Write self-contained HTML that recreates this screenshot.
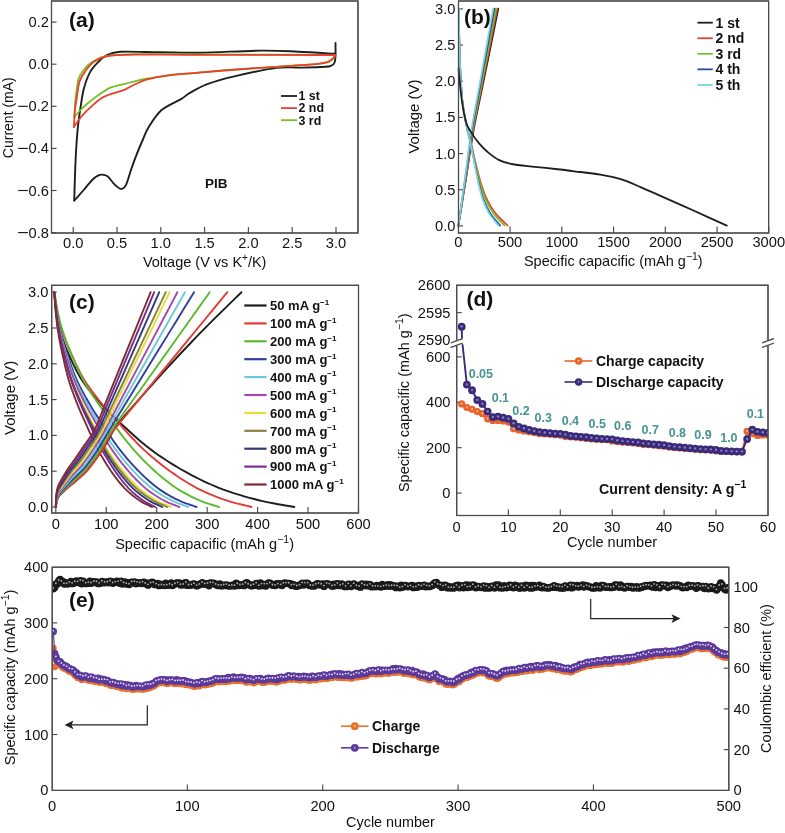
<!DOCTYPE html>
<html><head><meta charset="utf-8"><style>
html,body{margin:0;padding:0;background:#fff;width:785px;height:833px;overflow:hidden}
svg{display:block;will-change:transform;font-family:"Liberation Sans", sans-serif}
</style></head><body>
<svg width="785" height="833" viewBox="0 0 785 833">
<rect width="785" height="833" fill="#fff"/>
<rect x="51.5" y="1" width="306.5" height="232" fill="none" stroke="#4a4a4a" stroke-width="1.15"/>
<line x1="73.2" y1="233" x2="73.2" y2="227" stroke="#4a4a4a" stroke-width="1.15"/>
<text x="73.2" y="247.5" font-size="14.7" text-anchor="middle" font-weight="normal" fill="#111" >0.0</text>
<line x1="117" y1="233" x2="117" y2="227" stroke="#4a4a4a" stroke-width="1.15"/>
<text x="117" y="247.5" font-size="14.7" text-anchor="middle" font-weight="normal" fill="#111" >0.5</text>
<line x1="160.8" y1="233" x2="160.8" y2="227" stroke="#4a4a4a" stroke-width="1.15"/>
<text x="160.8" y="247.5" font-size="14.7" text-anchor="middle" font-weight="normal" fill="#111" >1.0</text>
<line x1="204.6" y1="233" x2="204.6" y2="227" stroke="#4a4a4a" stroke-width="1.15"/>
<text x="204.6" y="247.5" font-size="14.7" text-anchor="middle" font-weight="normal" fill="#111" >1.5</text>
<line x1="248.4" y1="233" x2="248.4" y2="227" stroke="#4a4a4a" stroke-width="1.15"/>
<text x="248.4" y="247.5" font-size="14.7" text-anchor="middle" font-weight="normal" fill="#111" >2.0</text>
<line x1="292.2" y1="233" x2="292.2" y2="227" stroke="#4a4a4a" stroke-width="1.15"/>
<text x="292.2" y="247.5" font-size="14.7" text-anchor="middle" font-weight="normal" fill="#111" >2.5</text>
<line x1="336" y1="233" x2="336" y2="227" stroke="#4a4a4a" stroke-width="1.15"/>
<text x="336" y="247.5" font-size="14.7" text-anchor="middle" font-weight="normal" fill="#111" >3.0</text>
<line x1="51.5" y1="22.1" x2="56.5" y2="22.1" stroke="#4a4a4a" stroke-width="1.15"/>
<text x="49" y="27.1" font-size="14.7" text-anchor="end" font-weight="normal" fill="#111" >0.2</text>
<line x1="51.5" y1="64.2" x2="56.5" y2="64.2" stroke="#4a4a4a" stroke-width="1.15"/>
<text x="49" y="69.2" font-size="14.7" text-anchor="end" font-weight="normal" fill="#111" >0.0</text>
<line x1="51.5" y1="106.3" x2="56.5" y2="106.3" stroke="#4a4a4a" stroke-width="1.15"/>
<text x="49" y="111.3" font-size="14.7" text-anchor="end" font-weight="normal" fill="#111" >0.2</text>
<line x1="18.2" y1="106.3" x2="27.9" y2="106.3" stroke="#1a1a1a" stroke-width="1.15"/>
<line x1="51.5" y1="148.4" x2="56.5" y2="148.4" stroke="#4a4a4a" stroke-width="1.15"/>
<text x="49" y="153.4" font-size="14.7" text-anchor="end" font-weight="normal" fill="#111" >0.4</text>
<line x1="18.2" y1="148.4" x2="27.9" y2="148.4" stroke="#1a1a1a" stroke-width="1.15"/>
<line x1="51.5" y1="190.5" x2="56.5" y2="190.5" stroke="#4a4a4a" stroke-width="1.15"/>
<text x="49" y="195.5" font-size="14.7" text-anchor="end" font-weight="normal" fill="#111" >0.6</text>
<line x1="18.2" y1="190.5" x2="27.9" y2="190.5" stroke="#1a1a1a" stroke-width="1.15"/>
<line x1="51.5" y1="232.6" x2="56.5" y2="232.6" stroke="#4a4a4a" stroke-width="1.15"/>
<text x="49" y="237.6" font-size="14.7" text-anchor="end" font-weight="normal" fill="#111" >0.8</text>
<line x1="18.2" y1="232.6" x2="27.9" y2="232.6" stroke="#1a1a1a" stroke-width="1.15"/>
<text x="204.7" y="266.5" font-size="14.5" text-anchor="middle" font-weight="normal" fill="#111" >Voltage (V vs K<tspan font-size="10" dy="-5.5">+</tspan><tspan dy="5.5">/K)</tspan></text>
<text x="0" y="0" font-size="14" text-anchor="middle" font-weight="normal" fill="#111" transform="translate(12.5,117.7) rotate(-90)">Current (mA)</text>
<text x="69" y="26.7" font-size="21" text-anchor="start" font-weight="bold" fill="#111" >(a)</text>
<text x="205" y="188.3" font-size="13.5" text-anchor="start" font-weight="bold" fill="#111" >PIB</text>
<line x1="281" y1="96" x2="297" y2="96" stroke="#1e1e1e" stroke-width="1.8"/>
<text x="298.5" y="100.3" font-size="12.4" text-anchor="start" font-weight="bold" fill="#111" >1 st</text>
<line x1="281" y1="108.1" x2="297" y2="108.1" stroke="#e8412c" stroke-width="1.8"/>
<text x="298.5" y="112.4" font-size="12.4" text-anchor="start" font-weight="bold" fill="#111" >2 nd</text>
<line x1="281" y1="120.2" x2="297" y2="120.2" stroke="#76c021" stroke-width="1.8"/>
<text x="298.5" y="124.5" font-size="12.4" text-anchor="start" font-weight="bold" fill="#111" >3 rd</text>
<path d="M335.5 43C335.5 45.17 335.65 52.75 335.5 56C335.35 59.25 335.27 60.92 334.6 62.5C333.93 64.08 333.1 64.78 331.5 65.5C329.9 66.22 330.25 66.45 325 66.8C319.75 67.15 308.07 67.42 300 67.6C291.93 67.78 287.72 66.4 276.6 67.9C265.48 69.4 244.85 73.9 233.3 76.6C221.75 79.3 214.52 81.4 207.3 84.1C200.08 86.8 194.38 90.3 190 92.8C185.62 95.3 185.73 96.23 181 99.1C176.27 101.97 167 105.32 161.6 110C156.2 114.68 151.75 122.2 148.6 127.2C145.45 132.2 144.75 135.32 142.7 140C140.65 144.68 138.22 150.42 136.3 155.3C134.38 160.18 132.9 164.42 131.2 169.3C129.5 174.18 127.8 181.32 126.1 184.6C124.4 187.88 122.9 189 121 189C119.1 189 116.82 186.62 114.7 184.6C112.58 182.58 109.92 178.48 108.3 176.9C106.68 175.32 106.07 175.48 105 175.1C103.93 174.72 103.07 174.52 101.9 174.6C100.73 174.68 99.32 174.98 98 175.6C96.68 176.22 95.5 176.97 94 178.3C92.5 179.63 90.65 181.73 89 183.6C87.35 185.47 85.77 187.55 84.1 189.5C82.43 191.45 80.65 193.47 79 195.3C77.35 197.13 75 199.63 74.2 200.5" fill="none" stroke="#1e1e1e" stroke-width="1.9" stroke-linejoin="round" stroke-linecap="round" />
<path d="M74.2 200.5C74.43 193.75 75.03 171.75 75.6 160C76.17 148.25 76.78 138.72 77.6 130C78.42 121.28 79.45 114.62 80.5 107.7C81.55 100.78 82.3 94.43 83.9 88.5C85.5 82.57 87.62 76.6 90.1 72.1C92.58 67.6 96.07 64.3 98.8 61.5C101.53 58.7 102.88 56.92 106.5 55.3C110.12 53.68 111.58 52.3 120.5 51.8C129.42 51.3 146.75 52.15 160 52.3C173.25 52.45 183.08 52.98 200 52.7C216.92 52.42 245.12 50.77 261.5 50.6C277.88 50.43 286.03 51.17 298.3 51.7C310.57 52.23 328.97 53.45 335.1 53.8" fill="none" stroke="#1e1e1e" stroke-width="1.9" stroke-linejoin="round" stroke-linecap="round" />
<path d="M335.5 55C334.72 55.97 333.38 59.37 330.8 60.8C328.22 62.23 329.03 62.6 320 63.6C310.97 64.6 291.6 65.73 276.6 66.8C261.6 67.87 244.43 68.92 230 70C215.57 71.08 200.33 72.37 190 73.3C179.67 74.23 175.27 74.72 168 75.6C160.73 76.48 152.73 77.45 146.4 78.6C140.07 79.75 135.4 81.18 130 82.5C124.6 83.82 117.67 85.43 114 86.5C110.33 87.57 110.87 87.28 108 88.9C105.13 90.52 100.27 93.72 96.8 96.2C93.33 98.68 90 101.42 87.2 103.8C84.4 106.18 82.15 108.25 80 110.5C77.85 112.75 75.25 116.17 74.3 117.3" fill="none" stroke="#76c021" stroke-width="1.8" stroke-linejoin="round" stroke-linecap="round" />
<path d="M74.3 117.3C74.43 114.92 74.78 107 75.1 103C75.42 99 75.62 97.33 76.2 93.3C76.78 89.27 77.4 82.65 78.6 78.8C79.8 74.95 81.17 73 83.4 70.2C85.63 67.4 88.15 64.37 92 62C95.85 59.63 99.23 57.3 106.5 56C113.77 54.7 120.02 54.47 135.6 54.2C151.18 53.93 166.75 54.3 200 54.4C233.25 54.5 312.58 54.73 335.1 54.8" fill="none" stroke="#76c021" stroke-width="1.8" stroke-linejoin="round" stroke-linecap="round" />
<path d="M335.5 54.9C334.72 55.8 333.38 58.85 330.8 60.3C328.22 61.75 329.03 62.52 320 63.6C310.97 64.68 291.6 65.73 276.6 66.8C261.6 67.87 244.43 68.92 230 70C215.57 71.08 200.33 72.4 190 73.3C179.67 74.2 175.27 74.33 168 75.4C160.73 76.47 152.52 77.9 146.4 79.7C140.28 81.5 134.9 84.55 131.3 86.2C127.7 87.85 128.68 88.1 124.8 89.6C120.92 91.1 111.85 93.78 108 95.2C104.15 96.62 104.37 96.33 101.7 98.1C99.03 99.87 95.22 102.92 92 105.8C88.78 108.68 85.43 111.88 82.4 115.4C79.37 118.92 75.23 124.98 73.8 126.9" fill="none" stroke="#e8412c" stroke-width="1.8" stroke-linejoin="round" stroke-linecap="round" />
<path d="M73.8 126.9C74 124.08 74.52 114.8 75 110C75.48 105.2 75.95 102.82 76.7 98.1C77.45 93.38 78.07 86.18 79.5 81.7C80.93 77.22 83.05 74.4 85.3 71.2C87.55 68 89.47 64.99 93 62.5C96.53 60.01 99.4 57.57 106.5 56.25C113.6 54.93 120.02 54.83 135.6 54.6C151.18 54.38 166.75 54.83 200 54.9C233.25 54.97 312.58 54.98 335.1 55" fill="none" stroke="#e8412c" stroke-width="1.8" stroke-linejoin="round" stroke-linecap="round" />
<rect x="458.5" y="1" width="310.1" height="232" fill="none" stroke="#4a4a4a" stroke-width="1.15"/>
<text x="458.3" y="246.8" font-size="14.7" text-anchor="middle" font-weight="normal" fill="#111" >0</text>
<line x1="510.05" y1="233" x2="510.05" y2="226.5" stroke="#4a4a4a" stroke-width="1.15"/>
<text x="510.05" y="246.8" font-size="14.7" text-anchor="middle" font-weight="normal" fill="#111" >500</text>
<line x1="561.8" y1="233" x2="561.8" y2="226.5" stroke="#4a4a4a" stroke-width="1.15"/>
<text x="561.8" y="246.8" font-size="14.7" text-anchor="middle" font-weight="normal" fill="#111" >1000</text>
<line x1="613.55" y1="233" x2="613.55" y2="226.5" stroke="#4a4a4a" stroke-width="1.15"/>
<text x="613.55" y="246.8" font-size="14.7" text-anchor="middle" font-weight="normal" fill="#111" >1500</text>
<line x1="665.3" y1="233" x2="665.3" y2="226.5" stroke="#4a4a4a" stroke-width="1.15"/>
<text x="665.3" y="246.8" font-size="14.7" text-anchor="middle" font-weight="normal" fill="#111" >2000</text>
<line x1="717.05" y1="233" x2="717.05" y2="226.5" stroke="#4a4a4a" stroke-width="1.15"/>
<text x="717.05" y="246.8" font-size="14.7" text-anchor="middle" font-weight="normal" fill="#111" >2500</text>
<line x1="768.8" y1="233" x2="768.8" y2="226.5" stroke="#4a4a4a" stroke-width="1.15"/>
<text x="768.8" y="246.8" font-size="14.7" text-anchor="middle" font-weight="normal" fill="#111" >3000</text>
<line x1="458.5" y1="225.9" x2="463" y2="225.9" stroke="#4a4a4a" stroke-width="1.15"/>
<text x="455.5" y="230.9" font-size="14.7" text-anchor="end" font-weight="normal" fill="#111" >0.0</text>
<line x1="458.5" y1="189.74" x2="463" y2="189.74" stroke="#4a4a4a" stroke-width="1.15"/>
<text x="455.5" y="194.74" font-size="14.7" text-anchor="end" font-weight="normal" fill="#111" >0.5</text>
<line x1="458.5" y1="153.57" x2="463" y2="153.57" stroke="#4a4a4a" stroke-width="1.15"/>
<text x="455.5" y="158.57" font-size="14.7" text-anchor="end" font-weight="normal" fill="#111" >1.0</text>
<line x1="458.5" y1="117.41" x2="463" y2="117.41" stroke="#4a4a4a" stroke-width="1.15"/>
<text x="455.5" y="122.41" font-size="14.7" text-anchor="end" font-weight="normal" fill="#111" >1.5</text>
<line x1="458.5" y1="81.24" x2="463" y2="81.24" stroke="#4a4a4a" stroke-width="1.15"/>
<text x="455.5" y="86.24" font-size="14.7" text-anchor="end" font-weight="normal" fill="#111" >2.0</text>
<line x1="458.5" y1="45.08" x2="463" y2="45.08" stroke="#4a4a4a" stroke-width="1.15"/>
<text x="455.5" y="50.08" font-size="14.7" text-anchor="end" font-weight="normal" fill="#111" >2.5</text>
<line x1="458.5" y1="8.91" x2="463" y2="8.91" stroke="#4a4a4a" stroke-width="1.15"/>
<text x="455.5" y="13.91" font-size="14.7" text-anchor="end" font-weight="normal" fill="#111" >3.0</text>
<text x="613.3" y="266.2" font-size="14.5" text-anchor="middle" font-weight="normal" fill="#111" >Specific capacific (mAh g<tspan font-size="10.5" dy="-6">−1</tspan><tspan dy="6">)</tspan></text>
<text x="0" y="0" font-size="15" text-anchor="middle" font-weight="normal" fill="#111" transform="translate(418.8,116.5) rotate(-90)">Voltage (V)</text>
<text x="464" y="24.3" font-size="21" text-anchor="start" font-weight="bold" fill="#111" >(b)</text>
<line x1="697.4" y1="22.7" x2="712.8" y2="22.7" stroke="#1e1e1e" stroke-width="1.8"/>
<text x="715.5" y="27.7" font-size="14" text-anchor="start" font-weight="bold" fill="#111" >1 st</text>
<line x1="697.4" y1="38.25" x2="712.8" y2="38.25" stroke="#e8412c" stroke-width="1.8"/>
<text x="715.5" y="43.25" font-size="14" text-anchor="start" font-weight="bold" fill="#111" >2 nd</text>
<line x1="697.4" y1="53.8" x2="712.8" y2="53.8" stroke="#76c021" stroke-width="1.8"/>
<text x="715.5" y="58.8" font-size="14" text-anchor="start" font-weight="bold" fill="#111" >3 rd</text>
<line x1="697.4" y1="69.35" x2="712.8" y2="69.35" stroke="#2a4aa8" stroke-width="1.8"/>
<text x="715.5" y="74.35" font-size="14" text-anchor="start" font-weight="bold" fill="#111" >4 th</text>
<line x1="697.4" y1="84.9" x2="712.8" y2="84.9" stroke="#7fd3e0" stroke-width="1.8"/>
<text x="715.5" y="89.9" font-size="14" text-anchor="start" font-weight="bold" fill="#111" >5 th</text>
<path d="M458.4 225.9C459.69 217.92 463.58 193.98 466.13 178C468.67 162.02 470.87 145.5 473.65 130C476.43 114.5 479.76 100 482.81 85C485.86 70 489.39 52.73 491.97 40C494.55 27.27 497.25 13.83 498.31 8.6" fill="none" stroke="#1e1e1e" stroke-width="1.7" stroke-linejoin="round" stroke-linecap="round" />
<path d="M458.4 225.9C459.65 217.92 463.42 193.98 465.88 178C468.34 162.02 470.47 145.5 473.17 130C475.87 114.5 479.12 100 482.1 85C485.07 70 488.51 52.73 491.03 40C493.54 27.27 496.18 13.83 497.21 8.6" fill="none" stroke="#e8412c" stroke-width="1.7" stroke-linejoin="round" stroke-linecap="round" />
<path d="M458.4 225.9C459.6 217.92 463.25 193.98 465.62 178C467.99 162.02 470.02 145.5 472.64 130C475.25 114.5 478.42 100 481.32 85C484.21 70 487.55 52.73 490 40C492.45 27.27 495 13.83 496 8.6" fill="none" stroke="#76c021" stroke-width="1.7" stroke-linejoin="round" stroke-linecap="round" />
<path d="M458.4 225.9C459.55 217.92 463.02 193.98 465.29 178C467.55 162.02 469.46 145.5 471.97 130C474.48 114.5 477.55 100 480.34 85C483.13 70 486.35 52.73 488.71 40C491.07 27.27 493.54 13.83 494.5 8.6" fill="none" stroke="#2a4aa8" stroke-width="1.7" stroke-linejoin="round" stroke-linecap="round" />
<path d="M458.4 225.9C459.5 217.92 462.83 193.98 465 178C467.17 162.02 468.98 145.5 471.4 130C473.82 114.5 476.8 100 479.5 85C482.2 70 485.32 52.73 487.6 40C489.88 27.27 492.27 13.83 493.2 8.6" fill="none" stroke="#7fd3e0" stroke-width="1.7" stroke-linejoin="round" stroke-linecap="round" />
<path d="M458.9 8.9C458.97 14.08 459.07 29.82 459.3 40C459.53 50.18 459.8 60 460.3 70C460.8 80 461.27 90.83 462.3 100C463.33 109.17 465.02 117.72 466.5 125C467.98 132.28 469.62 137.07 471.2 143.7C472.78 150.33 474.25 157.78 476 164.8C477.75 171.82 479.8 179.87 481.7 185.8C483.6 191.73 485.1 195.8 487.4 200.4C489.7 205 492.13 209.22 495.5 213.4C498.87 217.58 505.58 223.48 507.6 225.5" fill="none" stroke="#e8412c" stroke-width="1.7" stroke-linejoin="round" stroke-linecap="round" />
<path d="M458.9 8.9C458.97 14.08 459.07 29.82 459.3 40C459.53 50.18 459.8 60 460.3 70C460.8 80 461.26 90.83 462.28 100C463.31 109.17 464.97 117.72 466.43 125C467.89 132.28 469.5 137.07 471.03 143.7C472.55 150.33 473.95 157.78 475.58 164.8C477.21 171.82 479.08 179.87 480.81 185.8C482.54 191.73 483.87 195.8 485.97 200.4C488.06 205 490.27 209.22 493.38 213.4C496.48 217.58 502.73 223.48 504.6 225.5" fill="none" stroke="#76c021" stroke-width="1.7" stroke-linejoin="round" stroke-linecap="round" />
<path d="M458.9 8.9C458.97 14.08 459.07 29.82 459.3 40C459.53 50.18 459.8 60 460.3 70C460.79 80 461.25 90.83 462.26 100C463.26 109.17 464.91 117.72 466.32 125C467.74 132.28 469.33 137.07 470.77 143.7C472.21 150.33 473.52 157.78 474.97 164.8C476.43 171.82 478.02 179.87 479.5 185.8C480.99 191.73 482.07 195.8 483.87 200.4C485.66 205 487.54 209.22 490.26 213.4C492.98 217.58 498.54 223.48 500.2 225.5" fill="none" stroke="#2a4aa8" stroke-width="1.7" stroke-linejoin="round" stroke-linecap="round" />
<path d="M458.9 8.9C458.97 14.08 459.07 29.82 459.3 40C459.53 50.18 459.8 60 460.3 70C460.79 80 461.25 90.83 462.25 100C463.25 109.17 464.88 117.72 466.28 125C467.68 132.28 469.26 137.07 470.67 143.7C472.07 150.33 473.34 157.78 474.72 164.8C476.1 171.82 477.59 179.87 478.97 185.8C480.35 191.73 481.34 195.8 483.01 200.4C484.68 205 486.42 209.22 488.98 213.4C491.55 217.58 496.83 223.48 498.4 225.5" fill="none" stroke="#7fd3e0" stroke-width="1.7" stroke-linejoin="round" stroke-linecap="round" />
<path d="M458.6 68.7C459.08 73.58 460.27 89.12 461.5 98C462.73 106.88 464.38 116.27 466 122C467.62 127.73 468.98 128.78 471.2 132.4C473.42 136.02 476.6 140.47 479.3 143.7C482 146.93 484.17 149.1 487.4 151.8C490.63 154.5 494.65 157.87 498.7 159.9C502.75 161.93 505.65 162.85 511.7 164C517.75 165.15 526.95 165.88 535 166.8C543.05 167.72 552.5 168.63 560 169.5C567.5 170.37 573.27 171.15 580 172C586.73 172.85 593.6 173.42 600.4 174.6C607.2 175.78 614.02 176.98 620.8 179.1C627.58 181.22 634.32 184.42 641.1 187.3C647.88 190.18 652.68 192.48 661.5 196.4C670.32 200.32 683.12 205.93 694 210.8C704.88 215.67 721.33 223.13 726.8 225.6" fill="none" stroke="#1e1e1e" stroke-width="1.8" stroke-linejoin="round" stroke-linecap="round" />
<rect x="51.7" y="285.3" width="306.8" height="227.7" fill="none" stroke="#4a4a4a" stroke-width="1.15"/>
<line x1="55.8" y1="513" x2="55.8" y2="507" stroke="#4a4a4a" stroke-width="1.15"/>
<text x="55.8" y="528.8" font-size="14.7" text-anchor="middle" font-weight="normal" fill="#111" >0</text>
<line x1="106.25" y1="513" x2="106.25" y2="507" stroke="#4a4a4a" stroke-width="1.15"/>
<text x="106.25" y="528.8" font-size="14.7" text-anchor="middle" font-weight="normal" fill="#111" >100</text>
<line x1="156.7" y1="513" x2="156.7" y2="507" stroke="#4a4a4a" stroke-width="1.15"/>
<text x="156.7" y="528.8" font-size="14.7" text-anchor="middle" font-weight="normal" fill="#111" >200</text>
<line x1="207.15" y1="513" x2="207.15" y2="507" stroke="#4a4a4a" stroke-width="1.15"/>
<text x="207.15" y="528.8" font-size="14.7" text-anchor="middle" font-weight="normal" fill="#111" >300</text>
<line x1="257.6" y1="513" x2="257.6" y2="507" stroke="#4a4a4a" stroke-width="1.15"/>
<text x="257.6" y="528.8" font-size="14.7" text-anchor="middle" font-weight="normal" fill="#111" >400</text>
<line x1="308.05" y1="513" x2="308.05" y2="507" stroke="#4a4a4a" stroke-width="1.15"/>
<text x="308.05" y="528.8" font-size="14.7" text-anchor="middle" font-weight="normal" fill="#111" >500</text>
<line x1="358.5" y1="513" x2="358.5" y2="507" stroke="#4a4a4a" stroke-width="1.15"/>
<text x="358.5" y="528.8" font-size="14.7" text-anchor="middle" font-weight="normal" fill="#111" >600</text>
<line x1="51.7" y1="507" x2="56.7" y2="507" stroke="#4a4a4a" stroke-width="1.15"/>
<text x="48.5" y="512" font-size="14.7" text-anchor="end" font-weight="normal" fill="#111" >0.0</text>
<line x1="51.7" y1="471.2" x2="56.7" y2="471.2" stroke="#4a4a4a" stroke-width="1.15"/>
<text x="48.5" y="476.2" font-size="14.7" text-anchor="end" font-weight="normal" fill="#111" >0.5</text>
<line x1="51.7" y1="435.4" x2="56.7" y2="435.4" stroke="#4a4a4a" stroke-width="1.15"/>
<text x="48.5" y="440.4" font-size="14.7" text-anchor="end" font-weight="normal" fill="#111" >1.0</text>
<line x1="51.7" y1="399.6" x2="56.7" y2="399.6" stroke="#4a4a4a" stroke-width="1.15"/>
<text x="48.5" y="404.6" font-size="14.7" text-anchor="end" font-weight="normal" fill="#111" >1.5</text>
<line x1="51.7" y1="363.8" x2="56.7" y2="363.8" stroke="#4a4a4a" stroke-width="1.15"/>
<text x="48.5" y="368.8" font-size="14.7" text-anchor="end" font-weight="normal" fill="#111" >2.0</text>
<line x1="51.7" y1="328" x2="56.7" y2="328" stroke="#4a4a4a" stroke-width="1.15"/>
<text x="48.5" y="333" font-size="14.7" text-anchor="end" font-weight="normal" fill="#111" >2.5</text>
<line x1="51.7" y1="292.2" x2="56.7" y2="292.2" stroke="#4a4a4a" stroke-width="1.15"/>
<text x="48.5" y="297.2" font-size="14.7" text-anchor="end" font-weight="normal" fill="#111" >3.0</text>
<text x="204.6" y="549" font-size="14.5" text-anchor="middle" font-weight="normal" fill="#111" >Specific capacific (mAh g<tspan font-size="10.5" dy="-6">−1</tspan><tspan dy="6">)</tspan></text>
<text x="0" y="0" font-size="15" text-anchor="middle" font-weight="normal" fill="#111" transform="translate(14.6,397.9) rotate(-90)">Voltage (V)</text>
<text x="69" y="308.9" font-size="21" text-anchor="start" font-weight="bold" fill="#111" >(c)</text>
<line x1="244.3" y1="305.5" x2="266.6" y2="305.5" stroke="#1e1e1e" stroke-width="2.2"/>
<text x="270" y="310.3" font-size="13" text-anchor="start" font-weight="bold" fill="#111" >50 mA g<tspan font-size="8" dy="-5.5">−1</tspan></text>
<line x1="244.3" y1="323.4" x2="266.6" y2="323.4" stroke="#e23b35" stroke-width="2.2"/>
<text x="270" y="328.2" font-size="13" text-anchor="start" font-weight="bold" fill="#111" >100 mA g<tspan font-size="8" dy="-5.5">−1</tspan></text>
<line x1="244.3" y1="341.3" x2="266.6" y2="341.3" stroke="#5cb82e" stroke-width="2.2"/>
<text x="270" y="346.1" font-size="13" text-anchor="start" font-weight="bold" fill="#111" >200 mA g<tspan font-size="8" dy="-5.5">−1</tspan></text>
<line x1="244.3" y1="359.2" x2="266.6" y2="359.2" stroke="#2f3f9c" stroke-width="2.2"/>
<text x="270" y="364" font-size="13" text-anchor="start" font-weight="bold" fill="#111" >300 mA g<tspan font-size="8" dy="-5.5">−1</tspan></text>
<line x1="244.3" y1="377.1" x2="266.6" y2="377.1" stroke="#6ccad8" stroke-width="2.2"/>
<text x="270" y="381.9" font-size="13" text-anchor="start" font-weight="bold" fill="#111" >400 mA g<tspan font-size="8" dy="-5.5">−1</tspan></text>
<line x1="244.3" y1="395" x2="266.6" y2="395" stroke="#a54aad" stroke-width="2.2"/>
<text x="270" y="399.8" font-size="13" text-anchor="start" font-weight="bold" fill="#111" >500 mA g<tspan font-size="8" dy="-5.5">−1</tspan></text>
<line x1="244.3" y1="412.9" x2="266.6" y2="412.9" stroke="#e8dc3a" stroke-width="2.2"/>
<text x="270" y="417.7" font-size="13" text-anchor="start" font-weight="bold" fill="#111" >600 mA g<tspan font-size="8" dy="-5.5">−1</tspan></text>
<line x1="244.3" y1="430.8" x2="266.6" y2="430.8" stroke="#8a8040" stroke-width="2.2"/>
<text x="270" y="435.6" font-size="13" text-anchor="start" font-weight="bold" fill="#111" >700 mA g<tspan font-size="8" dy="-5.5">−1</tspan></text>
<line x1="244.3" y1="448.7" x2="266.6" y2="448.7" stroke="#343a78" stroke-width="2.2"/>
<text x="270" y="453.5" font-size="13" text-anchor="start" font-weight="bold" fill="#111" >800 mA g<tspan font-size="8" dy="-5.5">−1</tspan></text>
<line x1="244.3" y1="466.6" x2="266.6" y2="466.6" stroke="#7a2a90" stroke-width="2.2"/>
<text x="270" y="471.4" font-size="13" text-anchor="start" font-weight="bold" fill="#111" >900 mA g<tspan font-size="8" dy="-5.5">−1</tspan></text>
<line x1="244.3" y1="484.5" x2="266.6" y2="484.5" stroke="#7a2e32" stroke-width="2.2"/>
<text x="270" y="489.3" font-size="13" text-anchor="start" font-weight="bold" fill="#111" >1000 mA g<tspan font-size="8" dy="-5.5">−1</tspan></text>
<path d="M294.28 507L292.88 506.75L290.27 506.29L286.83 505.69L282.72 504.99L278.1 504.19L273.19 503.3L268.26 502.34L263.52 501.31L258.82 500.21L254.14 499.04L249.52 497.82L244.95 496.54L240.42 495.21L235.9 493.82L231.44 492.38L227.06 490.9L222.82 489.37L218.74 487.79L214.81 486.16L210.93 484.5L207.1 482.79L203.33 481.04L199.62 479.25L195.97 477.42L192.36 475.55L188.8 473.65L185.28 471.7L181.78 469.73L178.3 467.71L174.86 465.66L171.45 463.58L168.08 461.46L164.76 459.31L161.48 457.12L158.25 454.91L155.08 452.66L151.96 450.38L148.89 448.07L145.9 445.73L142.98 443.36L140.12 440.95L137.31 438.52L134.54 436.06L131.8 433.57L129.06 431.06L126.32 428.51L123.55 425.94L120.75 423.34L117.91 420.71L115.06 418.05L112.22 415.37L109.41 412.66L106.65 409.93L103.98 407.17L101.42 404.38L98.91 401.57L96.42 398.74L93.96 395.87L91.54 392.99L89.18 390.08L86.89 387.14L84.71 384.18L82.64 381.2L80.71 378.19L78.91 375.16L77.22 372.11L75.62 369.03L74.09 365.93L72.61 362.81L71.17 359.66L69.74 356.49L68.32 353.3L66.93 350.09L65.58 346.85L64.31 343.6L63.13 340.32L62.05 337.02L61.01 333.69L60.02 330.35L59.11 326.99L58.3 323.6L57.62 320.19L57.03 316.77L56.49 313.32L56.01 309.85L55.57 306.36L55.19 302.85L54.87 299.32L54.59 295.77L54.29 292.2" fill="none" stroke="#1e1e1e" stroke-width="1.9" stroke-linejoin="round" stroke-linecap="round" />
<path d="M251.55 507L250.55 506.75L248.68 506.29L246.21 505.69L243.26 504.99L239.94 504.19L236.39 503.3L232.81 502.34L229.38 501.31L225.95 500.21L222.53 499.04L219.14 497.82L215.78 496.54L212.44 495.21L209.1 493.82L205.78 492.38L202.53 490.9L199.35 489.37L196.3 487.79L193.34 486.16L190.41 484.5L187.52 482.79L184.66 481.04L181.83 479.25L179.04 477.42L176.27 475.55L173.53 473.65L170.81 471.7L168.1 469.73L165.4 467.71L162.71 465.66L160.04 463.58L157.39 461.46L154.77 459.31L152.17 457.12L149.6 454.91L147.06 452.66L144.56 450.38L142.1 448.07L139.68 445.73L137.3 443.36L134.97 440.95L132.67 438.52L130.39 436.06L128.12 433.57L125.85 431.06L123.57 428.51L121.25 425.94L118.88 423.34L116.48 420.71L114.05 418.05L111.61 415.37L109.18 412.66L106.79 409.93L104.45 407.17L102.2 404.38L99.98 401.57L97.75 398.74L95.53 395.87L93.33 392.99L91.17 390.08L89.07 387.14L87.03 384.18L85.09 381.2L83.26 378.19L81.53 375.16L79.9 372.11L78.34 369.03L76.83 365.93L75.36 362.81L73.91 359.66L72.46 356.49L71 353.3L69.54 350.09L68.12 346.85L66.76 343.6L65.47 340.32L64.27 337.02L63.1 333.69L61.96 330.35L60.89 326.99L59.91 323.6L59.08 320.19L58.33 316.77L57.63 313.32L56.98 309.85L56.38 306.36L55.83 302.85L55.34 299.32L54.88 295.77L54.29 292.2" fill="none" stroke="#e23b35" stroke-width="1.9" stroke-linejoin="round" stroke-linecap="round" />
<path d="M219.01 507L218.23 506.75L216.79 506.29L214.89 505.69L212.6 504.99L210.02 504.19L207.27 503.3L204.49 502.34L201.81 501.31L199.14 500.21L196.47 499.04L193.82 497.82L191.19 496.54L188.57 495.21L185.95 493.82L183.34 492.38L180.77 490.9L178.26 489.37L175.85 487.79L173.51 486.16L171.18 484.5L168.88 482.79L166.61 481.04L164.35 479.25L162.12 477.42L159.91 475.55L157.72 473.65L155.53 471.7L153.35 469.73L151.17 467.71L149 465.66L146.85 463.58L144.7 461.46L142.57 459.31L140.46 457.12L138.37 454.91L136.3 452.66L134.25 450.38L132.23 448.07L130.24 445.73L128.29 443.36L126.36 440.95L124.46 438.52L122.57 436.06L120.69 433.57L118.8 431.06L116.89 428.51L114.95 425.94L112.97 423.34L110.95 420.71L108.89 418.05L106.83 415.37L104.77 412.66L102.73 409.93L100.74 407.17L98.8 404.38L96.89 401.57L94.97 398.74L93.04 395.87L91.13 392.99L89.24 390.08L87.39 387.14L85.6 384.18L83.87 381.2L82.24 378.19L80.71 375.16L79.24 372.11L77.82 369.03L76.46 365.93L75.12 362.81L73.79 359.66L72.45 356.49L71.1 353.3L69.74 350.09L68.41 346.85L67.11 343.6L65.88 340.32L64.73 337.02L63.59 333.69L62.47 330.35L61.41 326.99L60.43 323.6L59.58 320.19L58.81 316.77L58.08 313.32L57.4 309.85L56.75 306.36L56.14 302.85L55.59 299.32L55.05 295.77L54.29 292.2" fill="none" stroke="#5cb82e" stroke-width="1.9" stroke-linejoin="round" stroke-linecap="round" />
<path d="M196.56 507L195.85 506.75L194.53 506.29L192.78 505.69L190.69 504.99L188.34 504.19L185.82 503.3L183.29 502.34L180.85 501.31L178.42 500.21L176 499.04L173.59 497.82L171.21 496.54L168.83 495.21L166.46 493.82L164.1 492.38L161.79 490.9L159.53 489.37L157.36 487.79L155.25 486.16L153.16 484.5L151.1 482.79L149.06 481.04L147.05 479.25L145.05 477.42L143.08 475.55L141.12 473.65L139.18 471.7L137.24 469.73L135.31 467.71L133.38 465.66L131.47 463.58L129.58 461.46L127.7 459.31L125.84 457.12L123.99 454.91L122.17 452.66L120.38 450.38L118.61 448.07L116.87 445.73L115.16 443.36L113.48 440.95L111.83 438.52L110.19 436.06L108.55 433.57L106.91 431.06L105.26 428.51L103.59 425.94L101.88 423.34L100.14 420.71L98.38 418.05L96.62 415.37L94.86 412.66L93.13 409.93L91.43 407.17L89.79 404.38L88.18 401.57L86.55 398.74L84.94 395.87L83.34 392.99L81.76 390.08L80.22 387.14L78.73 384.18L77.3 381.2L75.96 378.19L74.7 375.16L73.5 372.11L72.34 369.03L71.23 365.93L70.15 362.81L69.08 359.66L68 356.49L66.92 353.3L65.84 350.09L64.79 346.85L63.77 343.6L62.81 340.32L61.91 337.02L61.03 333.69L60.18 330.35L59.37 326.99L58.63 323.6L58 320.19L57.43 316.77L56.89 313.32L56.4 309.85L55.93 306.36L55.51 302.85L55.12 299.32L54.76 295.77L54.29 292.2" fill="none" stroke="#2f3f9c" stroke-width="1.9" stroke-linejoin="round" stroke-linecap="round" />
<path d="M188.38 507L187.71 506.75L186.46 506.29L184.8 505.69L182.82 504.99L180.59 504.19L178.2 503.3L175.8 502.34L173.49 501.31L171.19 500.21L168.89 499.04L166.61 497.82L164.35 496.54L162.1 495.21L159.85 493.82L157.62 492.38L155.43 490.9L153.29 489.37L151.23 487.79L149.24 486.16L147.26 484.5L145.31 482.79L143.38 481.04L141.47 479.25L139.59 477.42L137.72 475.55L135.87 473.65L134.03 471.7L132.2 469.73L130.37 467.71L128.56 465.66L126.75 463.58L124.96 461.46L123.18 459.31L121.43 457.12L119.69 454.91L117.97 452.66L116.27 450.38L114.6 448.07L112.96 445.73L111.35 443.36L109.77 440.95L108.21 438.52L106.66 436.06L105.12 433.57L103.57 431.06L102.02 428.51L100.44 425.94L98.83 423.34L97.19 420.71L95.54 418.05L93.88 415.37L92.22 412.66L90.59 409.93L88.99 407.17L87.45 404.38L85.93 401.57L84.41 398.74L82.89 395.87L81.39 392.99L79.91 390.08L78.46 387.14L77.06 384.18L75.73 381.2L74.47 378.19L73.28 375.16L72.16 372.11L71.08 369.03L70.04 365.93L69.03 362.81L68.02 359.66L67.02 356.49L66.01 353.3L65 350.09L64.02 346.85L63.07 343.6L62.17 340.32L61.34 337.02L60.52 333.69L59.72 330.35L58.97 326.99L58.29 323.6L57.7 320.19L57.17 316.77L56.68 313.32L56.22 309.85L55.8 306.36L55.4 302.85L55.05 299.32L54.72 295.77L54.29 292.2" fill="none" stroke="#6ccad8" stroke-width="1.9" stroke-linejoin="round" stroke-linecap="round" />
<path d="M179.4 507L178.78 506.75L177.62 506.29L176.09 505.69L174.25 504.99L172.18 504.19L169.97 503.3L167.74 502.34L165.59 501.31L163.46 500.21L161.32 499.04L159.21 497.82L157.11 496.54L155.02 495.21L152.94 493.82L150.86 492.38L148.83 490.9L146.84 489.37L144.93 487.79L143.08 486.16L141.24 484.5L139.43 482.79L137.63 481.04L135.86 479.25L134.11 477.42L132.37 475.55L130.65 473.65L128.94 471.7L127.24 469.73L125.54 467.71L123.85 465.66L122.17 463.58L120.5 461.46L118.85 459.31L117.21 457.12L115.59 454.91L113.99 452.66L112.41 450.38L110.85 448.07L109.32 445.73L107.82 443.36L106.35 440.95L104.89 438.52L103.45 436.06L102.01 433.57L100.57 431.06L99.12 428.51L97.65 425.94L96.14 423.34L94.61 420.71L93.07 418.05L91.52 415.37L89.97 412.66L88.44 409.93L86.95 407.17L85.51 404.38L84.09 401.57L82.66 398.74L81.24 395.87L79.83 392.99L78.45 390.08L77.09 387.14L75.78 384.18L74.53 381.2L73.35 378.19L72.24 375.16L71.18 372.11L70.17 369.03L69.19 365.93L68.24 362.81L67.29 359.66L66.35 356.49L65.4 353.3L64.45 350.09L63.52 346.85L62.62 343.6L61.78 340.32L60.99 337.02L60.22 333.69L59.47 330.35L58.76 326.99L58.11 323.6L57.55 320.19L57.05 316.77L56.58 313.32L56.14 309.85L55.74 306.36L55.36 302.85L55.02 299.32L54.71 295.77L54.29 292.2" fill="none" stroke="#a54aad" stroke-width="1.9" stroke-linejoin="round" stroke-linecap="round" />
<path d="M171.18 507L170.59 506.75L169.48 506.29L168.02 505.69L166.27 504.99L164.3 504.19L162.2 503.3L160.08 502.34L158.04 501.31L156.01 500.21L153.99 499.04L151.98 497.82L149.98 496.54L148 495.21L146.03 493.82L144.06 492.38L142.13 490.9L140.25 489.37L138.44 487.79L136.69 486.16L134.95 484.5L133.24 482.79L131.54 481.04L129.87 479.25L128.21 477.42L126.57 475.55L124.95 473.65L123.34 471.7L121.73 469.73L120.13 467.71L118.54 465.66L116.95 463.58L115.38 461.46L113.83 459.31L112.29 457.12L110.77 454.91L109.27 452.66L107.78 450.38L106.32 448.07L104.89 445.73L103.48 443.36L102.1 440.95L100.74 438.52L99.39 436.06L98.04 433.57L96.7 431.06L95.34 428.51L93.97 425.94L92.57 423.34L91.14 420.71L89.7 418.05L88.26 415.37L86.82 412.66L85.4 409.93L84.02 407.17L82.68 404.38L81.36 401.57L80.04 398.74L78.73 395.87L77.43 392.99L76.15 390.08L74.9 387.14L73.69 384.18L72.54 381.2L71.45 378.19L70.43 375.16L69.46 372.11L68.54 369.03L67.64 365.93L66.77 362.81L65.91 359.66L65.05 356.49L64.19 353.3L63.33 350.09L62.49 346.85L61.68 343.6L60.91 340.32L60.2 337.02L59.51 333.69L58.83 330.35L58.2 326.99L57.62 323.6L57.13 320.19L56.68 316.77L56.27 313.32L55.88 309.85L55.53 306.36L55.2 302.85L54.91 299.32L54.64 295.77L54.29 292.2" fill="none" stroke="#e8dc3a" stroke-width="1.9" stroke-linejoin="round" stroke-linecap="round" />
<path d="M167.29 507L166.72 506.75L165.66 506.29L164.25 505.69L162.56 504.99L160.66 504.19L158.64 503.3L156.6 502.34L154.63 501.31L152.67 500.21L150.72 499.04L148.78 497.82L146.86 496.54L144.95 495.21L143.05 493.82L141.15 492.38L139.29 490.9L137.48 489.37L135.73 487.79L134.04 486.16L132.36 484.5L130.71 482.79L129.07 481.04L127.46 479.25L125.86 477.42L124.28 475.55L122.71 473.65L121.15 471.7L119.6 469.73L118.06 467.71L116.52 465.66L114.99 463.58L113.48 461.46L111.97 459.31L110.49 457.12L109.02 454.91L107.57 452.66L106.13 450.38L104.72 448.07L103.34 445.73L101.98 443.36L100.64 440.95L99.33 438.52L98.02 436.06L96.72 433.57L95.42 431.06L94.11 428.51L92.78 425.94L91.43 423.34L90.05 420.71L88.65 418.05L87.26 415.37L85.87 412.66L84.49 409.93L83.15 407.17L81.86 404.38L80.59 401.57L79.31 398.74L78.03 395.87L76.77 392.99L75.53 390.08L74.32 387.14L73.15 384.18L72.04 381.2L70.98 378.19L70 375.16L69.06 372.11L68.16 369.03L67.29 365.93L66.45 362.81L65.61 359.66L64.78 356.49L63.94 353.3L63.1 350.09L62.28 346.85L61.49 343.6L60.75 340.32L60.06 337.02L59.39 333.69L58.73 330.35L58.11 326.99L57.55 323.6L57.06 320.19L56.63 316.77L56.23 313.32L55.85 309.85L55.5 306.36L55.18 302.85L54.9 299.32L54.63 295.77L54.29 292.2" fill="none" stroke="#8a8040" stroke-width="1.9" stroke-linejoin="round" stroke-linecap="round" />
<path d="M162.25 507L161.71 506.75L160.71 506.29L159.38 505.69L157.79 504.99L155.99 504.19L154.08 503.3L152.15 502.34L150.3 501.31L148.45 500.21L146.6 499.04L144.77 497.82L142.96 496.54L141.15 495.21L139.35 493.82L137.55 492.38L135.79 490.9L134.07 489.37L132.42 487.79L130.82 486.16L129.23 484.5L127.66 482.79L126.11 481.04L124.58 479.25L123.07 477.42L121.57 475.55L120.08 473.65L118.6 471.7L117.13 469.73L115.66 467.71L114.2 465.66L112.75 463.58L111.3 461.46L109.88 459.31L108.46 457.12L107.06 454.91L105.68 452.66L104.32 450.38L102.97 448.07L101.65 445.73L100.36 443.36L99.08 440.95L97.82 438.52L96.58 436.06L95.34 433.57L94.1 431.06L92.84 428.51L91.57 425.94L90.28 423.34L88.96 420.71L87.62 418.05L86.29 415.37L84.95 412.66L83.64 409.93L82.35 407.17L81.11 404.38L79.88 401.57L78.66 398.74L77.43 395.87L76.22 392.99L75.02 390.08L73.86 387.14L72.73 384.18L71.65 381.2L70.63 378.19L69.68 375.16L68.77 372.11L67.9 369.03L67.06 365.93L66.24 362.81L65.43 359.66L64.62 356.49L63.8 353.3L62.99 350.09L62.19 346.85L61.42 343.6L60.69 340.32L60.02 337.02L59.35 333.69L58.71 330.35L58.1 326.99L57.55 323.6L57.07 320.19L56.64 316.77L56.24 313.32L55.87 309.85L55.52 306.36L55.2 302.85L54.91 299.32L54.64 295.77L54.29 292.2" fill="none" stroke="#343a78" stroke-width="1.9" stroke-linejoin="round" stroke-linecap="round" />
<path d="M155.19 507L154.7 506.75L153.8 506.29L152.6 505.69L151.16 504.99L149.54 504.19L147.81 503.3L146.07 502.34L144.39 501.31L142.71 500.21L141.04 499.04L139.38 497.82L137.73 496.54L136.09 495.21L134.45 493.82L132.82 492.38L131.22 490.9L129.65 489.37L128.15 487.79L126.68 486.16L125.24 484.5L123.8 482.79L122.38 481.04L120.98 479.25L119.59 477.42L118.22 475.55L116.86 473.65L115.5 471.7L114.15 469.73L112.8 467.71L111.45 465.66L110.11 463.58L108.79 461.46L107.47 459.31L106.16 457.12L104.87 454.91L103.59 452.66L102.33 450.38L101.08 448.07L99.86 445.73L98.65 443.36L97.47 440.95L96.3 438.52L95.14 436.06L93.98 433.57L92.82 431.06L91.65 428.51L90.46 425.94L89.25 423.34L88.01 420.71L86.76 418.05L85.5 415.37L84.25 412.66L83 409.93L81.79 407.17L80.61 404.38L79.45 401.57L78.29 398.74L77.12 395.87L75.97 392.99L74.83 390.08L73.71 387.14L72.63 384.18L71.59 381.2L70.62 378.19L69.69 375.16L68.81 372.11L67.97 369.03L67.16 365.93L66.36 362.81L65.57 359.66L64.77 356.49L63.97 353.3L63.17 350.09L62.38 346.85L61.62 343.6L60.9 340.32L60.23 337.02L59.56 333.69L58.91 330.35L58.3 326.99L57.73 323.6L57.24 320.19L56.8 316.77L56.39 313.32L56 309.85L55.64 306.36L55.29 302.85L54.99 299.32L54.69 295.77L54.29 292.2" fill="none" stroke="#7a2a90" stroke-width="1.9" stroke-linejoin="round" stroke-linecap="round" />
<path d="M151.91 507L151.4 506.75L150.47 506.29L149.23 505.69L147.74 504.99L146.07 504.19L144.29 503.3L142.49 502.34L140.77 501.31L139.05 500.21L137.33 499.04L135.63 497.82L133.95 496.54L132.27 495.21L130.6 493.82L128.94 492.38L127.31 490.9L125.72 489.37L124.2 487.79L122.72 486.16L121.25 484.5L119.8 482.79L118.38 481.04L116.96 479.25L115.57 477.42L114.19 475.55L112.82 473.65L111.47 471.7L110.11 469.73L108.77 467.71L107.43 465.66L106.1 463.58L104.78 461.46L103.48 459.31L102.18 457.12L100.91 454.91L99.65 452.66L98.4 450.38L97.18 448.07L95.98 445.73L94.8 443.36L93.65 440.95L92.51 438.52L91.38 436.06L90.25 433.57L89.13 431.06L88 428.51L86.85 425.94L85.69 423.34L84.5 420.71L83.3 418.05L82.1 415.37L80.9 412.66L79.72 409.93L78.57 407.17L77.46 404.38L76.37 401.57L75.28 398.74L74.19 395.87L73.11 392.99L72.06 390.08L71.02 387.14L70.03 384.18L69.08 381.2L68.19 378.19L67.35 375.16L66.55 372.11L65.79 369.03L65.06 365.93L64.35 362.81L63.64 359.66L62.94 356.49L62.23 353.3L61.53 350.09L60.85 346.85L60.19 343.6L59.57 340.32L59 337.02L58.43 333.69L57.89 330.35L57.38 326.99L56.92 323.6L56.52 320.19L56.16 316.77L55.84 313.32L55.53 309.85L55.25 306.36L54.99 302.85L54.76 299.32L54.55 295.77L54.29 292.2" fill="none" stroke="#7a2e32" stroke-width="1.9" stroke-linejoin="round" stroke-linecap="round" />
<path d="M55.8 507C55.97 506.05 56.3 503.06 56.81 501.27C57.31 499.48 57.79 497.81 58.83 496.26C59.86 494.71 61.42 493.52 63.01 491.96C64.61 490.41 66.48 488.62 68.41 486.95C70.35 485.28 71.43 484.8 74.62 481.94C77.8 479.08 82.68 475.5 87.53 469.77C92.38 464.04 98.67 455.21 103.73 447.57C108.78 439.93 111.38 432.62 117.85 423.94C124.33 415.26 134.33 404.84 142.57 395.49C150.81 386.14 159.05 376.84 167.29 367.84C175.53 358.84 183.77 350.06 192.01 341.49C200.26 332.93 208.5 324.66 216.74 316.44C224.98 308.23 237.34 296.24 241.46 292.2" fill="none" stroke="#1e1e1e" stroke-width="1.9" stroke-linejoin="round" stroke-linecap="round" />
<path d="M55.8 507C55.97 506.05 56.3 503.06 56.81 501.27C57.31 499.48 57.79 497.81 58.83 496.26C59.86 494.71 61.42 493.52 63.01 491.96C64.61 490.41 66.48 488.62 68.41 486.95C70.35 485.28 71.43 484.74 74.62 481.94C77.8 479.14 82.98 475.38 87.53 470.13C92.08 464.88 97.83 456.7 101.91 450.44C105.99 444.17 106.48 440.2 112 432.54C117.53 424.87 127.38 413.82 135.07 404.47C142.76 395.11 150.44 385.76 158.13 376.4C165.82 367.05 173.51 357.69 181.2 348.33C188.89 338.98 196.58 329.62 204.26 320.27C211.95 310.91 223.49 296.88 227.33 292.2" fill="none" stroke="#e23b35" stroke-width="1.9" stroke-linejoin="round" stroke-linecap="round" />
<path d="M55.8 507C55.95 505.99 56.26 502.84 56.72 500.95C57.19 499.07 57.65 497.31 58.6 495.7C59.56 494.1 60.98 492.88 62.47 491.33C63.95 489.78 65.58 488.22 67.5 486.4C69.42 484.57 70.85 483.29 73.97 480.35C77.1 477.41 81.94 473.79 86.25 468.73C90.56 463.68 95.86 456.12 99.83 450.04C103.8 443.95 105.05 439.86 110.08 432.22C115.11 424.58 123.36 413.55 130 404.21C136.64 394.88 143.28 385.55 149.92 376.21C156.56 366.88 163.2 357.54 169.83 348.21C176.47 338.87 183.11 329.54 189.75 320.2C196.39 310.87 206.35 296.87 209.67 292.2" fill="none" stroke="#5cb82e" stroke-width="1.9" stroke-linejoin="round" stroke-linecap="round" />
<path d="M55.8 507C55.94 505.94 56.21 502.61 56.64 500.64C57.07 498.66 57.5 496.8 58.38 495.15C59.26 493.49 60.55 492.24 61.92 490.69C63.28 489.14 64.68 487.83 66.59 485.84C68.49 483.85 70.27 481.84 73.33 478.76C76.39 475.68 80.9 472.19 84.97 467.34C89.04 462.49 93.89 455.55 97.75 449.64C101.62 443.73 103.56 439.51 108.16 431.9C112.75 424.29 119.61 413.27 125.33 403.96C131.06 394.65 136.78 385.33 142.51 376.02C148.23 366.71 153.96 357.39 159.68 348.08C165.41 338.77 171.13 329.45 176.86 320.14C182.58 310.83 191.17 296.86 194.03 292.2" fill="none" stroke="#2f3f9c" stroke-width="1.9" stroke-linejoin="round" stroke-linecap="round" />
<path d="M55.8 507C55.93 505.89 56.16 502.39 56.56 500.32C56.95 498.25 57.35 496.3 58.15 494.59C58.96 492.88 60.11 491.61 61.37 490.05C62.62 488.5 63.79 487.43 65.67 485.28C67.56 483.13 69.68 480.39 72.68 477.17C75.69 473.94 79.85 470.6 83.68 465.95C87.51 461.3 91.91 454.97 95.67 449.24C99.43 443.51 101.85 439.17 106.23 431.58C110.62 423.99 116.73 413 121.98 403.71C127.22 394.41 132.47 385.12 137.72 375.83C142.97 366.54 148.22 357.24 153.46 347.95C158.71 338.66 163.96 329.37 169.21 320.08C174.46 310.78 182.33 296.85 184.95 292.2" fill="none" stroke="#6ccad8" stroke-width="1.9" stroke-linejoin="round" stroke-linecap="round" />
<path d="M55.8 507C55.91 505.83 56.12 502.16 56.47 500C56.83 497.84 57.21 495.8 57.93 494.03C58.65 492.27 59.68 490.97 60.82 489.42C61.95 487.87 62.89 487.03 64.76 484.72C66.63 482.42 69.1 478.94 72.04 475.58C74.98 472.21 78.81 469.01 82.4 464.56C85.99 460.1 89.94 454.39 93.59 448.84C97.24 443.3 100.09 438.83 104.31 431.26C108.53 423.7 114.05 412.72 118.93 403.45C123.8 394.18 128.67 384.91 133.54 375.64C138.41 366.37 143.28 357.1 148.15 347.83C153.03 338.55 157.9 329.28 162.77 320.01C167.64 310.74 174.95 296.84 177.38 292.2" fill="none" stroke="#a54aad" stroke-width="1.9" stroke-linejoin="round" stroke-linecap="round" />
<path d="M55.8 507C55.9 505.78 56.07 501.93 56.39 499.68C56.71 497.43 57.06 495.29 57.71 493.48C58.35 491.66 59.24 490.33 60.27 488.78C61.29 487.23 61.99 486.63 63.84 484.17C65.7 481.7 68.52 477.48 71.39 473.98C74.27 470.48 77.76 467.42 81.11 463.16C84.47 458.91 87.97 453.82 91.51 448.45C95.06 443.08 98.33 438.49 102.39 430.94C106.44 423.4 111.35 412.45 115.83 403.2C120.32 393.95 124.8 384.7 129.28 375.45C133.76 366.2 138.24 356.95 142.72 347.7C147.21 338.45 151.69 329.2 156.17 319.95C160.65 310.7 167.37 296.82 169.62 292.2" fill="none" stroke="#e8dc3a" stroke-width="1.9" stroke-linejoin="round" stroke-linecap="round" />
<path d="M55.8 507C55.88 505.73 56.02 501.71 56.3 499.36C56.58 497.02 56.91 494.79 57.48 492.92C58.05 491.05 58.81 489.7 59.72 488.15C60.63 486.59 61.09 486.24 62.93 483.61C64.77 480.99 67.93 476.03 70.75 472.39C73.57 468.75 76.72 465.83 79.83 461.77C82.94 457.72 85.99 453.24 89.43 448.05C92.87 442.86 96.45 438.14 100.47 430.63C104.48 423.11 109.17 412.17 113.53 402.94C117.88 393.71 122.24 384.48 126.59 375.26C130.95 366.03 135.3 356.8 139.65 347.57C144.01 338.34 148.36 329.11 152.72 319.89C157.07 310.66 163.6 296.81 165.78 292.2" fill="none" stroke="#8a8040" stroke-width="1.9" stroke-linejoin="round" stroke-linecap="round" />
<path d="M55.8 507C55.87 505.67 55.98 501.48 56.22 499.04C56.46 496.6 56.77 494.28 57.26 492.36C57.75 490.44 58.38 489.06 59.17 487.51C59.96 485.96 60.19 485.84 62.02 483.05C63.84 480.27 67.35 474.58 70.11 470.8C72.86 467.02 75.67 464.24 78.55 460.38C81.42 456.52 84.02 452.66 87.35 447.65C90.69 442.64 94.65 437.8 98.54 430.31C102.43 422.81 106.63 411.89 110.68 402.69C114.72 393.48 118.77 384.27 122.81 375.07C126.86 365.86 130.91 356.65 134.95 347.44C139 338.24 143.04 329.03 147.09 319.82C151.13 310.61 157.2 296.8 159.22 292.2" fill="none" stroke="#343a78" stroke-width="1.9" stroke-linejoin="round" stroke-linecap="round" />
<path d="M55.8 507C55.86 505.62 55.93 501.26 56.14 498.73C56.34 496.19 56.62 493.78 57.03 491.8C57.45 489.83 57.94 488.42 58.62 486.87C59.3 485.32 59.3 485.44 61.1 482.5C62.91 479.55 66.77 473.13 69.46 469.21C72.15 465.29 74.63 462.65 77.26 458.99C79.9 455.33 82.05 452.09 85.27 447.25C88.5 442.42 92.81 437.46 96.62 429.99C100.43 422.52 104.29 411.62 108.13 402.43C111.97 393.25 115.81 384.06 119.64 374.87C123.48 365.69 127.32 356.5 131.15 347.32C134.99 338.13 138.83 328.94 142.67 319.76C146.5 310.57 152.26 296.79 154.18 292.2" fill="none" stroke="#7a2a90" stroke-width="1.9" stroke-linejoin="round" stroke-linecap="round" />
<path d="M55.8 507C55.84 505.57 55.88 501.03 56.05 498.41C56.22 495.78 56.47 493.28 56.81 491.25C57.15 489.22 57.51 487.79 58.07 486.24C58.63 484.68 58.4 485.04 60.19 481.94C61.98 478.84 66.18 471.68 68.82 467.62C71.45 463.56 73.58 461.06 75.98 457.6C78.38 454.14 80.07 451.51 83.19 446.86C86.31 442.2 90.91 437.12 94.7 429.67C98.48 422.23 102.16 411.34 105.89 402.18C109.62 393.01 113.35 383.85 117.08 374.68C120.81 365.52 124.54 356.35 128.27 347.19C132 338.02 135.73 328.86 139.46 319.69C143.19 310.53 148.78 296.78 150.65 292.2" fill="none" stroke="#7a2e32" stroke-width="1.9" stroke-linejoin="round" stroke-linecap="round" />
<rect x="456.7" y="285.2" width="311.3" height="230.3" fill="none" stroke="#4a4a4a" stroke-width="1.15"/>
<text x="456.5" y="531.5" font-size="14.7" text-anchor="middle" font-weight="normal" fill="#111" >0</text>
<line x1="508.4" y1="515.5" x2="508.4" y2="509.5" stroke="#4a4a4a" stroke-width="1.15"/>
<text x="508.4" y="531.5" font-size="14.7" text-anchor="middle" font-weight="normal" fill="#111" >10</text>
<line x1="560.3" y1="515.5" x2="560.3" y2="509.5" stroke="#4a4a4a" stroke-width="1.15"/>
<text x="560.3" y="531.5" font-size="14.7" text-anchor="middle" font-weight="normal" fill="#111" >20</text>
<line x1="612.2" y1="515.5" x2="612.2" y2="509.5" stroke="#4a4a4a" stroke-width="1.15"/>
<text x="612.2" y="531.5" font-size="14.7" text-anchor="middle" font-weight="normal" fill="#111" >30</text>
<line x1="664.1" y1="515.5" x2="664.1" y2="509.5" stroke="#4a4a4a" stroke-width="1.15"/>
<text x="664.1" y="531.5" font-size="14.7" text-anchor="middle" font-weight="normal" fill="#111" >40</text>
<line x1="716" y1="515.5" x2="716" y2="509.5" stroke="#4a4a4a" stroke-width="1.15"/>
<text x="716" y="531.5" font-size="14.7" text-anchor="middle" font-weight="normal" fill="#111" >50</text>
<text x="767.9" y="531.5" font-size="14.7" text-anchor="middle" font-weight="normal" fill="#111" >60</text>
<line x1="456.7" y1="493.1" x2="461.7" y2="493.1" stroke="#4a4a4a" stroke-width="1.15"/>
<text x="450.5" y="498.1" font-size="14.7" text-anchor="end" font-weight="normal" fill="#111" >0</text>
<line x1="456.7" y1="447.7" x2="461.7" y2="447.7" stroke="#4a4a4a" stroke-width="1.15"/>
<text x="450.5" y="452.7" font-size="14.7" text-anchor="end" font-weight="normal" fill="#111" >200</text>
<line x1="456.7" y1="402.3" x2="461.7" y2="402.3" stroke="#4a4a4a" stroke-width="1.15"/>
<text x="450.5" y="407.3" font-size="14.7" text-anchor="end" font-weight="normal" fill="#111" >400</text>
<line x1="456.7" y1="356.9" x2="461.7" y2="356.9" stroke="#4a4a4a" stroke-width="1.15"/>
<text x="450.5" y="361.9" font-size="14.7" text-anchor="end" font-weight="normal" fill="#111" >600</text>
<line x1="456.7" y1="312.65" x2="461.7" y2="312.65" stroke="#4a4a4a" stroke-width="1.15"/>
<text x="450.5" y="345.1" font-size="14.7" text-anchor="end" font-weight="normal" fill="#111" >2590</text>
<text x="450.5" y="317.65" font-size="14.7" text-anchor="end" font-weight="normal" fill="#111" >2595</text>
<text x="450.5" y="290.2" font-size="14.7" text-anchor="end" font-weight="normal" fill="#111" >2600</text>
<text x="612.1" y="546.7" font-size="14.6" text-anchor="middle" font-weight="normal" fill="#111" >Cycle number</text>
<text x="0" y="0" font-size="14.5" text-anchor="middle" font-weight="normal" fill="#111" transform="translate(408.5,402.7) rotate(-90)">Specific capacific (mAh g<tspan font-size="10.5" dy="-6">−1</tspan><tspan dy="6">)</tspan></text>
<text x="466.5" y="306.4" font-size="21" text-anchor="start" font-weight="bold" fill="#111" >(d)</text>
<clipPath id="cd"><rect x="456.7" y="285.2" width="311.3" height="230.3"/></clipPath><g clip-path="url(#cd)">
<path d="M461.69 403.89L466.88 407.52L472.07 409.34L477.26 411.61L482.45 413.65L487.64 418.87L492.83 420.46L498.02 420.46L503.21 420.91L508.4 422.05L513.59 428.86L518.78 429.99L523.97 430.9L529.16 431.81L534.35 432.72L539.54 433.63L544.73 433.85L549.92 434.31L555.11 434.53L560.3 435.22L565.49 436.58L570.68 436.8L575.87 437.26L581.06 437.71L586.25 438.39L591.44 438.85L596.63 439.3L601.82 439.53L607.01 439.75L612.2 440.89L617.39 441.57L622.58 442.03L627.77 442.48L632.96 442.93L638.15 443.61L643.34 444.3L648.53 444.75L653.72 445.2L658.91 445.66L664.1 446.34L669.29 447.25L674.48 447.7L679.67 447.93L684.86 448.38L690.05 448.84L695.24 449.52L700.43 449.74L705.62 449.97L710.81 450.2L716 451.11L721.19 451.33L726.38 451.56L731.57 451.79L736.76 451.79L741.95 452.01L747.14 431.36L752.33 433.63L757.52 435.44L762.71 434.99L767.9 434.99" fill="none" stroke="#e8622a" stroke-width="1.8" stroke-linejoin="round" stroke-linecap="round" />
<circle cx="461.69" cy="403.89" r="3.6" fill="#e8622a"/><circle cx="461.69" cy="403.69" r="1.08" fill="#f4b890"/>
<circle cx="466.88" cy="407.52" r="3.6" fill="#e8622a"/><circle cx="466.88" cy="407.32" r="1.08" fill="#f4b890"/>
<circle cx="472.07" cy="409.34" r="3.6" fill="#e8622a"/><circle cx="472.07" cy="409.14" r="1.08" fill="#f4b890"/>
<circle cx="477.26" cy="411.61" r="3.6" fill="#e8622a"/><circle cx="477.26" cy="411.41" r="1.08" fill="#f4b890"/>
<circle cx="482.45" cy="413.65" r="3.6" fill="#e8622a"/><circle cx="482.45" cy="413.45" r="1.08" fill="#f4b890"/>
<circle cx="487.64" cy="418.87" r="3.6" fill="#e8622a"/><circle cx="487.64" cy="418.67" r="1.08" fill="#f4b890"/>
<circle cx="492.83" cy="420.46" r="3.6" fill="#e8622a"/><circle cx="492.83" cy="420.26" r="1.08" fill="#f4b890"/>
<circle cx="498.02" cy="420.46" r="3.6" fill="#e8622a"/><circle cx="498.02" cy="420.26" r="1.08" fill="#f4b890"/>
<circle cx="503.21" cy="420.91" r="3.6" fill="#e8622a"/><circle cx="503.21" cy="420.71" r="1.08" fill="#f4b890"/>
<circle cx="508.4" cy="422.05" r="3.6" fill="#e8622a"/><circle cx="508.4" cy="421.85" r="1.08" fill="#f4b890"/>
<circle cx="513.59" cy="428.86" r="3.6" fill="#e8622a"/><circle cx="513.59" cy="428.66" r="1.08" fill="#f4b890"/>
<circle cx="518.78" cy="429.99" r="3.6" fill="#e8622a"/><circle cx="518.78" cy="429.79" r="1.08" fill="#f4b890"/>
<circle cx="523.97" cy="430.9" r="3.6" fill="#e8622a"/><circle cx="523.97" cy="430.7" r="1.08" fill="#f4b890"/>
<circle cx="529.16" cy="431.81" r="3.6" fill="#e8622a"/><circle cx="529.16" cy="431.61" r="1.08" fill="#f4b890"/>
<circle cx="534.35" cy="432.72" r="3.6" fill="#e8622a"/><circle cx="534.35" cy="432.52" r="1.08" fill="#f4b890"/>
<circle cx="539.54" cy="433.63" r="3.6" fill="#e8622a"/><circle cx="539.54" cy="433.43" r="1.08" fill="#f4b890"/>
<circle cx="544.73" cy="433.85" r="3.6" fill="#e8622a"/><circle cx="544.73" cy="433.65" r="1.08" fill="#f4b890"/>
<circle cx="549.92" cy="434.31" r="3.6" fill="#e8622a"/><circle cx="549.92" cy="434.11" r="1.08" fill="#f4b890"/>
<circle cx="555.11" cy="434.53" r="3.6" fill="#e8622a"/><circle cx="555.11" cy="434.33" r="1.08" fill="#f4b890"/>
<circle cx="560.3" cy="435.22" r="3.6" fill="#e8622a"/><circle cx="560.3" cy="435.02" r="1.08" fill="#f4b890"/>
<circle cx="565.49" cy="436.58" r="3.6" fill="#e8622a"/><circle cx="565.49" cy="436.38" r="1.08" fill="#f4b890"/>
<circle cx="570.68" cy="436.8" r="3.6" fill="#e8622a"/><circle cx="570.68" cy="436.6" r="1.08" fill="#f4b890"/>
<circle cx="575.87" cy="437.26" r="3.6" fill="#e8622a"/><circle cx="575.87" cy="437.06" r="1.08" fill="#f4b890"/>
<circle cx="581.06" cy="437.71" r="3.6" fill="#e8622a"/><circle cx="581.06" cy="437.51" r="1.08" fill="#f4b890"/>
<circle cx="586.25" cy="438.39" r="3.6" fill="#e8622a"/><circle cx="586.25" cy="438.19" r="1.08" fill="#f4b890"/>
<circle cx="591.44" cy="438.85" r="3.6" fill="#e8622a"/><circle cx="591.44" cy="438.65" r="1.08" fill="#f4b890"/>
<circle cx="596.63" cy="439.3" r="3.6" fill="#e8622a"/><circle cx="596.63" cy="439.1" r="1.08" fill="#f4b890"/>
<circle cx="601.82" cy="439.53" r="3.6" fill="#e8622a"/><circle cx="601.82" cy="439.33" r="1.08" fill="#f4b890"/>
<circle cx="607.01" cy="439.75" r="3.6" fill="#e8622a"/><circle cx="607.01" cy="439.56" r="1.08" fill="#f4b890"/>
<circle cx="612.2" cy="440.89" r="3.6" fill="#e8622a"/><circle cx="612.2" cy="440.69" r="1.08" fill="#f4b890"/>
<circle cx="617.39" cy="441.57" r="3.6" fill="#e8622a"/><circle cx="617.39" cy="441.37" r="1.08" fill="#f4b890"/>
<circle cx="622.58" cy="442.03" r="3.6" fill="#e8622a"/><circle cx="622.58" cy="441.83" r="1.08" fill="#f4b890"/>
<circle cx="627.77" cy="442.48" r="3.6" fill="#e8622a"/><circle cx="627.77" cy="442.28" r="1.08" fill="#f4b890"/>
<circle cx="632.96" cy="442.93" r="3.6" fill="#e8622a"/><circle cx="632.96" cy="442.73" r="1.08" fill="#f4b890"/>
<circle cx="638.15" cy="443.61" r="3.6" fill="#e8622a"/><circle cx="638.15" cy="443.41" r="1.08" fill="#f4b890"/>
<circle cx="643.34" cy="444.3" r="3.6" fill="#e8622a"/><circle cx="643.34" cy="444.1" r="1.08" fill="#f4b890"/>
<circle cx="648.53" cy="444.75" r="3.6" fill="#e8622a"/><circle cx="648.53" cy="444.55" r="1.08" fill="#f4b890"/>
<circle cx="653.72" cy="445.2" r="3.6" fill="#e8622a"/><circle cx="653.72" cy="445" r="1.08" fill="#f4b890"/>
<circle cx="658.91" cy="445.66" r="3.6" fill="#e8622a"/><circle cx="658.91" cy="445.46" r="1.08" fill="#f4b890"/>
<circle cx="664.1" cy="446.34" r="3.6" fill="#e8622a"/><circle cx="664.1" cy="446.14" r="1.08" fill="#f4b890"/>
<circle cx="669.29" cy="447.25" r="3.6" fill="#e8622a"/><circle cx="669.29" cy="447.05" r="1.08" fill="#f4b890"/>
<circle cx="674.48" cy="447.7" r="3.6" fill="#e8622a"/><circle cx="674.48" cy="447.5" r="1.08" fill="#f4b890"/>
<circle cx="679.67" cy="447.93" r="3.6" fill="#e8622a"/><circle cx="679.67" cy="447.73" r="1.08" fill="#f4b890"/>
<circle cx="684.86" cy="448.38" r="3.6" fill="#e8622a"/><circle cx="684.86" cy="448.18" r="1.08" fill="#f4b890"/>
<circle cx="690.05" cy="448.84" r="3.6" fill="#e8622a"/><circle cx="690.05" cy="448.64" r="1.08" fill="#f4b890"/>
<circle cx="695.24" cy="449.52" r="3.6" fill="#e8622a"/><circle cx="695.24" cy="449.32" r="1.08" fill="#f4b890"/>
<circle cx="700.43" cy="449.74" r="3.6" fill="#e8622a"/><circle cx="700.43" cy="449.54" r="1.08" fill="#f4b890"/>
<circle cx="705.62" cy="449.97" r="3.6" fill="#e8622a"/><circle cx="705.62" cy="449.77" r="1.08" fill="#f4b890"/>
<circle cx="710.81" cy="450.2" r="3.6" fill="#e8622a"/><circle cx="710.81" cy="450" r="1.08" fill="#f4b890"/>
<circle cx="716" cy="451.11" r="3.6" fill="#e8622a"/><circle cx="716" cy="450.91" r="1.08" fill="#f4b890"/>
<circle cx="721.19" cy="451.33" r="3.6" fill="#e8622a"/><circle cx="721.19" cy="451.13" r="1.08" fill="#f4b890"/>
<circle cx="726.38" cy="451.56" r="3.6" fill="#e8622a"/><circle cx="726.38" cy="451.36" r="1.08" fill="#f4b890"/>
<circle cx="731.57" cy="451.79" r="3.6" fill="#e8622a"/><circle cx="731.57" cy="451.59" r="1.08" fill="#f4b890"/>
<circle cx="736.76" cy="451.79" r="3.6" fill="#e8622a"/><circle cx="736.76" cy="451.59" r="1.08" fill="#f4b890"/>
<circle cx="741.95" cy="452.01" r="3.6" fill="#e8622a"/><circle cx="741.95" cy="451.81" r="1.08" fill="#f4b890"/>
<circle cx="747.14" cy="431.36" r="3.6" fill="#e8622a"/><circle cx="747.14" cy="431.16" r="1.08" fill="#f4b890"/>
<circle cx="752.33" cy="433.63" r="3.6" fill="#e8622a"/><circle cx="752.33" cy="433.43" r="1.08" fill="#f4b890"/>
<circle cx="757.52" cy="435.44" r="3.6" fill="#e8622a"/><circle cx="757.52" cy="435.24" r="1.08" fill="#f4b890"/>
<circle cx="762.71" cy="434.99" r="3.6" fill="#e8622a"/><circle cx="762.71" cy="434.79" r="1.08" fill="#f4b890"/>
<circle cx="767.9" cy="434.99" r="3.6" fill="#e8622a"/><circle cx="767.9" cy="434.79" r="1.08" fill="#f4b890"/>
<path d="M461.69 326.65L462.09 342" fill="none" stroke="#3a2a7a" stroke-width="1.9" stroke-linejoin="round" stroke-linecap="round" />
<path d="M462.59 345L466.88 384.59L472.07 390.27L477.26 400.03L482.45 403.89L487.64 411.61L492.83 417.06L498.02 416.6L503.21 417.74L508.4 418.87L513.59 423.41L518.78 426.82L523.97 428.41L529.16 429.99L534.35 431.13L539.54 432.04L544.73 432.72L549.92 433.17L555.11 433.63L560.3 433.85L565.49 434.76L570.68 435.9L575.87 436.35L581.06 436.8L586.25 437.26L591.44 437.94L596.63 438.39L601.82 438.85L607.01 439.07L612.2 439.3L617.39 440.44L622.58 441.12L627.77 441.57L632.96 442.03L638.15 442.48L643.34 443.39L648.53 443.84L653.72 444.3L658.91 444.75L664.1 445.2L669.29 446.11L674.48 446.79L679.67 447.25L684.86 447.7L690.05 448.15L695.24 448.61L700.43 449.06L705.62 449.29L710.81 449.52L716 449.97L721.19 450.88L726.38 451.11L731.57 451.33L736.76 451.56L741.95 451.56L747.14 439.07L752.33 429.77L757.52 431.81L762.71 432.49L767.9 432.95" fill="none" stroke="#3a2a7a" stroke-width="1.9" stroke-linejoin="round" stroke-linecap="round" />
<circle cx="461.69" cy="326.65" r="3.9" fill="#3a2a7a"/><circle cx="461.69" cy="326.45" r="1.17" fill="#8f80c0"/>
<circle cx="466.88" cy="384.59" r="3.9" fill="#3a2a7a"/><circle cx="466.88" cy="384.39" r="1.17" fill="#8f80c0"/>
<circle cx="472.07" cy="390.27" r="3.9" fill="#3a2a7a"/><circle cx="472.07" cy="390.07" r="1.17" fill="#8f80c0"/>
<circle cx="477.26" cy="400.03" r="3.9" fill="#3a2a7a"/><circle cx="477.26" cy="399.83" r="1.17" fill="#8f80c0"/>
<circle cx="482.45" cy="403.89" r="3.9" fill="#3a2a7a"/><circle cx="482.45" cy="403.69" r="1.17" fill="#8f80c0"/>
<circle cx="487.64" cy="411.61" r="3.9" fill="#3a2a7a"/><circle cx="487.64" cy="411.41" r="1.17" fill="#8f80c0"/>
<circle cx="492.83" cy="417.06" r="3.9" fill="#3a2a7a"/><circle cx="492.83" cy="416.86" r="1.17" fill="#8f80c0"/>
<circle cx="498.02" cy="416.6" r="3.9" fill="#3a2a7a"/><circle cx="498.02" cy="416.4" r="1.17" fill="#8f80c0"/>
<circle cx="503.21" cy="417.74" r="3.9" fill="#3a2a7a"/><circle cx="503.21" cy="417.54" r="1.17" fill="#8f80c0"/>
<circle cx="508.4" cy="418.87" r="3.9" fill="#3a2a7a"/><circle cx="508.4" cy="418.67" r="1.17" fill="#8f80c0"/>
<circle cx="513.59" cy="423.41" r="3.9" fill="#3a2a7a"/><circle cx="513.59" cy="423.21" r="1.17" fill="#8f80c0"/>
<circle cx="518.78" cy="426.82" r="3.9" fill="#3a2a7a"/><circle cx="518.78" cy="426.62" r="1.17" fill="#8f80c0"/>
<circle cx="523.97" cy="428.41" r="3.9" fill="#3a2a7a"/><circle cx="523.97" cy="428.21" r="1.17" fill="#8f80c0"/>
<circle cx="529.16" cy="429.99" r="3.9" fill="#3a2a7a"/><circle cx="529.16" cy="429.79" r="1.17" fill="#8f80c0"/>
<circle cx="534.35" cy="431.13" r="3.9" fill="#3a2a7a"/><circle cx="534.35" cy="430.93" r="1.17" fill="#8f80c0"/>
<circle cx="539.54" cy="432.04" r="3.9" fill="#3a2a7a"/><circle cx="539.54" cy="431.84" r="1.17" fill="#8f80c0"/>
<circle cx="544.73" cy="432.72" r="3.9" fill="#3a2a7a"/><circle cx="544.73" cy="432.52" r="1.17" fill="#8f80c0"/>
<circle cx="549.92" cy="433.17" r="3.9" fill="#3a2a7a"/><circle cx="549.92" cy="432.97" r="1.17" fill="#8f80c0"/>
<circle cx="555.11" cy="433.63" r="3.9" fill="#3a2a7a"/><circle cx="555.11" cy="433.43" r="1.17" fill="#8f80c0"/>
<circle cx="560.3" cy="433.85" r="3.9" fill="#3a2a7a"/><circle cx="560.3" cy="433.65" r="1.17" fill="#8f80c0"/>
<circle cx="565.49" cy="434.76" r="3.9" fill="#3a2a7a"/><circle cx="565.49" cy="434.56" r="1.17" fill="#8f80c0"/>
<circle cx="570.68" cy="435.9" r="3.9" fill="#3a2a7a"/><circle cx="570.68" cy="435.7" r="1.17" fill="#8f80c0"/>
<circle cx="575.87" cy="436.35" r="3.9" fill="#3a2a7a"/><circle cx="575.87" cy="436.15" r="1.17" fill="#8f80c0"/>
<circle cx="581.06" cy="436.8" r="3.9" fill="#3a2a7a"/><circle cx="581.06" cy="436.6" r="1.17" fill="#8f80c0"/>
<circle cx="586.25" cy="437.26" r="3.9" fill="#3a2a7a"/><circle cx="586.25" cy="437.06" r="1.17" fill="#8f80c0"/>
<circle cx="591.44" cy="437.94" r="3.9" fill="#3a2a7a"/><circle cx="591.44" cy="437.74" r="1.17" fill="#8f80c0"/>
<circle cx="596.63" cy="438.39" r="3.9" fill="#3a2a7a"/><circle cx="596.63" cy="438.19" r="1.17" fill="#8f80c0"/>
<circle cx="601.82" cy="438.85" r="3.9" fill="#3a2a7a"/><circle cx="601.82" cy="438.65" r="1.17" fill="#8f80c0"/>
<circle cx="607.01" cy="439.07" r="3.9" fill="#3a2a7a"/><circle cx="607.01" cy="438.87" r="1.17" fill="#8f80c0"/>
<circle cx="612.2" cy="439.3" r="3.9" fill="#3a2a7a"/><circle cx="612.2" cy="439.1" r="1.17" fill="#8f80c0"/>
<circle cx="617.39" cy="440.44" r="3.9" fill="#3a2a7a"/><circle cx="617.39" cy="440.24" r="1.17" fill="#8f80c0"/>
<circle cx="622.58" cy="441.12" r="3.9" fill="#3a2a7a"/><circle cx="622.58" cy="440.92" r="1.17" fill="#8f80c0"/>
<circle cx="627.77" cy="441.57" r="3.9" fill="#3a2a7a"/><circle cx="627.77" cy="441.37" r="1.17" fill="#8f80c0"/>
<circle cx="632.96" cy="442.03" r="3.9" fill="#3a2a7a"/><circle cx="632.96" cy="441.83" r="1.17" fill="#8f80c0"/>
<circle cx="638.15" cy="442.48" r="3.9" fill="#3a2a7a"/><circle cx="638.15" cy="442.28" r="1.17" fill="#8f80c0"/>
<circle cx="643.34" cy="443.39" r="3.9" fill="#3a2a7a"/><circle cx="643.34" cy="443.19" r="1.17" fill="#8f80c0"/>
<circle cx="648.53" cy="443.84" r="3.9" fill="#3a2a7a"/><circle cx="648.53" cy="443.64" r="1.17" fill="#8f80c0"/>
<circle cx="653.72" cy="444.3" r="3.9" fill="#3a2a7a"/><circle cx="653.72" cy="444.1" r="1.17" fill="#8f80c0"/>
<circle cx="658.91" cy="444.75" r="3.9" fill="#3a2a7a"/><circle cx="658.91" cy="444.55" r="1.17" fill="#8f80c0"/>
<circle cx="664.1" cy="445.2" r="3.9" fill="#3a2a7a"/><circle cx="664.1" cy="445" r="1.17" fill="#8f80c0"/>
<circle cx="669.29" cy="446.11" r="3.9" fill="#3a2a7a"/><circle cx="669.29" cy="445.91" r="1.17" fill="#8f80c0"/>
<circle cx="674.48" cy="446.79" r="3.9" fill="#3a2a7a"/><circle cx="674.48" cy="446.59" r="1.17" fill="#8f80c0"/>
<circle cx="679.67" cy="447.25" r="3.9" fill="#3a2a7a"/><circle cx="679.67" cy="447.05" r="1.17" fill="#8f80c0"/>
<circle cx="684.86" cy="447.7" r="3.9" fill="#3a2a7a"/><circle cx="684.86" cy="447.5" r="1.17" fill="#8f80c0"/>
<circle cx="690.05" cy="448.15" r="3.9" fill="#3a2a7a"/><circle cx="690.05" cy="447.95" r="1.17" fill="#8f80c0"/>
<circle cx="695.24" cy="448.61" r="3.9" fill="#3a2a7a"/><circle cx="695.24" cy="448.41" r="1.17" fill="#8f80c0"/>
<circle cx="700.43" cy="449.06" r="3.9" fill="#3a2a7a"/><circle cx="700.43" cy="448.86" r="1.17" fill="#8f80c0"/>
<circle cx="705.62" cy="449.29" r="3.9" fill="#3a2a7a"/><circle cx="705.62" cy="449.09" r="1.17" fill="#8f80c0"/>
<circle cx="710.81" cy="449.52" r="3.9" fill="#3a2a7a"/><circle cx="710.81" cy="449.32" r="1.17" fill="#8f80c0"/>
<circle cx="716" cy="449.97" r="3.9" fill="#3a2a7a"/><circle cx="716" cy="449.77" r="1.17" fill="#8f80c0"/>
<circle cx="721.19" cy="450.88" r="3.9" fill="#3a2a7a"/><circle cx="721.19" cy="450.68" r="1.17" fill="#8f80c0"/>
<circle cx="726.38" cy="451.11" r="3.9" fill="#3a2a7a"/><circle cx="726.38" cy="450.91" r="1.17" fill="#8f80c0"/>
<circle cx="731.57" cy="451.33" r="3.9" fill="#3a2a7a"/><circle cx="731.57" cy="451.13" r="1.17" fill="#8f80c0"/>
<circle cx="736.76" cy="451.56" r="3.9" fill="#3a2a7a"/><circle cx="736.76" cy="451.36" r="1.17" fill="#8f80c0"/>
<circle cx="741.95" cy="451.56" r="3.9" fill="#3a2a7a"/><circle cx="741.95" cy="451.36" r="1.17" fill="#8f80c0"/>
<circle cx="747.14" cy="439.07" r="3.9" fill="#3a2a7a"/><circle cx="747.14" cy="438.87" r="1.17" fill="#8f80c0"/>
<circle cx="752.33" cy="429.77" r="3.9" fill="#3a2a7a"/><circle cx="752.33" cy="429.57" r="1.17" fill="#8f80c0"/>
<circle cx="757.52" cy="431.81" r="3.9" fill="#3a2a7a"/><circle cx="757.52" cy="431.61" r="1.17" fill="#8f80c0"/>
<circle cx="762.71" cy="432.49" r="3.9" fill="#3a2a7a"/><circle cx="762.71" cy="432.29" r="1.17" fill="#8f80c0"/>
<circle cx="767.9" cy="432.95" r="3.9" fill="#3a2a7a"/><circle cx="767.9" cy="432.75" r="1.17" fill="#8f80c0"/>
</g>
<rect x="449.7" y="340.5" width="14" height="5" fill="#fff" transform="rotate(-20 456.7 343)"/>
<line x1="450.7" y1="343" x2="462.7" y2="338.6" stroke="#4a4a4a" stroke-width="1.2"/>
<line x1="450.7" y1="347.4" x2="462.7" y2="343" stroke="#4a4a4a" stroke-width="1.2"/>
<rect x="761" y="340.5" width="14" height="5" fill="#fff" transform="rotate(-20 768 343)"/>
<line x1="762" y1="343" x2="774" y2="338.6" stroke="#4a4a4a" stroke-width="1.2"/>
<line x1="762" y1="347.4" x2="774" y2="343" stroke="#4a4a4a" stroke-width="1.2"/>
<line x1="564.5" y1="361" x2="592.4" y2="361" stroke="#e8622a" stroke-width="1.6"/>
<circle cx="578.6" cy="361" r="3.7" fill="#e8622a"/><circle cx="578.6" cy="360.8" r="0.93" fill="#f6c6a0"/>
<text x="596" y="366.2" font-size="14" text-anchor="start" font-weight="bold" fill="#111" >Charge capacity</text>
<line x1="564.5" y1="382" x2="592.4" y2="382" stroke="#3a2a7a" stroke-width="1.6"/>
<circle cx="578.6" cy="382" r="3.7" fill="#3a2a7a"/><circle cx="578.6" cy="381.8" r="0.93" fill="#9b8cc8"/>
<text x="596" y="387.2" font-size="14" text-anchor="start" font-weight="bold" fill="#111" >DIscharge capacity</text>
<text x="468.7" y="378.4" font-size="12.5" text-anchor="start" font-weight="bold" fill="#46948f" >0.05</text>
<text x="491.7" y="402.4" font-size="12.5" text-anchor="start" font-weight="bold" fill="#46948f" >0.1</text>
<text x="512.3" y="414.6" font-size="12.5" text-anchor="start" font-weight="bold" fill="#46948f" >0.2</text>
<text x="534.5" y="422" font-size="12.5" text-anchor="start" font-weight="bold" fill="#46948f" >0.3</text>
<text x="561.7" y="425" font-size="12.5" text-anchor="start" font-weight="bold" fill="#46948f" >0.4</text>
<text x="588.5" y="427.5" font-size="12.5" text-anchor="start" font-weight="bold" fill="#46948f" >0.5</text>
<text x="614.1" y="430.3" font-size="12.5" text-anchor="start" font-weight="bold" fill="#46948f" >0.6</text>
<text x="641.6" y="434.3" font-size="12.5" text-anchor="start" font-weight="bold" fill="#46948f" >0.7</text>
<text x="668.7" y="436.8" font-size="12.5" text-anchor="start" font-weight="bold" fill="#46948f" >0.8</text>
<text x="694.3" y="439" font-size="12.5" text-anchor="start" font-weight="bold" fill="#46948f" >0.9</text>
<text x="720.2" y="441.5" font-size="12.5" text-anchor="start" font-weight="bold" fill="#46948f" >1.0</text>
<text x="746.7" y="418.1" font-size="12.5" text-anchor="start" font-weight="bold" fill="#46948f" >0.1</text>
<text x="599" y="494.3" font-size="14.2" text-anchor="start" font-weight="bold" fill="#111" >Current density: A g<tspan font-size="10.5" dy="-6">−1</tspan></text>
<rect x="52.2" y="567.2" width="676.6" height="223.2" fill="none" stroke="#4a4a4a" stroke-width="1.15"/>
<text x="52" y="810.8" font-size="14.7" text-anchor="middle" font-weight="normal" fill="#111" >0</text>
<line x1="187.36" y1="790.4" x2="187.36" y2="784.4" stroke="#4a4a4a" stroke-width="1.15"/>
<text x="187.36" y="810.8" font-size="14.7" text-anchor="middle" font-weight="normal" fill="#111" >100</text>
<line x1="322.72" y1="790.4" x2="322.72" y2="784.4" stroke="#4a4a4a" stroke-width="1.15"/>
<text x="322.72" y="810.8" font-size="14.7" text-anchor="middle" font-weight="normal" fill="#111" >200</text>
<line x1="458.08" y1="790.4" x2="458.08" y2="784.4" stroke="#4a4a4a" stroke-width="1.15"/>
<text x="458.08" y="810.8" font-size="14.7" text-anchor="middle" font-weight="normal" fill="#111" >300</text>
<line x1="593.44" y1="790.4" x2="593.44" y2="784.4" stroke="#4a4a4a" stroke-width="1.15"/>
<text x="593.44" y="810.8" font-size="14.7" text-anchor="middle" font-weight="normal" fill="#111" >400</text>
<text x="728.8" y="810.8" font-size="14.7" text-anchor="middle" font-weight="normal" fill="#111" >500</text>
<text x="48.5" y="795.3" font-size="14.7" text-anchor="end" font-weight="normal" fill="#111" >0</text>
<line x1="52.2" y1="734.5" x2="57.2" y2="734.5" stroke="#4a4a4a" stroke-width="1.15"/>
<text x="48.5" y="739.5" font-size="14.7" text-anchor="end" font-weight="normal" fill="#111" >100</text>
<line x1="52.2" y1="678.7" x2="57.2" y2="678.7" stroke="#4a4a4a" stroke-width="1.15"/>
<text x="48.5" y="683.7" font-size="14.7" text-anchor="end" font-weight="normal" fill="#111" >200</text>
<line x1="52.2" y1="622.9" x2="57.2" y2="622.9" stroke="#4a4a4a" stroke-width="1.15"/>
<text x="48.5" y="627.9" font-size="14.7" text-anchor="end" font-weight="normal" fill="#111" >300</text>
<text x="48.5" y="572.1" font-size="14.7" text-anchor="end" font-weight="normal" fill="#111" >400</text>
<text x="733.5" y="795.3" font-size="14.7" text-anchor="start" font-weight="normal" fill="#111" >0</text>
<line x1="728.8" y1="749.6" x2="723.8" y2="749.6" stroke="#4a4a4a" stroke-width="1.15"/>
<text x="733.5" y="754.6" font-size="14.7" text-anchor="start" font-weight="normal" fill="#111" >20</text>
<line x1="728.8" y1="708.9" x2="723.8" y2="708.9" stroke="#4a4a4a" stroke-width="1.15"/>
<text x="733.5" y="713.9" font-size="14.7" text-anchor="start" font-weight="normal" fill="#111" >40</text>
<line x1="728.8" y1="668.2" x2="723.8" y2="668.2" stroke="#4a4a4a" stroke-width="1.15"/>
<text x="733.5" y="673.2" font-size="14.7" text-anchor="start" font-weight="normal" fill="#111" >60</text>
<line x1="728.8" y1="627.5" x2="723.8" y2="627.5" stroke="#4a4a4a" stroke-width="1.15"/>
<text x="733.5" y="632.5" font-size="14.7" text-anchor="start" font-weight="normal" fill="#111" >80</text>
<line x1="728.8" y1="586.8" x2="723.8" y2="586.8" stroke="#4a4a4a" stroke-width="1.15"/>
<text x="733.5" y="591.8" font-size="14.7" text-anchor="start" font-weight="normal" fill="#111" >100</text>
<text x="390.5" y="827.3" font-size="14.4" text-anchor="middle" font-weight="normal" fill="#111" >Cycle number</text>
<text x="0" y="0" font-size="14.5" text-anchor="middle" font-weight="normal" fill="#111" transform="translate(14.5,677.4) rotate(-90)">Specific capacity (mAh g<tspan font-size="10.5" dy="-6">−1</tspan><tspan dy="6">)</tspan></text>
<text x="0" y="0" font-size="14.5" text-anchor="middle" font-weight="normal" fill="#111" transform="translate(770.8,678.5) rotate(-90)">Coulombic efficient (%)</text>
<text x="69" y="606.9" font-size="21" text-anchor="start" font-weight="bold" fill="#111" >(e)</text>
<clipPath id="ce"><rect x="52.2" y="567.2" width="676.6" height="223.2"/></clipPath><g clip-path="url(#ce)">
<path d="M53.35 588.8L54.71 587.53L56.06 584.07L57.41 584.12L58.77 580.78L60.12 579.5L61.48 581.66L62.83 581.35L64.18 584.03L65.54 582.73L66.89 583.9L68.24 583.82L69.6 582.72L70.95 581.4L72.3 583.67L73.66 583.34L75.01 582.01L76.36 580.95L77.72 582.14L79.07 582.72L80.43 580.82L81.78 583.83L83.13 581.18L84.49 583.01L85.84 583.47L87.19 583.55L88.55 582.91L89.9 581.25L91.25 583.3L92.61 581.99L93.96 581.79L95.32 582.64L96.67 582.06L98.02 583.62L99.38 583.62L100.73 583.13L102.08 581.57L103.44 582.38L104.79 582.74L106.14 581.84L107.5 582.32L108.85 582.87L110.2 581.31L111.56 581.68L112.91 583.21L114.27 582.18L115.62 582.39L116.97 581.31L118.33 581.83L119.68 583.32L121.03 581.12L122.39 583.97L123.74 583.05L125.09 581.99L126.45 584.02L127.8 582.97L129.16 584.48L130.51 582.49L131.86 582.22L133.22 582.9L134.57 581.97L135.92 583.85L137.28 582.65L138.63 583.03L139.98 583.13L141.34 583.58L142.69 582.39L144.04 582.1L145.4 583.68L146.75 583.11L148.11 585.13L149.46 583.09L150.81 583.32L152.17 582.24L153.52 582.85L154.87 584.65L156.23 584.37L157.58 583.5L158.93 585.66L160.29 584.28L161.64 585.24L163 585.41L164.35 585.6L165.7 583.3L167.06 585.38L168.41 585L169.76 584.54L171.12 582.98L172.47 585.56L173.82 584.36L175.18 584.04L176.53 582.96L177.88 583.17L179.24 583.03L180.59 584.94L181.95 584.5L183.3 584.69L184.65 582.98L186.01 582.75L187.36 585.38L188.71 585.3L190.07 585.12L191.42 585.12L192.77 584.31L194.13 583.97L195.48 585.04L196.84 585.88L198.19 584.54L199.54 584.7L200.9 584.07L202.25 582.81L203.6 583.67L204.96 584.25L206.31 583.92L207.66 583.73L209.02 585.76L210.37 583.01L211.72 583.41L213.08 583.1L214.43 583.36L215.79 584.68L217.14 584.66L218.49 585.63L219.85 583.91L221.2 585.77L222.55 585.76L223.91 585.3L225.26 585.46L226.61 584.89L227.97 585.83L229.32 586L230.68 585.51L232.03 585.68L233.38 584.83L234.74 585.94L236.09 583.18L237.44 584.03L238.8 585.55L240.15 585.21L241.5 584.91L242.86 584.86L244.21 585.65L245.56 583.29L246.92 582.82L248.27 584.54L249.63 584.49L250.98 585.79L252.33 585.74L253.69 584.96L255.04 585.22L256.39 583.39L257.75 585.57L259.1 586.02L260.45 583L261.81 584.38L263.16 585.63L264.52 584.34L265.87 586.03L267.22 584.4L268.58 582.94L269.93 583.32L271.28 583.87L272.64 585.29L273.99 584.95L275.34 585.6L276.7 583.64L278.05 584.42L279.4 583.62L280.76 585.09L282.11 585.44L283.47 583.53L284.82 582.97L286.17 583.4L287.53 583.56L288.88 583.53L290.23 583.8L291.59 585.49L292.94 584.56L294.29 585.11L295.65 586.19L297 586.21L298.36 585.42L299.71 585.5L301.06 584.11L302.42 583.27L303.77 584.95L305.12 583.37L306.48 583.22L307.83 583.35L309.18 585.29L310.54 585.78L311.89 585.78L313.24 585.9L314.6 585.89L315.95 584.55L317.31 583.67L318.66 583.88L320.01 585.07L321.37 584.53L322.72 584.07L324.07 586.42L325.43 584.56L326.78 583.77L328.13 584.2L329.49 584.33L330.84 585.23L332.2 586.23L333.55 584.26L334.9 585.77L336.26 584.26L337.61 583.72L338.96 585.62L340.32 585.62L341.67 583.86L343.02 584.6L344.38 586.43L345.73 586.59L347.08 586.53L348.44 584.1L349.79 584.44L351.15 586.61L352.5 584.41L353.85 583.93L355.21 585L356.56 586.02L357.91 585.39L359.27 586.77L360.62 587.17L361.97 584.07L363.33 585.14L364.68 585.56L366.04 584.25L367.39 585.9L368.74 584.49L370.1 584.66L371.45 586.68L372.8 586.57L374.16 586.46L375.51 586.65L376.86 585.54L378.22 586.62L379.57 586.12L380.92 587.08L382.28 584.56L383.63 586.39L384.99 586.07L386.34 585.69L387.69 584.66L389.05 586.25L390.4 584.65L391.75 586.03L393.11 585.95L394.46 586L395.81 587.66L397.17 586.31L398.52 587.16L399.88 587.77L401.23 585.2L402.58 587.26L403.94 586.3L405.29 585.5L406.64 586.06L408 586.83L409.35 586.23L410.7 586.13L412.06 585.4L413.41 587.63L414.76 586.17L416.12 587.2L417.47 587.13L418.83 585.54L420.18 586.42L421.53 586.26L422.89 585.63L424.24 585.16L425.59 586.7L426.95 586.17L428.3 586.54L429.65 586.54L431.01 585.97L432.36 585.39L433.72 583.77L435.07 582.6L436.42 582.45L437.78 584.59L439.13 585.37L440.48 585.16L441.84 587.38L443.19 586.4L444.54 585.15L445.9 585.49L447.25 587.78L448.6 587.83L449.96 586.78L451.31 587.99L452.67 587.44L454.02 587.99L455.37 586.04L456.73 585.67L458.08 585.3L459.43 587.72L460.79 585.89L462.14 586.07L463.49 587.76L464.85 585.35L466.2 585.07L467.56 587.51L468.91 585.12L470.26 586.93L471.62 586.64L472.97 585L474.32 585.51L475.68 587.7L477.03 586.82L478.38 586.55L479.74 587.12L481.09 587.59L482.44 587.19L483.8 585.87L485.15 588.16L486.51 586.42L487.86 586.79L489.21 588.17L490.57 587.15L491.92 586.19L493.27 586.56L494.63 588.02L495.98 585.02L497.33 585.66L498.69 585.06L500.04 587.88L501.4 587.36L502.75 588.1L504.1 585.69L505.46 587.34L506.81 587.8L508.16 586.85L509.52 585.26L510.87 585.56L512.22 587.38L513.58 587.74L514.93 585.23L516.28 586.37L517.64 585.94L518.99 587.93L520.35 588.04L521.7 585.98L523.05 586.84L524.41 587.99L525.76 585.17L527.11 586.16L528.47 585.61L529.82 587.95L531.17 585.44L532.53 588.01L533.88 585.42L535.24 586.75L536.59 587.12L537.94 586.42L539.3 585.21L540.65 587.35L542 587.8L543.36 586.51L544.71 587.45L546.06 587.87L547.42 587.7L548.77 588.06L550.12 587.57L551.48 587.21L552.83 587.23L554.19 585.75L555.54 587.28L556.89 586.6L558.25 587.65L559.6 587.09L560.95 588.17L562.31 587.41L563.66 588.17L565.01 585.84L566.37 586.43L567.72 587.61L569.08 586.68L570.43 585.18L571.78 587.88L573.14 585.56L574.49 586.82L575.84 586.61L577.2 585.51L578.55 586.94L579.9 586.57L581.26 585.99L582.61 585.03L583.96 587.11L585.32 585.51L586.67 585.92L588.03 586.15L589.38 586.91L590.73 587.09L592.09 588.05L593.44 587.8L594.79 587.99L596.15 585.8L597.5 587.37L598.85 587.67L600.21 587.92L601.56 585.45L602.92 585.35L604.27 585.99L605.62 587.25L606.98 587.38L608.33 587.21L609.68 586.66L611.04 587.64L612.39 586.69L613.74 587.28L615.1 585L616.45 584.96L617.8 586.34L619.16 587.32L620.51 584.96L621.87 587.09L623.22 586.94L624.57 588.09L625.93 586.84L627.28 586.53L628.63 586.44L629.99 587.41L631.34 586.42L632.69 588.04L634.05 587.19L635.4 587.75L636.76 586.74L638.11 587.9L639.46 587.95L640.82 587.03L642.17 587.26L643.52 586.1L644.88 586.28L646.23 585.55L647.58 585.85L648.94 585.65L650.29 585.12L651.64 586.71L653 586.91L654.35 584.76L655.71 587.47L657.06 585.59L658.41 585.85L659.77 587.8L661.12 585.21L662.47 585.02L663.83 585.88L665.18 585.53L666.53 585.27L667.89 587.45L669.24 586.19L670.6 586.25L671.95 585.17L673.3 585.26L674.66 585.18L676.01 585.97L677.36 584.96L678.72 585.63L680.07 585.59L681.42 587.1L682.78 587.74L684.13 587.4L685.48 586.65L686.84 587.48L688.19 585.1L689.55 586.08L690.9 585.93L692.25 586.02L693.61 585.92L694.96 586.62L696.31 588.28L697.67 585.77L699.02 586.01L700.37 586.89L701.73 586.87L703.08 586.54L704.44 588.55L705.79 586.45L707.14 588.1L708.5 588.76L709.85 588.22L711.2 586.79L712.56 588.57L713.91 587.65L715.26 587.69L716.62 590.08L717.97 588.27L719.32 585.78L720.68 582.95L722.03 584.71L723.39 587.23L724.74 589.18L726.09 590.01L727.45 588.76L728.8 587.4" fill="none" stroke="#1a1a1a" stroke-width="1.2" stroke-linejoin="round" stroke-linecap="round" />
<circle cx="53.35" cy="588.8" r="3.7" fill="#1a1a1a"/>
<circle cx="54.71" cy="587.53" r="3.7" fill="#1a1a1a"/>
<circle cx="56.06" cy="584.07" r="3.7" fill="#1a1a1a"/>
<circle cx="57.41" cy="584.12" r="3.7" fill="#1a1a1a"/>
<circle cx="58.77" cy="580.78" r="3.7" fill="#1a1a1a"/>
<circle cx="60.12" cy="579.5" r="3.7" fill="#1a1a1a"/>
<circle cx="61.48" cy="581.66" r="3.7" fill="#1a1a1a"/>
<circle cx="62.83" cy="581.35" r="3.7" fill="#1a1a1a"/>
<circle cx="64.18" cy="584.03" r="3.7" fill="#1a1a1a"/>
<circle cx="65.54" cy="582.73" r="3.7" fill="#1a1a1a"/>
<circle cx="66.89" cy="583.9" r="3.7" fill="#1a1a1a"/>
<circle cx="68.24" cy="583.82" r="3.7" fill="#1a1a1a"/>
<circle cx="69.6" cy="582.72" r="3.7" fill="#1a1a1a"/>
<circle cx="70.95" cy="581.4" r="3.7" fill="#1a1a1a"/>
<circle cx="72.3" cy="583.67" r="3.7" fill="#1a1a1a"/>
<circle cx="73.66" cy="583.34" r="3.7" fill="#1a1a1a"/>
<circle cx="75.01" cy="582.01" r="3.7" fill="#1a1a1a"/>
<circle cx="76.36" cy="580.95" r="3.7" fill="#1a1a1a"/>
<circle cx="77.72" cy="582.14" r="3.7" fill="#1a1a1a"/>
<circle cx="79.07" cy="582.72" r="3.7" fill="#1a1a1a"/>
<circle cx="80.43" cy="580.82" r="3.7" fill="#1a1a1a"/>
<circle cx="81.78" cy="583.83" r="3.7" fill="#1a1a1a"/>
<circle cx="83.13" cy="581.18" r="3.7" fill="#1a1a1a"/>
<circle cx="84.49" cy="583.01" r="3.7" fill="#1a1a1a"/>
<circle cx="85.84" cy="583.47" r="3.7" fill="#1a1a1a"/>
<circle cx="87.19" cy="583.55" r="3.7" fill="#1a1a1a"/>
<circle cx="88.55" cy="582.91" r="3.7" fill="#1a1a1a"/>
<circle cx="89.9" cy="581.25" r="3.7" fill="#1a1a1a"/>
<circle cx="91.25" cy="583.3" r="3.7" fill="#1a1a1a"/>
<circle cx="92.61" cy="581.99" r="3.7" fill="#1a1a1a"/>
<circle cx="93.96" cy="581.79" r="3.7" fill="#1a1a1a"/>
<circle cx="95.32" cy="582.64" r="3.7" fill="#1a1a1a"/>
<circle cx="96.67" cy="582.06" r="3.7" fill="#1a1a1a"/>
<circle cx="98.02" cy="583.62" r="3.7" fill="#1a1a1a"/>
<circle cx="99.38" cy="583.62" r="3.7" fill="#1a1a1a"/>
<circle cx="100.73" cy="583.13" r="3.7" fill="#1a1a1a"/>
<circle cx="102.08" cy="581.57" r="3.7" fill="#1a1a1a"/>
<circle cx="103.44" cy="582.38" r="3.7" fill="#1a1a1a"/>
<circle cx="104.79" cy="582.74" r="3.7" fill="#1a1a1a"/>
<circle cx="106.14" cy="581.84" r="3.7" fill="#1a1a1a"/>
<circle cx="107.5" cy="582.32" r="3.7" fill="#1a1a1a"/>
<circle cx="108.85" cy="582.87" r="3.7" fill="#1a1a1a"/>
<circle cx="110.2" cy="581.31" r="3.7" fill="#1a1a1a"/>
<circle cx="111.56" cy="581.68" r="3.7" fill="#1a1a1a"/>
<circle cx="112.91" cy="583.21" r="3.7" fill="#1a1a1a"/>
<circle cx="114.27" cy="582.18" r="3.7" fill="#1a1a1a"/>
<circle cx="115.62" cy="582.39" r="3.7" fill="#1a1a1a"/>
<circle cx="116.97" cy="581.31" r="3.7" fill="#1a1a1a"/>
<circle cx="118.33" cy="581.83" r="3.7" fill="#1a1a1a"/>
<circle cx="119.68" cy="583.32" r="3.7" fill="#1a1a1a"/>
<circle cx="121.03" cy="581.12" r="3.7" fill="#1a1a1a"/>
<circle cx="122.39" cy="583.97" r="3.7" fill="#1a1a1a"/>
<circle cx="123.74" cy="583.05" r="3.7" fill="#1a1a1a"/>
<circle cx="125.09" cy="581.99" r="3.7" fill="#1a1a1a"/>
<circle cx="126.45" cy="584.02" r="3.7" fill="#1a1a1a"/>
<circle cx="127.8" cy="582.97" r="3.7" fill="#1a1a1a"/>
<circle cx="129.16" cy="584.48" r="3.7" fill="#1a1a1a"/>
<circle cx="130.51" cy="582.49" r="3.7" fill="#1a1a1a"/>
<circle cx="131.86" cy="582.22" r="3.7" fill="#1a1a1a"/>
<circle cx="133.22" cy="582.9" r="3.7" fill="#1a1a1a"/>
<circle cx="134.57" cy="581.97" r="3.7" fill="#1a1a1a"/>
<circle cx="135.92" cy="583.85" r="3.7" fill="#1a1a1a"/>
<circle cx="137.28" cy="582.65" r="3.7" fill="#1a1a1a"/>
<circle cx="138.63" cy="583.03" r="3.7" fill="#1a1a1a"/>
<circle cx="139.98" cy="583.13" r="3.7" fill="#1a1a1a"/>
<circle cx="141.34" cy="583.58" r="3.7" fill="#1a1a1a"/>
<circle cx="142.69" cy="582.39" r="3.7" fill="#1a1a1a"/>
<circle cx="144.04" cy="582.1" r="3.7" fill="#1a1a1a"/>
<circle cx="145.4" cy="583.68" r="3.7" fill="#1a1a1a"/>
<circle cx="146.75" cy="583.11" r="3.7" fill="#1a1a1a"/>
<circle cx="148.11" cy="585.13" r="3.7" fill="#1a1a1a"/>
<circle cx="149.46" cy="583.09" r="3.7" fill="#1a1a1a"/>
<circle cx="150.81" cy="583.32" r="3.7" fill="#1a1a1a"/>
<circle cx="152.17" cy="582.24" r="3.7" fill="#1a1a1a"/>
<circle cx="153.52" cy="582.85" r="3.7" fill="#1a1a1a"/>
<circle cx="154.87" cy="584.65" r="3.7" fill="#1a1a1a"/>
<circle cx="156.23" cy="584.37" r="3.7" fill="#1a1a1a"/>
<circle cx="157.58" cy="583.5" r="3.7" fill="#1a1a1a"/>
<circle cx="158.93" cy="585.66" r="3.7" fill="#1a1a1a"/>
<circle cx="160.29" cy="584.28" r="3.7" fill="#1a1a1a"/>
<circle cx="161.64" cy="585.24" r="3.7" fill="#1a1a1a"/>
<circle cx="163" cy="585.41" r="3.7" fill="#1a1a1a"/>
<circle cx="164.35" cy="585.6" r="3.7" fill="#1a1a1a"/>
<circle cx="165.7" cy="583.3" r="3.7" fill="#1a1a1a"/>
<circle cx="167.06" cy="585.38" r="3.7" fill="#1a1a1a"/>
<circle cx="168.41" cy="585" r="3.7" fill="#1a1a1a"/>
<circle cx="169.76" cy="584.54" r="3.7" fill="#1a1a1a"/>
<circle cx="171.12" cy="582.98" r="3.7" fill="#1a1a1a"/>
<circle cx="172.47" cy="585.56" r="3.7" fill="#1a1a1a"/>
<circle cx="173.82" cy="584.36" r="3.7" fill="#1a1a1a"/>
<circle cx="175.18" cy="584.04" r="3.7" fill="#1a1a1a"/>
<circle cx="176.53" cy="582.96" r="3.7" fill="#1a1a1a"/>
<circle cx="177.88" cy="583.17" r="3.7" fill="#1a1a1a"/>
<circle cx="179.24" cy="583.03" r="3.7" fill="#1a1a1a"/>
<circle cx="180.59" cy="584.94" r="3.7" fill="#1a1a1a"/>
<circle cx="181.95" cy="584.5" r="3.7" fill="#1a1a1a"/>
<circle cx="183.3" cy="584.69" r="3.7" fill="#1a1a1a"/>
<circle cx="184.65" cy="582.98" r="3.7" fill="#1a1a1a"/>
<circle cx="186.01" cy="582.75" r="3.7" fill="#1a1a1a"/>
<circle cx="187.36" cy="585.38" r="3.7" fill="#1a1a1a"/>
<circle cx="188.71" cy="585.3" r="3.7" fill="#1a1a1a"/>
<circle cx="190.07" cy="585.12" r="3.7" fill="#1a1a1a"/>
<circle cx="191.42" cy="585.12" r="3.7" fill="#1a1a1a"/>
<circle cx="192.77" cy="584.31" r="3.7" fill="#1a1a1a"/>
<circle cx="194.13" cy="583.97" r="3.7" fill="#1a1a1a"/>
<circle cx="195.48" cy="585.04" r="3.7" fill="#1a1a1a"/>
<circle cx="196.84" cy="585.88" r="3.7" fill="#1a1a1a"/>
<circle cx="198.19" cy="584.54" r="3.7" fill="#1a1a1a"/>
<circle cx="199.54" cy="584.7" r="3.7" fill="#1a1a1a"/>
<circle cx="200.9" cy="584.07" r="3.7" fill="#1a1a1a"/>
<circle cx="202.25" cy="582.81" r="3.7" fill="#1a1a1a"/>
<circle cx="203.6" cy="583.67" r="3.7" fill="#1a1a1a"/>
<circle cx="204.96" cy="584.25" r="3.7" fill="#1a1a1a"/>
<circle cx="206.31" cy="583.92" r="3.7" fill="#1a1a1a"/>
<circle cx="207.66" cy="583.73" r="3.7" fill="#1a1a1a"/>
<circle cx="209.02" cy="585.76" r="3.7" fill="#1a1a1a"/>
<circle cx="210.37" cy="583.01" r="3.7" fill="#1a1a1a"/>
<circle cx="211.72" cy="583.41" r="3.7" fill="#1a1a1a"/>
<circle cx="213.08" cy="583.1" r="3.7" fill="#1a1a1a"/>
<circle cx="214.43" cy="583.36" r="3.7" fill="#1a1a1a"/>
<circle cx="215.79" cy="584.68" r="3.7" fill="#1a1a1a"/>
<circle cx="217.14" cy="584.66" r="3.7" fill="#1a1a1a"/>
<circle cx="218.49" cy="585.63" r="3.7" fill="#1a1a1a"/>
<circle cx="219.85" cy="583.91" r="3.7" fill="#1a1a1a"/>
<circle cx="221.2" cy="585.77" r="3.7" fill="#1a1a1a"/>
<circle cx="222.55" cy="585.76" r="3.7" fill="#1a1a1a"/>
<circle cx="223.91" cy="585.3" r="3.7" fill="#1a1a1a"/>
<circle cx="225.26" cy="585.46" r="3.7" fill="#1a1a1a"/>
<circle cx="226.61" cy="584.89" r="3.7" fill="#1a1a1a"/>
<circle cx="227.97" cy="585.83" r="3.7" fill="#1a1a1a"/>
<circle cx="229.32" cy="586" r="3.7" fill="#1a1a1a"/>
<circle cx="230.68" cy="585.51" r="3.7" fill="#1a1a1a"/>
<circle cx="232.03" cy="585.68" r="3.7" fill="#1a1a1a"/>
<circle cx="233.38" cy="584.83" r="3.7" fill="#1a1a1a"/>
<circle cx="234.74" cy="585.94" r="3.7" fill="#1a1a1a"/>
<circle cx="236.09" cy="583.18" r="3.7" fill="#1a1a1a"/>
<circle cx="237.44" cy="584.03" r="3.7" fill="#1a1a1a"/>
<circle cx="238.8" cy="585.55" r="3.7" fill="#1a1a1a"/>
<circle cx="240.15" cy="585.21" r="3.7" fill="#1a1a1a"/>
<circle cx="241.5" cy="584.91" r="3.7" fill="#1a1a1a"/>
<circle cx="242.86" cy="584.86" r="3.7" fill="#1a1a1a"/>
<circle cx="244.21" cy="585.65" r="3.7" fill="#1a1a1a"/>
<circle cx="245.56" cy="583.29" r="3.7" fill="#1a1a1a"/>
<circle cx="246.92" cy="582.82" r="3.7" fill="#1a1a1a"/>
<circle cx="248.27" cy="584.54" r="3.7" fill="#1a1a1a"/>
<circle cx="249.63" cy="584.49" r="3.7" fill="#1a1a1a"/>
<circle cx="250.98" cy="585.79" r="3.7" fill="#1a1a1a"/>
<circle cx="252.33" cy="585.74" r="3.7" fill="#1a1a1a"/>
<circle cx="253.69" cy="584.96" r="3.7" fill="#1a1a1a"/>
<circle cx="255.04" cy="585.22" r="3.7" fill="#1a1a1a"/>
<circle cx="256.39" cy="583.39" r="3.7" fill="#1a1a1a"/>
<circle cx="257.75" cy="585.57" r="3.7" fill="#1a1a1a"/>
<circle cx="259.1" cy="586.02" r="3.7" fill="#1a1a1a"/>
<circle cx="260.45" cy="583" r="3.7" fill="#1a1a1a"/>
<circle cx="261.81" cy="584.38" r="3.7" fill="#1a1a1a"/>
<circle cx="263.16" cy="585.63" r="3.7" fill="#1a1a1a"/>
<circle cx="264.52" cy="584.34" r="3.7" fill="#1a1a1a"/>
<circle cx="265.87" cy="586.03" r="3.7" fill="#1a1a1a"/>
<circle cx="267.22" cy="584.4" r="3.7" fill="#1a1a1a"/>
<circle cx="268.58" cy="582.94" r="3.7" fill="#1a1a1a"/>
<circle cx="269.93" cy="583.32" r="3.7" fill="#1a1a1a"/>
<circle cx="271.28" cy="583.87" r="3.7" fill="#1a1a1a"/>
<circle cx="272.64" cy="585.29" r="3.7" fill="#1a1a1a"/>
<circle cx="273.99" cy="584.95" r="3.7" fill="#1a1a1a"/>
<circle cx="275.34" cy="585.6" r="3.7" fill="#1a1a1a"/>
<circle cx="276.7" cy="583.64" r="3.7" fill="#1a1a1a"/>
<circle cx="278.05" cy="584.42" r="3.7" fill="#1a1a1a"/>
<circle cx="279.4" cy="583.62" r="3.7" fill="#1a1a1a"/>
<circle cx="280.76" cy="585.09" r="3.7" fill="#1a1a1a"/>
<circle cx="282.11" cy="585.44" r="3.7" fill="#1a1a1a"/>
<circle cx="283.47" cy="583.53" r="3.7" fill="#1a1a1a"/>
<circle cx="284.82" cy="582.97" r="3.7" fill="#1a1a1a"/>
<circle cx="286.17" cy="583.4" r="3.7" fill="#1a1a1a"/>
<circle cx="287.53" cy="583.56" r="3.7" fill="#1a1a1a"/>
<circle cx="288.88" cy="583.53" r="3.7" fill="#1a1a1a"/>
<circle cx="290.23" cy="583.8" r="3.7" fill="#1a1a1a"/>
<circle cx="291.59" cy="585.49" r="3.7" fill="#1a1a1a"/>
<circle cx="292.94" cy="584.56" r="3.7" fill="#1a1a1a"/>
<circle cx="294.29" cy="585.11" r="3.7" fill="#1a1a1a"/>
<circle cx="295.65" cy="586.19" r="3.7" fill="#1a1a1a"/>
<circle cx="297" cy="586.21" r="3.7" fill="#1a1a1a"/>
<circle cx="298.36" cy="585.42" r="3.7" fill="#1a1a1a"/>
<circle cx="299.71" cy="585.5" r="3.7" fill="#1a1a1a"/>
<circle cx="301.06" cy="584.11" r="3.7" fill="#1a1a1a"/>
<circle cx="302.42" cy="583.27" r="3.7" fill="#1a1a1a"/>
<circle cx="303.77" cy="584.95" r="3.7" fill="#1a1a1a"/>
<circle cx="305.12" cy="583.37" r="3.7" fill="#1a1a1a"/>
<circle cx="306.48" cy="583.22" r="3.7" fill="#1a1a1a"/>
<circle cx="307.83" cy="583.35" r="3.7" fill="#1a1a1a"/>
<circle cx="309.18" cy="585.29" r="3.7" fill="#1a1a1a"/>
<circle cx="310.54" cy="585.78" r="3.7" fill="#1a1a1a"/>
<circle cx="311.89" cy="585.78" r="3.7" fill="#1a1a1a"/>
<circle cx="313.24" cy="585.9" r="3.7" fill="#1a1a1a"/>
<circle cx="314.6" cy="585.89" r="3.7" fill="#1a1a1a"/>
<circle cx="315.95" cy="584.55" r="3.7" fill="#1a1a1a"/>
<circle cx="317.31" cy="583.67" r="3.7" fill="#1a1a1a"/>
<circle cx="318.66" cy="583.88" r="3.7" fill="#1a1a1a"/>
<circle cx="320.01" cy="585.07" r="3.7" fill="#1a1a1a"/>
<circle cx="321.37" cy="584.53" r="3.7" fill="#1a1a1a"/>
<circle cx="322.72" cy="584.07" r="3.7" fill="#1a1a1a"/>
<circle cx="324.07" cy="586.42" r="3.7" fill="#1a1a1a"/>
<circle cx="325.43" cy="584.56" r="3.7" fill="#1a1a1a"/>
<circle cx="326.78" cy="583.77" r="3.7" fill="#1a1a1a"/>
<circle cx="328.13" cy="584.2" r="3.7" fill="#1a1a1a"/>
<circle cx="329.49" cy="584.33" r="3.7" fill="#1a1a1a"/>
<circle cx="330.84" cy="585.23" r="3.7" fill="#1a1a1a"/>
<circle cx="332.2" cy="586.23" r="3.7" fill="#1a1a1a"/>
<circle cx="333.55" cy="584.26" r="3.7" fill="#1a1a1a"/>
<circle cx="334.9" cy="585.77" r="3.7" fill="#1a1a1a"/>
<circle cx="336.26" cy="584.26" r="3.7" fill="#1a1a1a"/>
<circle cx="337.61" cy="583.72" r="3.7" fill="#1a1a1a"/>
<circle cx="338.96" cy="585.62" r="3.7" fill="#1a1a1a"/>
<circle cx="340.32" cy="585.62" r="3.7" fill="#1a1a1a"/>
<circle cx="341.67" cy="583.86" r="3.7" fill="#1a1a1a"/>
<circle cx="343.02" cy="584.6" r="3.7" fill="#1a1a1a"/>
<circle cx="344.38" cy="586.43" r="3.7" fill="#1a1a1a"/>
<circle cx="345.73" cy="586.59" r="3.7" fill="#1a1a1a"/>
<circle cx="347.08" cy="586.53" r="3.7" fill="#1a1a1a"/>
<circle cx="348.44" cy="584.1" r="3.7" fill="#1a1a1a"/>
<circle cx="349.79" cy="584.44" r="3.7" fill="#1a1a1a"/>
<circle cx="351.15" cy="586.61" r="3.7" fill="#1a1a1a"/>
<circle cx="352.5" cy="584.41" r="3.7" fill="#1a1a1a"/>
<circle cx="353.85" cy="583.93" r="3.7" fill="#1a1a1a"/>
<circle cx="355.21" cy="585" r="3.7" fill="#1a1a1a"/>
<circle cx="356.56" cy="586.02" r="3.7" fill="#1a1a1a"/>
<circle cx="357.91" cy="585.39" r="3.7" fill="#1a1a1a"/>
<circle cx="359.27" cy="586.77" r="3.7" fill="#1a1a1a"/>
<circle cx="360.62" cy="587.17" r="3.7" fill="#1a1a1a"/>
<circle cx="361.97" cy="584.07" r="3.7" fill="#1a1a1a"/>
<circle cx="363.33" cy="585.14" r="3.7" fill="#1a1a1a"/>
<circle cx="364.68" cy="585.56" r="3.7" fill="#1a1a1a"/>
<circle cx="366.04" cy="584.25" r="3.7" fill="#1a1a1a"/>
<circle cx="367.39" cy="585.9" r="3.7" fill="#1a1a1a"/>
<circle cx="368.74" cy="584.49" r="3.7" fill="#1a1a1a"/>
<circle cx="370.1" cy="584.66" r="3.7" fill="#1a1a1a"/>
<circle cx="371.45" cy="586.68" r="3.7" fill="#1a1a1a"/>
<circle cx="372.8" cy="586.57" r="3.7" fill="#1a1a1a"/>
<circle cx="374.16" cy="586.46" r="3.7" fill="#1a1a1a"/>
<circle cx="375.51" cy="586.65" r="3.7" fill="#1a1a1a"/>
<circle cx="376.86" cy="585.54" r="3.7" fill="#1a1a1a"/>
<circle cx="378.22" cy="586.62" r="3.7" fill="#1a1a1a"/>
<circle cx="379.57" cy="586.12" r="3.7" fill="#1a1a1a"/>
<circle cx="380.92" cy="587.08" r="3.7" fill="#1a1a1a"/>
<circle cx="382.28" cy="584.56" r="3.7" fill="#1a1a1a"/>
<circle cx="383.63" cy="586.39" r="3.7" fill="#1a1a1a"/>
<circle cx="384.99" cy="586.07" r="3.7" fill="#1a1a1a"/>
<circle cx="386.34" cy="585.69" r="3.7" fill="#1a1a1a"/>
<circle cx="387.69" cy="584.66" r="3.7" fill="#1a1a1a"/>
<circle cx="389.05" cy="586.25" r="3.7" fill="#1a1a1a"/>
<circle cx="390.4" cy="584.65" r="3.7" fill="#1a1a1a"/>
<circle cx="391.75" cy="586.03" r="3.7" fill="#1a1a1a"/>
<circle cx="393.11" cy="585.95" r="3.7" fill="#1a1a1a"/>
<circle cx="394.46" cy="586" r="3.7" fill="#1a1a1a"/>
<circle cx="395.81" cy="587.66" r="3.7" fill="#1a1a1a"/>
<circle cx="397.17" cy="586.31" r="3.7" fill="#1a1a1a"/>
<circle cx="398.52" cy="587.16" r="3.7" fill="#1a1a1a"/>
<circle cx="399.88" cy="587.77" r="3.7" fill="#1a1a1a"/>
<circle cx="401.23" cy="585.2" r="3.7" fill="#1a1a1a"/>
<circle cx="402.58" cy="587.26" r="3.7" fill="#1a1a1a"/>
<circle cx="403.94" cy="586.3" r="3.7" fill="#1a1a1a"/>
<circle cx="405.29" cy="585.5" r="3.7" fill="#1a1a1a"/>
<circle cx="406.64" cy="586.06" r="3.7" fill="#1a1a1a"/>
<circle cx="408" cy="586.83" r="3.7" fill="#1a1a1a"/>
<circle cx="409.35" cy="586.23" r="3.7" fill="#1a1a1a"/>
<circle cx="410.7" cy="586.13" r="3.7" fill="#1a1a1a"/>
<circle cx="412.06" cy="585.4" r="3.7" fill="#1a1a1a"/>
<circle cx="413.41" cy="587.63" r="3.7" fill="#1a1a1a"/>
<circle cx="414.76" cy="586.17" r="3.7" fill="#1a1a1a"/>
<circle cx="416.12" cy="587.2" r="3.7" fill="#1a1a1a"/>
<circle cx="417.47" cy="587.13" r="3.7" fill="#1a1a1a"/>
<circle cx="418.83" cy="585.54" r="3.7" fill="#1a1a1a"/>
<circle cx="420.18" cy="586.42" r="3.7" fill="#1a1a1a"/>
<circle cx="421.53" cy="586.26" r="3.7" fill="#1a1a1a"/>
<circle cx="422.89" cy="585.63" r="3.7" fill="#1a1a1a"/>
<circle cx="424.24" cy="585.16" r="3.7" fill="#1a1a1a"/>
<circle cx="425.59" cy="586.7" r="3.7" fill="#1a1a1a"/>
<circle cx="426.95" cy="586.17" r="3.7" fill="#1a1a1a"/>
<circle cx="428.3" cy="586.54" r="3.7" fill="#1a1a1a"/>
<circle cx="429.65" cy="586.54" r="3.7" fill="#1a1a1a"/>
<circle cx="431.01" cy="585.97" r="3.7" fill="#1a1a1a"/>
<circle cx="432.36" cy="585.39" r="3.7" fill="#1a1a1a"/>
<circle cx="433.72" cy="583.77" r="3.7" fill="#1a1a1a"/>
<circle cx="435.07" cy="582.6" r="3.7" fill="#1a1a1a"/>
<circle cx="436.42" cy="582.45" r="3.7" fill="#1a1a1a"/>
<circle cx="437.78" cy="584.59" r="3.7" fill="#1a1a1a"/>
<circle cx="439.13" cy="585.37" r="3.7" fill="#1a1a1a"/>
<circle cx="440.48" cy="585.16" r="3.7" fill="#1a1a1a"/>
<circle cx="441.84" cy="587.38" r="3.7" fill="#1a1a1a"/>
<circle cx="443.19" cy="586.4" r="3.7" fill="#1a1a1a"/>
<circle cx="444.54" cy="585.15" r="3.7" fill="#1a1a1a"/>
<circle cx="445.9" cy="585.49" r="3.7" fill="#1a1a1a"/>
<circle cx="447.25" cy="587.78" r="3.7" fill="#1a1a1a"/>
<circle cx="448.6" cy="587.83" r="3.7" fill="#1a1a1a"/>
<circle cx="449.96" cy="586.78" r="3.7" fill="#1a1a1a"/>
<circle cx="451.31" cy="587.99" r="3.7" fill="#1a1a1a"/>
<circle cx="452.67" cy="587.44" r="3.7" fill="#1a1a1a"/>
<circle cx="454.02" cy="587.99" r="3.7" fill="#1a1a1a"/>
<circle cx="455.37" cy="586.04" r="3.7" fill="#1a1a1a"/>
<circle cx="456.73" cy="585.67" r="3.7" fill="#1a1a1a"/>
<circle cx="458.08" cy="585.3" r="3.7" fill="#1a1a1a"/>
<circle cx="459.43" cy="587.72" r="3.7" fill="#1a1a1a"/>
<circle cx="460.79" cy="585.89" r="3.7" fill="#1a1a1a"/>
<circle cx="462.14" cy="586.07" r="3.7" fill="#1a1a1a"/>
<circle cx="463.49" cy="587.76" r="3.7" fill="#1a1a1a"/>
<circle cx="464.85" cy="585.35" r="3.7" fill="#1a1a1a"/>
<circle cx="466.2" cy="585.07" r="3.7" fill="#1a1a1a"/>
<circle cx="467.56" cy="587.51" r="3.7" fill="#1a1a1a"/>
<circle cx="468.91" cy="585.12" r="3.7" fill="#1a1a1a"/>
<circle cx="470.26" cy="586.93" r="3.7" fill="#1a1a1a"/>
<circle cx="471.62" cy="586.64" r="3.7" fill="#1a1a1a"/>
<circle cx="472.97" cy="585" r="3.7" fill="#1a1a1a"/>
<circle cx="474.32" cy="585.51" r="3.7" fill="#1a1a1a"/>
<circle cx="475.68" cy="587.7" r="3.7" fill="#1a1a1a"/>
<circle cx="477.03" cy="586.82" r="3.7" fill="#1a1a1a"/>
<circle cx="478.38" cy="586.55" r="3.7" fill="#1a1a1a"/>
<circle cx="479.74" cy="587.12" r="3.7" fill="#1a1a1a"/>
<circle cx="481.09" cy="587.59" r="3.7" fill="#1a1a1a"/>
<circle cx="482.44" cy="587.19" r="3.7" fill="#1a1a1a"/>
<circle cx="483.8" cy="585.87" r="3.7" fill="#1a1a1a"/>
<circle cx="485.15" cy="588.16" r="3.7" fill="#1a1a1a"/>
<circle cx="486.51" cy="586.42" r="3.7" fill="#1a1a1a"/>
<circle cx="487.86" cy="586.79" r="3.7" fill="#1a1a1a"/>
<circle cx="489.21" cy="588.17" r="3.7" fill="#1a1a1a"/>
<circle cx="490.57" cy="587.15" r="3.7" fill="#1a1a1a"/>
<circle cx="491.92" cy="586.19" r="3.7" fill="#1a1a1a"/>
<circle cx="493.27" cy="586.56" r="3.7" fill="#1a1a1a"/>
<circle cx="494.63" cy="588.02" r="3.7" fill="#1a1a1a"/>
<circle cx="495.98" cy="585.02" r="3.7" fill="#1a1a1a"/>
<circle cx="497.33" cy="585.66" r="3.7" fill="#1a1a1a"/>
<circle cx="498.69" cy="585.06" r="3.7" fill="#1a1a1a"/>
<circle cx="500.04" cy="587.88" r="3.7" fill="#1a1a1a"/>
<circle cx="501.4" cy="587.36" r="3.7" fill="#1a1a1a"/>
<circle cx="502.75" cy="588.1" r="3.7" fill="#1a1a1a"/>
<circle cx="504.1" cy="585.69" r="3.7" fill="#1a1a1a"/>
<circle cx="505.46" cy="587.34" r="3.7" fill="#1a1a1a"/>
<circle cx="506.81" cy="587.8" r="3.7" fill="#1a1a1a"/>
<circle cx="508.16" cy="586.85" r="3.7" fill="#1a1a1a"/>
<circle cx="509.52" cy="585.26" r="3.7" fill="#1a1a1a"/>
<circle cx="510.87" cy="585.56" r="3.7" fill="#1a1a1a"/>
<circle cx="512.22" cy="587.38" r="3.7" fill="#1a1a1a"/>
<circle cx="513.58" cy="587.74" r="3.7" fill="#1a1a1a"/>
<circle cx="514.93" cy="585.23" r="3.7" fill="#1a1a1a"/>
<circle cx="516.28" cy="586.37" r="3.7" fill="#1a1a1a"/>
<circle cx="517.64" cy="585.94" r="3.7" fill="#1a1a1a"/>
<circle cx="518.99" cy="587.93" r="3.7" fill="#1a1a1a"/>
<circle cx="520.35" cy="588.04" r="3.7" fill="#1a1a1a"/>
<circle cx="521.7" cy="585.98" r="3.7" fill="#1a1a1a"/>
<circle cx="523.05" cy="586.84" r="3.7" fill="#1a1a1a"/>
<circle cx="524.41" cy="587.99" r="3.7" fill="#1a1a1a"/>
<circle cx="525.76" cy="585.17" r="3.7" fill="#1a1a1a"/>
<circle cx="527.11" cy="586.16" r="3.7" fill="#1a1a1a"/>
<circle cx="528.47" cy="585.61" r="3.7" fill="#1a1a1a"/>
<circle cx="529.82" cy="587.95" r="3.7" fill="#1a1a1a"/>
<circle cx="531.17" cy="585.44" r="3.7" fill="#1a1a1a"/>
<circle cx="532.53" cy="588.01" r="3.7" fill="#1a1a1a"/>
<circle cx="533.88" cy="585.42" r="3.7" fill="#1a1a1a"/>
<circle cx="535.24" cy="586.75" r="3.7" fill="#1a1a1a"/>
<circle cx="536.59" cy="587.12" r="3.7" fill="#1a1a1a"/>
<circle cx="537.94" cy="586.42" r="3.7" fill="#1a1a1a"/>
<circle cx="539.3" cy="585.21" r="3.7" fill="#1a1a1a"/>
<circle cx="540.65" cy="587.35" r="3.7" fill="#1a1a1a"/>
<circle cx="542" cy="587.8" r="3.7" fill="#1a1a1a"/>
<circle cx="543.36" cy="586.51" r="3.7" fill="#1a1a1a"/>
<circle cx="544.71" cy="587.45" r="3.7" fill="#1a1a1a"/>
<circle cx="546.06" cy="587.87" r="3.7" fill="#1a1a1a"/>
<circle cx="547.42" cy="587.7" r="3.7" fill="#1a1a1a"/>
<circle cx="548.77" cy="588.06" r="3.7" fill="#1a1a1a"/>
<circle cx="550.12" cy="587.57" r="3.7" fill="#1a1a1a"/>
<circle cx="551.48" cy="587.21" r="3.7" fill="#1a1a1a"/>
<circle cx="552.83" cy="587.23" r="3.7" fill="#1a1a1a"/>
<circle cx="554.19" cy="585.75" r="3.7" fill="#1a1a1a"/>
<circle cx="555.54" cy="587.28" r="3.7" fill="#1a1a1a"/>
<circle cx="556.89" cy="586.6" r="3.7" fill="#1a1a1a"/>
<circle cx="558.25" cy="587.65" r="3.7" fill="#1a1a1a"/>
<circle cx="559.6" cy="587.09" r="3.7" fill="#1a1a1a"/>
<circle cx="560.95" cy="588.17" r="3.7" fill="#1a1a1a"/>
<circle cx="562.31" cy="587.41" r="3.7" fill="#1a1a1a"/>
<circle cx="563.66" cy="588.17" r="3.7" fill="#1a1a1a"/>
<circle cx="565.01" cy="585.84" r="3.7" fill="#1a1a1a"/>
<circle cx="566.37" cy="586.43" r="3.7" fill="#1a1a1a"/>
<circle cx="567.72" cy="587.61" r="3.7" fill="#1a1a1a"/>
<circle cx="569.08" cy="586.68" r="3.7" fill="#1a1a1a"/>
<circle cx="570.43" cy="585.18" r="3.7" fill="#1a1a1a"/>
<circle cx="571.78" cy="587.88" r="3.7" fill="#1a1a1a"/>
<circle cx="573.14" cy="585.56" r="3.7" fill="#1a1a1a"/>
<circle cx="574.49" cy="586.82" r="3.7" fill="#1a1a1a"/>
<circle cx="575.84" cy="586.61" r="3.7" fill="#1a1a1a"/>
<circle cx="577.2" cy="585.51" r="3.7" fill="#1a1a1a"/>
<circle cx="578.55" cy="586.94" r="3.7" fill="#1a1a1a"/>
<circle cx="579.9" cy="586.57" r="3.7" fill="#1a1a1a"/>
<circle cx="581.26" cy="585.99" r="3.7" fill="#1a1a1a"/>
<circle cx="582.61" cy="585.03" r="3.7" fill="#1a1a1a"/>
<circle cx="583.96" cy="587.11" r="3.7" fill="#1a1a1a"/>
<circle cx="585.32" cy="585.51" r="3.7" fill="#1a1a1a"/>
<circle cx="586.67" cy="585.92" r="3.7" fill="#1a1a1a"/>
<circle cx="588.03" cy="586.15" r="3.7" fill="#1a1a1a"/>
<circle cx="589.38" cy="586.91" r="3.7" fill="#1a1a1a"/>
<circle cx="590.73" cy="587.09" r="3.7" fill="#1a1a1a"/>
<circle cx="592.09" cy="588.05" r="3.7" fill="#1a1a1a"/>
<circle cx="593.44" cy="587.8" r="3.7" fill="#1a1a1a"/>
<circle cx="594.79" cy="587.99" r="3.7" fill="#1a1a1a"/>
<circle cx="596.15" cy="585.8" r="3.7" fill="#1a1a1a"/>
<circle cx="597.5" cy="587.37" r="3.7" fill="#1a1a1a"/>
<circle cx="598.85" cy="587.67" r="3.7" fill="#1a1a1a"/>
<circle cx="600.21" cy="587.92" r="3.7" fill="#1a1a1a"/>
<circle cx="601.56" cy="585.45" r="3.7" fill="#1a1a1a"/>
<circle cx="602.92" cy="585.35" r="3.7" fill="#1a1a1a"/>
<circle cx="604.27" cy="585.99" r="3.7" fill="#1a1a1a"/>
<circle cx="605.62" cy="587.25" r="3.7" fill="#1a1a1a"/>
<circle cx="606.98" cy="587.38" r="3.7" fill="#1a1a1a"/>
<circle cx="608.33" cy="587.21" r="3.7" fill="#1a1a1a"/>
<circle cx="609.68" cy="586.66" r="3.7" fill="#1a1a1a"/>
<circle cx="611.04" cy="587.64" r="3.7" fill="#1a1a1a"/>
<circle cx="612.39" cy="586.69" r="3.7" fill="#1a1a1a"/>
<circle cx="613.74" cy="587.28" r="3.7" fill="#1a1a1a"/>
<circle cx="615.1" cy="585" r="3.7" fill="#1a1a1a"/>
<circle cx="616.45" cy="584.96" r="3.7" fill="#1a1a1a"/>
<circle cx="617.8" cy="586.34" r="3.7" fill="#1a1a1a"/>
<circle cx="619.16" cy="587.32" r="3.7" fill="#1a1a1a"/>
<circle cx="620.51" cy="584.96" r="3.7" fill="#1a1a1a"/>
<circle cx="621.87" cy="587.09" r="3.7" fill="#1a1a1a"/>
<circle cx="623.22" cy="586.94" r="3.7" fill="#1a1a1a"/>
<circle cx="624.57" cy="588.09" r="3.7" fill="#1a1a1a"/>
<circle cx="625.93" cy="586.84" r="3.7" fill="#1a1a1a"/>
<circle cx="627.28" cy="586.53" r="3.7" fill="#1a1a1a"/>
<circle cx="628.63" cy="586.44" r="3.7" fill="#1a1a1a"/>
<circle cx="629.99" cy="587.41" r="3.7" fill="#1a1a1a"/>
<circle cx="631.34" cy="586.42" r="3.7" fill="#1a1a1a"/>
<circle cx="632.69" cy="588.04" r="3.7" fill="#1a1a1a"/>
<circle cx="634.05" cy="587.19" r="3.7" fill="#1a1a1a"/>
<circle cx="635.4" cy="587.75" r="3.7" fill="#1a1a1a"/>
<circle cx="636.76" cy="586.74" r="3.7" fill="#1a1a1a"/>
<circle cx="638.11" cy="587.9" r="3.7" fill="#1a1a1a"/>
<circle cx="639.46" cy="587.95" r="3.7" fill="#1a1a1a"/>
<circle cx="640.82" cy="587.03" r="3.7" fill="#1a1a1a"/>
<circle cx="642.17" cy="587.26" r="3.7" fill="#1a1a1a"/>
<circle cx="643.52" cy="586.1" r="3.7" fill="#1a1a1a"/>
<circle cx="644.88" cy="586.28" r="3.7" fill="#1a1a1a"/>
<circle cx="646.23" cy="585.55" r="3.7" fill="#1a1a1a"/>
<circle cx="647.58" cy="585.85" r="3.7" fill="#1a1a1a"/>
<circle cx="648.94" cy="585.65" r="3.7" fill="#1a1a1a"/>
<circle cx="650.29" cy="585.12" r="3.7" fill="#1a1a1a"/>
<circle cx="651.64" cy="586.71" r="3.7" fill="#1a1a1a"/>
<circle cx="653" cy="586.91" r="3.7" fill="#1a1a1a"/>
<circle cx="654.35" cy="584.76" r="3.7" fill="#1a1a1a"/>
<circle cx="655.71" cy="587.47" r="3.7" fill="#1a1a1a"/>
<circle cx="657.06" cy="585.59" r="3.7" fill="#1a1a1a"/>
<circle cx="658.41" cy="585.85" r="3.7" fill="#1a1a1a"/>
<circle cx="659.77" cy="587.8" r="3.7" fill="#1a1a1a"/>
<circle cx="661.12" cy="585.21" r="3.7" fill="#1a1a1a"/>
<circle cx="662.47" cy="585.02" r="3.7" fill="#1a1a1a"/>
<circle cx="663.83" cy="585.88" r="3.7" fill="#1a1a1a"/>
<circle cx="665.18" cy="585.53" r="3.7" fill="#1a1a1a"/>
<circle cx="666.53" cy="585.27" r="3.7" fill="#1a1a1a"/>
<circle cx="667.89" cy="587.45" r="3.7" fill="#1a1a1a"/>
<circle cx="669.24" cy="586.19" r="3.7" fill="#1a1a1a"/>
<circle cx="670.6" cy="586.25" r="3.7" fill="#1a1a1a"/>
<circle cx="671.95" cy="585.17" r="3.7" fill="#1a1a1a"/>
<circle cx="673.3" cy="585.26" r="3.7" fill="#1a1a1a"/>
<circle cx="674.66" cy="585.18" r="3.7" fill="#1a1a1a"/>
<circle cx="676.01" cy="585.97" r="3.7" fill="#1a1a1a"/>
<circle cx="677.36" cy="584.96" r="3.7" fill="#1a1a1a"/>
<circle cx="678.72" cy="585.63" r="3.7" fill="#1a1a1a"/>
<circle cx="680.07" cy="585.59" r="3.7" fill="#1a1a1a"/>
<circle cx="681.42" cy="587.1" r="3.7" fill="#1a1a1a"/>
<circle cx="682.78" cy="587.74" r="3.7" fill="#1a1a1a"/>
<circle cx="684.13" cy="587.4" r="3.7" fill="#1a1a1a"/>
<circle cx="685.48" cy="586.65" r="3.7" fill="#1a1a1a"/>
<circle cx="686.84" cy="587.48" r="3.7" fill="#1a1a1a"/>
<circle cx="688.19" cy="585.1" r="3.7" fill="#1a1a1a"/>
<circle cx="689.55" cy="586.08" r="3.7" fill="#1a1a1a"/>
<circle cx="690.9" cy="585.93" r="3.7" fill="#1a1a1a"/>
<circle cx="692.25" cy="586.02" r="3.7" fill="#1a1a1a"/>
<circle cx="693.61" cy="585.92" r="3.7" fill="#1a1a1a"/>
<circle cx="694.96" cy="586.62" r="3.7" fill="#1a1a1a"/>
<circle cx="696.31" cy="588.28" r="3.7" fill="#1a1a1a"/>
<circle cx="697.67" cy="585.77" r="3.7" fill="#1a1a1a"/>
<circle cx="699.02" cy="586.01" r="3.7" fill="#1a1a1a"/>
<circle cx="700.37" cy="586.89" r="3.7" fill="#1a1a1a"/>
<circle cx="701.73" cy="586.87" r="3.7" fill="#1a1a1a"/>
<circle cx="703.08" cy="586.54" r="3.7" fill="#1a1a1a"/>
<circle cx="704.44" cy="588.55" r="3.7" fill="#1a1a1a"/>
<circle cx="705.79" cy="586.45" r="3.7" fill="#1a1a1a"/>
<circle cx="707.14" cy="588.1" r="3.7" fill="#1a1a1a"/>
<circle cx="708.5" cy="588.76" r="3.7" fill="#1a1a1a"/>
<circle cx="709.85" cy="588.22" r="3.7" fill="#1a1a1a"/>
<circle cx="711.2" cy="586.79" r="3.7" fill="#1a1a1a"/>
<circle cx="712.56" cy="588.57" r="3.7" fill="#1a1a1a"/>
<circle cx="713.91" cy="587.65" r="3.7" fill="#1a1a1a"/>
<circle cx="715.26" cy="587.69" r="3.7" fill="#1a1a1a"/>
<circle cx="716.62" cy="590.08" r="3.7" fill="#1a1a1a"/>
<circle cx="717.97" cy="588.27" r="3.7" fill="#1a1a1a"/>
<circle cx="719.32" cy="585.78" r="3.7" fill="#1a1a1a"/>
<circle cx="720.68" cy="582.95" r="3.7" fill="#1a1a1a"/>
<circle cx="722.03" cy="584.71" r="3.7" fill="#1a1a1a"/>
<circle cx="723.39" cy="587.23" r="3.7" fill="#1a1a1a"/>
<circle cx="724.74" cy="589.18" r="3.7" fill="#1a1a1a"/>
<circle cx="726.09" cy="590.01" r="3.7" fill="#1a1a1a"/>
<circle cx="727.45" cy="588.76" r="3.7" fill="#1a1a1a"/>
<circle cx="728.8" cy="587.4" r="3.7" fill="#1a1a1a"/>
<circle cx="53.15" cy="588" r="0.9" fill="#b0b0b0"/>
<circle cx="55.86" cy="583.27" r="0.9" fill="#b0b0b0"/>
<circle cx="58.57" cy="579.98" r="0.9" fill="#b0b0b0"/>
<circle cx="61.28" cy="580.86" r="0.9" fill="#b0b0b0"/>
<circle cx="63.98" cy="583.23" r="0.9" fill="#b0b0b0"/>
<circle cx="66.69" cy="583.1" r="0.9" fill="#b0b0b0"/>
<circle cx="69.4" cy="581.92" r="0.9" fill="#b0b0b0"/>
<circle cx="72.1" cy="582.87" r="0.9" fill="#b0b0b0"/>
<circle cx="74.81" cy="581.21" r="0.9" fill="#b0b0b0"/>
<circle cx="77.52" cy="581.34" r="0.9" fill="#b0b0b0"/>
<circle cx="80.23" cy="580.02" r="0.9" fill="#b0b0b0"/>
<circle cx="82.93" cy="580.38" r="0.9" fill="#b0b0b0"/>
<circle cx="85.64" cy="582.67" r="0.9" fill="#b0b0b0"/>
<circle cx="88.35" cy="582.11" r="0.9" fill="#b0b0b0"/>
<circle cx="91.05" cy="582.5" r="0.9" fill="#b0b0b0"/>
<circle cx="93.76" cy="580.99" r="0.9" fill="#b0b0b0"/>
<circle cx="96.47" cy="581.26" r="0.9" fill="#b0b0b0"/>
<circle cx="99.18" cy="582.82" r="0.9" fill="#b0b0b0"/>
<circle cx="101.88" cy="580.77" r="0.9" fill="#b0b0b0"/>
<circle cx="104.59" cy="581.94" r="0.9" fill="#b0b0b0"/>
<circle cx="107.3" cy="581.52" r="0.9" fill="#b0b0b0"/>
<circle cx="110" cy="580.51" r="0.9" fill="#b0b0b0"/>
<circle cx="112.71" cy="582.41" r="0.9" fill="#b0b0b0"/>
<circle cx="115.42" cy="581.59" r="0.9" fill="#b0b0b0"/>
<circle cx="118.13" cy="581.03" r="0.9" fill="#b0b0b0"/>
<circle cx="120.83" cy="580.32" r="0.9" fill="#b0b0b0"/>
<circle cx="123.54" cy="582.25" r="0.9" fill="#b0b0b0"/>
<circle cx="126.25" cy="583.22" r="0.9" fill="#b0b0b0"/>
<circle cx="128.96" cy="583.68" r="0.9" fill="#b0b0b0"/>
<circle cx="131.66" cy="581.42" r="0.9" fill="#b0b0b0"/>
<circle cx="134.37" cy="581.17" r="0.9" fill="#b0b0b0"/>
<circle cx="137.08" cy="581.85" r="0.9" fill="#b0b0b0"/>
<circle cx="139.78" cy="582.33" r="0.9" fill="#b0b0b0"/>
<circle cx="142.49" cy="581.59" r="0.9" fill="#b0b0b0"/>
<circle cx="145.2" cy="582.88" r="0.9" fill="#b0b0b0"/>
<circle cx="147.91" cy="584.33" r="0.9" fill="#b0b0b0"/>
<circle cx="150.61" cy="582.52" r="0.9" fill="#b0b0b0"/>
<circle cx="153.32" cy="582.05" r="0.9" fill="#b0b0b0"/>
<circle cx="156.03" cy="583.57" r="0.9" fill="#b0b0b0"/>
<circle cx="158.73" cy="584.86" r="0.9" fill="#b0b0b0"/>
<circle cx="161.44" cy="584.44" r="0.9" fill="#b0b0b0"/>
<circle cx="164.15" cy="584.8" r="0.9" fill="#b0b0b0"/>
<circle cx="166.86" cy="584.58" r="0.9" fill="#b0b0b0"/>
<circle cx="169.56" cy="583.74" r="0.9" fill="#b0b0b0"/>
<circle cx="172.27" cy="584.76" r="0.9" fill="#b0b0b0"/>
<circle cx="174.98" cy="583.24" r="0.9" fill="#b0b0b0"/>
<circle cx="177.68" cy="582.37" r="0.9" fill="#b0b0b0"/>
<circle cx="180.39" cy="584.14" r="0.9" fill="#b0b0b0"/>
<circle cx="183.1" cy="583.89" r="0.9" fill="#b0b0b0"/>
<circle cx="185.81" cy="581.95" r="0.9" fill="#b0b0b0"/>
<circle cx="188.51" cy="584.5" r="0.9" fill="#b0b0b0"/>
<circle cx="191.22" cy="584.32" r="0.9" fill="#b0b0b0"/>
<circle cx="193.93" cy="583.17" r="0.9" fill="#b0b0b0"/>
<circle cx="196.64" cy="585.08" r="0.9" fill="#b0b0b0"/>
<circle cx="199.34" cy="583.9" r="0.9" fill="#b0b0b0"/>
<circle cx="202.05" cy="582.01" r="0.9" fill="#b0b0b0"/>
<circle cx="204.76" cy="583.45" r="0.9" fill="#b0b0b0"/>
<circle cx="207.46" cy="582.93" r="0.9" fill="#b0b0b0"/>
<circle cx="210.17" cy="582.21" r="0.9" fill="#b0b0b0"/>
<circle cx="212.88" cy="582.3" r="0.9" fill="#b0b0b0"/>
<circle cx="215.59" cy="583.88" r="0.9" fill="#b0b0b0"/>
<circle cx="218.29" cy="584.83" r="0.9" fill="#b0b0b0"/>
<circle cx="221" cy="584.97" r="0.9" fill="#b0b0b0"/>
<circle cx="223.71" cy="584.5" r="0.9" fill="#b0b0b0"/>
<circle cx="226.41" cy="584.09" r="0.9" fill="#b0b0b0"/>
<circle cx="229.12" cy="585.2" r="0.9" fill="#b0b0b0"/>
<circle cx="231.83" cy="584.88" r="0.9" fill="#b0b0b0"/>
<circle cx="234.54" cy="585.14" r="0.9" fill="#b0b0b0"/>
<circle cx="237.24" cy="583.23" r="0.9" fill="#b0b0b0"/>
<circle cx="239.95" cy="584.41" r="0.9" fill="#b0b0b0"/>
<circle cx="242.66" cy="584.06" r="0.9" fill="#b0b0b0"/>
<circle cx="245.36" cy="582.49" r="0.9" fill="#b0b0b0"/>
<circle cx="248.07" cy="583.74" r="0.9" fill="#b0b0b0"/>
<circle cx="250.78" cy="584.99" r="0.9" fill="#b0b0b0"/>
<circle cx="253.49" cy="584.16" r="0.9" fill="#b0b0b0"/>
<circle cx="256.19" cy="582.59" r="0.9" fill="#b0b0b0"/>
<circle cx="258.9" cy="585.22" r="0.9" fill="#b0b0b0"/>
<circle cx="261.61" cy="583.58" r="0.9" fill="#b0b0b0"/>
<circle cx="264.32" cy="583.54" r="0.9" fill="#b0b0b0"/>
<circle cx="267.02" cy="583.6" r="0.9" fill="#b0b0b0"/>
<circle cx="269.73" cy="582.52" r="0.9" fill="#b0b0b0"/>
<circle cx="272.44" cy="584.49" r="0.9" fill="#b0b0b0"/>
<circle cx="275.14" cy="584.8" r="0.9" fill="#b0b0b0"/>
<circle cx="277.85" cy="583.62" r="0.9" fill="#b0b0b0"/>
<circle cx="280.56" cy="584.29" r="0.9" fill="#b0b0b0"/>
<circle cx="283.27" cy="582.73" r="0.9" fill="#b0b0b0"/>
<circle cx="285.97" cy="582.6" r="0.9" fill="#b0b0b0"/>
<circle cx="288.68" cy="582.73" r="0.9" fill="#b0b0b0"/>
<circle cx="291.39" cy="584.69" r="0.9" fill="#b0b0b0"/>
<circle cx="294.09" cy="584.31" r="0.9" fill="#b0b0b0"/>
<circle cx="296.8" cy="585.41" r="0.9" fill="#b0b0b0"/>
<circle cx="299.51" cy="584.7" r="0.9" fill="#b0b0b0"/>
<circle cx="302.22" cy="582.47" r="0.9" fill="#b0b0b0"/>
<circle cx="304.92" cy="582.57" r="0.9" fill="#b0b0b0"/>
<circle cx="307.63" cy="582.55" r="0.9" fill="#b0b0b0"/>
<circle cx="310.34" cy="584.98" r="0.9" fill="#b0b0b0"/>
<circle cx="313.04" cy="585.1" r="0.9" fill="#b0b0b0"/>
<circle cx="315.75" cy="583.75" r="0.9" fill="#b0b0b0"/>
<circle cx="318.46" cy="583.08" r="0.9" fill="#b0b0b0"/>
<circle cx="321.17" cy="583.73" r="0.9" fill="#b0b0b0"/>
<circle cx="323.87" cy="585.62" r="0.9" fill="#b0b0b0"/>
<circle cx="326.58" cy="582.97" r="0.9" fill="#b0b0b0"/>
<circle cx="329.29" cy="583.53" r="0.9" fill="#b0b0b0"/>
<circle cx="332" cy="585.43" r="0.9" fill="#b0b0b0"/>
<circle cx="334.7" cy="584.97" r="0.9" fill="#b0b0b0"/>
<circle cx="337.41" cy="582.92" r="0.9" fill="#b0b0b0"/>
<circle cx="340.12" cy="584.82" r="0.9" fill="#b0b0b0"/>
<circle cx="342.82" cy="583.8" r="0.9" fill="#b0b0b0"/>
<circle cx="345.53" cy="585.79" r="0.9" fill="#b0b0b0"/>
<circle cx="348.24" cy="583.3" r="0.9" fill="#b0b0b0"/>
<circle cx="350.95" cy="585.81" r="0.9" fill="#b0b0b0"/>
<circle cx="353.65" cy="583.13" r="0.9" fill="#b0b0b0"/>
<circle cx="356.36" cy="585.22" r="0.9" fill="#b0b0b0"/>
<circle cx="359.07" cy="585.97" r="0.9" fill="#b0b0b0"/>
<circle cx="361.77" cy="583.27" r="0.9" fill="#b0b0b0"/>
<circle cx="364.48" cy="584.76" r="0.9" fill="#b0b0b0"/>
<circle cx="367.19" cy="585.1" r="0.9" fill="#b0b0b0"/>
<circle cx="369.9" cy="583.86" r="0.9" fill="#b0b0b0"/>
<circle cx="372.6" cy="585.77" r="0.9" fill="#b0b0b0"/>
<circle cx="375.31" cy="585.85" r="0.9" fill="#b0b0b0"/>
<circle cx="378.02" cy="585.82" r="0.9" fill="#b0b0b0"/>
<circle cx="380.72" cy="586.28" r="0.9" fill="#b0b0b0"/>
<circle cx="383.43" cy="585.59" r="0.9" fill="#b0b0b0"/>
<circle cx="386.14" cy="584.89" r="0.9" fill="#b0b0b0"/>
<circle cx="388.85" cy="585.45" r="0.9" fill="#b0b0b0"/>
<circle cx="391.55" cy="585.23" r="0.9" fill="#b0b0b0"/>
<circle cx="394.26" cy="585.2" r="0.9" fill="#b0b0b0"/>
<circle cx="396.97" cy="585.51" r="0.9" fill="#b0b0b0"/>
<circle cx="399.68" cy="586.97" r="0.9" fill="#b0b0b0"/>
<circle cx="402.38" cy="586.46" r="0.9" fill="#b0b0b0"/>
<circle cx="405.09" cy="584.7" r="0.9" fill="#b0b0b0"/>
<circle cx="407.8" cy="586.03" r="0.9" fill="#b0b0b0"/>
<circle cx="410.5" cy="585.33" r="0.9" fill="#b0b0b0"/>
<circle cx="413.21" cy="586.83" r="0.9" fill="#b0b0b0"/>
<circle cx="415.92" cy="586.4" r="0.9" fill="#b0b0b0"/>
<circle cx="418.63" cy="584.74" r="0.9" fill="#b0b0b0"/>
<circle cx="421.33" cy="585.46" r="0.9" fill="#b0b0b0"/>
<circle cx="424.04" cy="584.36" r="0.9" fill="#b0b0b0"/>
<circle cx="426.75" cy="585.37" r="0.9" fill="#b0b0b0"/>
<circle cx="429.45" cy="585.74" r="0.9" fill="#b0b0b0"/>
<circle cx="432.16" cy="584.59" r="0.9" fill="#b0b0b0"/>
<circle cx="434.87" cy="581.8" r="0.9" fill="#b0b0b0"/>
<circle cx="437.58" cy="583.79" r="0.9" fill="#b0b0b0"/>
<circle cx="440.28" cy="584.36" r="0.9" fill="#b0b0b0"/>
<circle cx="442.99" cy="585.6" r="0.9" fill="#b0b0b0"/>
<circle cx="445.7" cy="584.69" r="0.9" fill="#b0b0b0"/>
<circle cx="448.4" cy="587.03" r="0.9" fill="#b0b0b0"/>
<circle cx="451.11" cy="587.19" r="0.9" fill="#b0b0b0"/>
<circle cx="453.82" cy="587.19" r="0.9" fill="#b0b0b0"/>
<circle cx="456.53" cy="584.87" r="0.9" fill="#b0b0b0"/>
<circle cx="459.23" cy="586.92" r="0.9" fill="#b0b0b0"/>
<circle cx="461.94" cy="585.27" r="0.9" fill="#b0b0b0"/>
<circle cx="464.65" cy="584.55" r="0.9" fill="#b0b0b0"/>
<circle cx="467.36" cy="586.71" r="0.9" fill="#b0b0b0"/>
<circle cx="470.06" cy="586.13" r="0.9" fill="#b0b0b0"/>
<circle cx="472.77" cy="584.2" r="0.9" fill="#b0b0b0"/>
<circle cx="475.48" cy="586.9" r="0.9" fill="#b0b0b0"/>
<circle cx="478.18" cy="585.75" r="0.9" fill="#b0b0b0"/>
<circle cx="480.89" cy="586.79" r="0.9" fill="#b0b0b0"/>
<circle cx="483.6" cy="585.07" r="0.9" fill="#b0b0b0"/>
<circle cx="486.31" cy="585.62" r="0.9" fill="#b0b0b0"/>
<circle cx="489.01" cy="587.37" r="0.9" fill="#b0b0b0"/>
<circle cx="491.72" cy="585.39" r="0.9" fill="#b0b0b0"/>
<circle cx="494.43" cy="587.22" r="0.9" fill="#b0b0b0"/>
<circle cx="497.13" cy="584.86" r="0.9" fill="#b0b0b0"/>
<circle cx="499.84" cy="587.08" r="0.9" fill="#b0b0b0"/>
<circle cx="502.55" cy="587.3" r="0.9" fill="#b0b0b0"/>
<circle cx="505.26" cy="586.54" r="0.9" fill="#b0b0b0"/>
<circle cx="507.96" cy="586.05" r="0.9" fill="#b0b0b0"/>
<circle cx="510.67" cy="584.76" r="0.9" fill="#b0b0b0"/>
<circle cx="513.38" cy="586.94" r="0.9" fill="#b0b0b0"/>
<circle cx="516.08" cy="585.57" r="0.9" fill="#b0b0b0"/>
<circle cx="518.79" cy="587.13" r="0.9" fill="#b0b0b0"/>
<circle cx="521.5" cy="585.18" r="0.9" fill="#b0b0b0"/>
<circle cx="524.21" cy="587.19" r="0.9" fill="#b0b0b0"/>
<circle cx="526.91" cy="585.36" r="0.9" fill="#b0b0b0"/>
<circle cx="529.62" cy="587.15" r="0.9" fill="#b0b0b0"/>
<circle cx="532.33" cy="587.21" r="0.9" fill="#b0b0b0"/>
<circle cx="535.04" cy="585.95" r="0.9" fill="#b0b0b0"/>
<circle cx="537.74" cy="585.62" r="0.9" fill="#b0b0b0"/>
<circle cx="540.45" cy="586.55" r="0.9" fill="#b0b0b0"/>
<circle cx="543.16" cy="585.71" r="0.9" fill="#b0b0b0"/>
<circle cx="545.86" cy="587.07" r="0.9" fill="#b0b0b0"/>
<circle cx="548.57" cy="587.26" r="0.9" fill="#b0b0b0"/>
<circle cx="551.28" cy="586.41" r="0.9" fill="#b0b0b0"/>
<circle cx="553.99" cy="584.95" r="0.9" fill="#b0b0b0"/>
<circle cx="556.69" cy="585.8" r="0.9" fill="#b0b0b0"/>
<circle cx="559.4" cy="586.29" r="0.9" fill="#b0b0b0"/>
<circle cx="562.11" cy="586.61" r="0.9" fill="#b0b0b0"/>
<circle cx="564.81" cy="585.04" r="0.9" fill="#b0b0b0"/>
<circle cx="567.52" cy="586.81" r="0.9" fill="#b0b0b0"/>
<circle cx="570.23" cy="584.38" r="0.9" fill="#b0b0b0"/>
<circle cx="572.94" cy="584.76" r="0.9" fill="#b0b0b0"/>
<circle cx="575.64" cy="585.81" r="0.9" fill="#b0b0b0"/>
<circle cx="578.35" cy="586.14" r="0.9" fill="#b0b0b0"/>
<circle cx="581.06" cy="585.19" r="0.9" fill="#b0b0b0"/>
<circle cx="583.76" cy="586.31" r="0.9" fill="#b0b0b0"/>
<circle cx="586.47" cy="585.12" r="0.9" fill="#b0b0b0"/>
<circle cx="589.18" cy="586.11" r="0.9" fill="#b0b0b0"/>
<circle cx="591.89" cy="587.25" r="0.9" fill="#b0b0b0"/>
<circle cx="594.59" cy="587.19" r="0.9" fill="#b0b0b0"/>
<circle cx="597.3" cy="586.57" r="0.9" fill="#b0b0b0"/>
<circle cx="600.01" cy="587.12" r="0.9" fill="#b0b0b0"/>
<circle cx="602.72" cy="584.55" r="0.9" fill="#b0b0b0"/>
<circle cx="605.42" cy="586.45" r="0.9" fill="#b0b0b0"/>
<circle cx="608.13" cy="586.41" r="0.9" fill="#b0b0b0"/>
<circle cx="610.84" cy="586.84" r="0.9" fill="#b0b0b0"/>
<circle cx="613.54" cy="586.48" r="0.9" fill="#b0b0b0"/>
<circle cx="616.25" cy="584.16" r="0.9" fill="#b0b0b0"/>
<circle cx="618.96" cy="586.52" r="0.9" fill="#b0b0b0"/>
<circle cx="621.67" cy="586.29" r="0.9" fill="#b0b0b0"/>
<circle cx="624.37" cy="587.29" r="0.9" fill="#b0b0b0"/>
<circle cx="627.08" cy="585.73" r="0.9" fill="#b0b0b0"/>
<circle cx="629.79" cy="586.61" r="0.9" fill="#b0b0b0"/>
<circle cx="632.49" cy="587.24" r="0.9" fill="#b0b0b0"/>
<circle cx="635.2" cy="586.95" r="0.9" fill="#b0b0b0"/>
<circle cx="637.91" cy="587.1" r="0.9" fill="#b0b0b0"/>
<circle cx="640.62" cy="586.23" r="0.9" fill="#b0b0b0"/>
<circle cx="643.32" cy="585.3" r="0.9" fill="#b0b0b0"/>
<circle cx="646.03" cy="584.75" r="0.9" fill="#b0b0b0"/>
<circle cx="648.74" cy="584.85" r="0.9" fill="#b0b0b0"/>
<circle cx="651.44" cy="585.91" r="0.9" fill="#b0b0b0"/>
<circle cx="654.15" cy="583.96" r="0.9" fill="#b0b0b0"/>
<circle cx="656.86" cy="584.79" r="0.9" fill="#b0b0b0"/>
<circle cx="659.57" cy="587" r="0.9" fill="#b0b0b0"/>
<circle cx="662.27" cy="584.22" r="0.9" fill="#b0b0b0"/>
<circle cx="664.98" cy="584.73" r="0.9" fill="#b0b0b0"/>
<circle cx="667.69" cy="586.65" r="0.9" fill="#b0b0b0"/>
<circle cx="670.4" cy="585.45" r="0.9" fill="#b0b0b0"/>
<circle cx="673.1" cy="584.46" r="0.9" fill="#b0b0b0"/>
<circle cx="675.81" cy="585.17" r="0.9" fill="#b0b0b0"/>
<circle cx="678.52" cy="584.83" r="0.9" fill="#b0b0b0"/>
<circle cx="681.22" cy="586.3" r="0.9" fill="#b0b0b0"/>
<circle cx="683.93" cy="586.6" r="0.9" fill="#b0b0b0"/>
<circle cx="686.64" cy="586.68" r="0.9" fill="#b0b0b0"/>
<circle cx="689.35" cy="585.28" r="0.9" fill="#b0b0b0"/>
<circle cx="692.05" cy="585.22" r="0.9" fill="#b0b0b0"/>
<circle cx="694.76" cy="585.82" r="0.9" fill="#b0b0b0"/>
<circle cx="697.47" cy="584.97" r="0.9" fill="#b0b0b0"/>
<circle cx="700.17" cy="586.09" r="0.9" fill="#b0b0b0"/>
<circle cx="702.88" cy="585.74" r="0.9" fill="#b0b0b0"/>
<circle cx="705.59" cy="585.65" r="0.9" fill="#b0b0b0"/>
<circle cx="708.3" cy="587.96" r="0.9" fill="#b0b0b0"/>
<circle cx="711" cy="585.99" r="0.9" fill="#b0b0b0"/>
<circle cx="713.71" cy="586.85" r="0.9" fill="#b0b0b0"/>
<circle cx="716.42" cy="589.28" r="0.9" fill="#b0b0b0"/>
<circle cx="719.12" cy="584.98" r="0.9" fill="#b0b0b0"/>
<circle cx="721.83" cy="583.91" r="0.9" fill="#b0b0b0"/>
<circle cx="724.54" cy="588.38" r="0.9" fill="#b0b0b0"/>
<circle cx="727.25" cy="587.96" r="0.9" fill="#b0b0b0"/>
<path d="M53.35 648.01L54.71 666.98L56.06 659.91L57.41 663.2L58.77 664.52L60.12 664.58L61.48 666.52L62.83 667.66L64.18 668.51L65.54 668.76L66.89 669.69L68.24 670.69L69.6 671.83L70.95 671.89L72.3 672.44L73.66 673.44L75.01 675.43L76.36 675.41L77.72 678.01L79.07 677.87L80.43 678.13L81.78 679.96L83.13 679.36L84.49 678.91L85.84 678.84L87.19 679.95L88.55 680.47L89.9 680.78L91.25 679.73L92.61 681.3L93.96 680.91L95.32 681.96L96.67 681.54L98.02 681.04L99.38 682.76L100.73 681.8L102.08 682.62L103.44 682.21L104.79 682.8L106.14 683.99L107.5 683.15L108.85 684.24L110.2 685.41L111.56 685.8L112.91 685.27L114.27 685.7L115.62 686.31L116.97 686.95L118.33 686.94L119.68 687.34L121.03 686.69L122.39 688.43L123.74 687.34L125.09 687.42L126.45 688.95L127.8 687.75L129.16 688.37L130.51 688.28L131.86 689.61L133.22 689.54L134.57 689.42L135.92 688.26L137.28 688.9L138.63 689.23L139.98 689.02L141.34 689.21L142.69 689.53L144.04 689.36L145.4 687.96L146.75 688.86L148.11 687.51L149.46 688.16L150.81 687.55L152.17 686.52L153.52 686.52L154.87 685.6L156.23 683.98L157.58 683.53L158.93 683.07L160.29 682.93L161.64 682.43L163 682.38L164.35 683.08L165.7 682.77L167.06 683.97L168.41 682.75L169.76 683.25L171.12 682.71L172.47 682.91L173.82 683.55L175.18 683.97L176.53 682.4L177.88 683.83L179.24 683.35L180.59 683.81L181.95 684.13L183.3 683.57L184.65 683.38L186.01 684.89L187.36 684.41L188.71 685.28L190.07 685.05L191.42 685.57L192.77 686.21L194.13 686.45L195.48 686.6L196.84 685.53L198.19 685.97L199.54 686.17L200.9 684.65L202.25 684.19L203.6 684.87L204.96 685.13L206.31 684.74L207.66 684.63L209.02 683.88L210.37 684.04L211.72 683.48L213.08 683.15L214.43 682.29L215.79 681.51L217.14 681.63L218.49 682.1L219.85 681.97L221.2 681.64L222.55 681.77L223.91 681.71L225.26 682.07L226.61 681.56L227.97 680.19L229.32 681.57L230.68 680.76L232.03 680.41L233.38 679.86L234.74 680.88L236.09 680.65L237.44 680.78L238.8 680.7L240.15 680.8L241.5 680.07L242.86 680.44L244.21 680.58L245.56 682.28L246.92 682.45L248.27 681.42L249.63 681.27L250.98 682.21L252.33 682.1L253.69 683.12L255.04 682.39L256.39 681.4L257.75 681.55L259.1 681.47L260.45 681.23L261.81 682.49L263.16 682.71L264.52 682.6L265.87 681.91L267.22 681.59L268.58 681.1L269.93 681.46L271.28 681.56L272.64 681.32L273.99 681.84L275.34 681.64L276.7 682.42L278.05 680.8L279.4 681.48L280.76 679.96L282.11 680.15L283.47 680.47L284.82 680.49L286.17 679.97L287.53 678.99L288.88 678.58L290.23 679.41L291.59 679.6L292.94 678.9L294.29 678.91L295.65 679.37L297 679.77L298.36 679.21L299.71 680.37L301.06 679.96L302.42 679.79L303.77 679.01L305.12 679.68L306.48 679.37L307.83 680.21L309.18 680.59L310.54 680.41L311.89 678.98L313.24 679.29L314.6 679.84L315.95 680.2L317.31 679.19L318.66 678.73L320.01 679.03L321.37 679.16L322.72 678.28L324.07 677.66L325.43 678.75L326.78 678.95L328.13 678.25L329.49 677.95L330.84 677.33L332.2 678.04L333.55 676.81L334.9 676.76L336.26 677.1L337.61 677.71L338.96 676.42L340.32 677.68L341.67 676.85L343.02 677.98L344.38 678.08L345.73 677.19L347.08 678.1L348.44 677.01L349.79 677.9L351.15 678.53L352.5 678.22L353.85 677.63L355.21 676.94L356.56 676.18L357.91 677.37L359.27 676.68L360.62 676.76L361.97 675.15L363.33 676.39L364.68 676.3L366.04 676.04L367.39 675.2L368.74 674.05L370.1 673.83L371.45 673.85L372.8 673.16L374.16 673.15L375.51 674.11L376.86 674.25L378.22 672.79L379.57 673L380.92 674.16L382.28 672.91L383.63 673.3L384.99 673.19L386.34 673.14L387.69 673.31L389.05 673.49L390.4 672.87L391.75 672.63L393.11 671.43L394.46 672.79L395.81 671.17L397.17 672.43L398.52 672.36L399.88 671.72L401.23 671.91L402.58 672.8L403.94 673.68L405.29 673.11L406.64 673.49L408 672.7L409.35 674.19L410.7 674.08L412.06 673.32L413.41 675.27L414.76 675.05L416.12 674.78L417.47 675.32L418.83 677.07L420.18 677.54L421.53 677.94L422.89 676.86L424.24 678.5L425.59 678.08L426.95 678.27L428.3 679.72L429.65 680.29L431.01 679.11L432.36 678.8L433.72 678.52L435.07 676.79L436.42 678.64L437.78 680.07L439.13 681.92L440.48 681.46L441.84 681.58L443.19 682.5L444.54 682.35L445.9 684.4L447.25 684.44L448.6 684.42L449.96 683.97L451.31 684.38L452.67 685.23L454.02 684.74L455.37 683.68L456.73 682.83L458.08 681.32L459.43 681.92L460.79 680.07L462.14 679.45L463.49 678.57L464.85 677.97L466.2 677.66L467.56 677.55L468.91 676.96L470.26 676.27L471.62 674.91L472.97 675.56L474.32 674.74L475.68 673.14L477.03 673.44L478.38 673.16L479.74 672.82L481.09 672.4L482.44 673.3L483.8 672.64L485.15 673.31L486.51 673.62L487.86 675.42L489.21 676.24L490.57 676.72L491.92 676.5L493.27 676.62L494.63 677.59L495.98 678.47L497.33 678.65L498.69 677.88L500.04 676.78L501.4 675.64L502.75 674.46L504.1 673.78L505.46 674.55L506.81 673.06L508.16 673.84L509.52 673.15L510.87 673.3L512.22 672.45L513.58 673.21L514.93 672.93L516.28 672.73L517.64 672.69L518.99 671.19L520.35 671.54L521.7 671.79L523.05 671.46L524.41 670.2L525.76 670.87L527.11 671.16L528.47 669.93L529.82 670.01L531.17 669.22L532.53 670.65L533.88 669.82L535.24 669.04L536.59 668.85L537.94 668.55L539.3 669.95L540.65 669.34L542 669.49L543.36 669.2L544.71 667.64L546.06 668.18L547.42 667.4L548.77 668.23L550.12 667.54L551.48 668.52L552.83 669.09L554.19 668.4L555.54 668.33L556.89 670.07L558.25 669.42L559.6 669.61L560.95 670.57L562.31 670.53L563.66 671.17L565.01 671.29L566.37 671.43L567.72 671.05L569.08 671.19L570.43 672.14L571.78 671.95L573.14 670.85L574.49 669.68L575.84 670.02L577.2 669.26L578.55 668.92L579.9 667.32L581.26 667.22L582.61 667.55L583.96 666.94L585.32 665.88L586.67 665.38L588.03 665.08L589.38 665.91L590.73 665.64L592.09 664.54L593.44 664.91L594.79 664.99L596.15 664.8L597.5 663.5L598.85 664.5L600.21 663.9L601.56 664.13L602.92 663.88L604.27 662.94L605.62 662.56L606.98 663.54L608.33 663.7L609.68 662.6L611.04 663.39L612.39 663.6L613.74 661.86L615.1 662.57L616.45 661.71L617.8 662.31L619.16 661.31L620.51 661.92L621.87 662.31L623.22 662.43L624.57 661.32L625.93 661.02L627.28 660.4L628.63 661.69L629.99 660.45L631.34 660.61L632.69 660.09L634.05 660.44L635.4 659.91L636.76 659.2L638.11 658.19L639.46 659.36L640.82 658.39L642.17 657.54L643.52 656.97L644.88 658.05L646.23 657.89L647.58 656.15L648.94 655.8L650.29 656.4L651.64 656.88L653 655.05L654.35 655.89L655.71 654.85L657.06 655.23L658.41 654.75L659.77 655.81L661.12 654.58L662.47 655.46L663.83 655.02L665.18 654.11L666.53 654.02L667.89 655.05L669.24 654.87L670.6 654.42L671.95 654.09L673.3 654.21L674.66 654.56L676.01 654.22L677.36 653.24L678.72 652.81L680.07 654.22L681.42 652.91L682.78 652.08L684.13 652.87L685.48 650.96L686.84 651.75L688.19 650.41L689.55 650.01L690.9 649.38L692.25 649.47L693.61 648.77L694.96 647.99L696.31 648.07L697.67 647.73L699.02 648.19L700.37 648.28L701.73 649.1L703.08 648.12L704.44 648.43L705.79 648.96L707.14 648.09L708.5 648.14L709.85 648.8L711.2 649.47L712.56 650.03L713.91 651.77L715.26 652.82L716.62 653.37L717.97 655.06L719.32 655.21L720.68 655.54L722.03 656.84L723.39 656.24L724.74 657.69L726.09 656.98L727.45 657.36L728.8 658.03" fill="none" stroke="#e8712c" stroke-width="1.2" stroke-linejoin="round" stroke-linecap="round" />
<circle cx="53.35" cy="648.01" r="3.3" fill="#e8712c"/>
<circle cx="54.71" cy="666.98" r="3.3" fill="#e8712c"/>
<circle cx="56.06" cy="659.91" r="3.3" fill="#e8712c"/>
<circle cx="57.41" cy="663.2" r="3.3" fill="#e8712c"/>
<circle cx="58.77" cy="664.52" r="3.3" fill="#e8712c"/>
<circle cx="60.12" cy="664.58" r="3.3" fill="#e8712c"/>
<circle cx="61.48" cy="666.52" r="3.3" fill="#e8712c"/>
<circle cx="62.83" cy="667.66" r="3.3" fill="#e8712c"/>
<circle cx="64.18" cy="668.51" r="3.3" fill="#e8712c"/>
<circle cx="65.54" cy="668.76" r="3.3" fill="#e8712c"/>
<circle cx="66.89" cy="669.69" r="3.3" fill="#e8712c"/>
<circle cx="68.24" cy="670.69" r="3.3" fill="#e8712c"/>
<circle cx="69.6" cy="671.83" r="3.3" fill="#e8712c"/>
<circle cx="70.95" cy="671.89" r="3.3" fill="#e8712c"/>
<circle cx="72.3" cy="672.44" r="3.3" fill="#e8712c"/>
<circle cx="73.66" cy="673.44" r="3.3" fill="#e8712c"/>
<circle cx="75.01" cy="675.43" r="3.3" fill="#e8712c"/>
<circle cx="76.36" cy="675.41" r="3.3" fill="#e8712c"/>
<circle cx="77.72" cy="678.01" r="3.3" fill="#e8712c"/>
<circle cx="79.07" cy="677.87" r="3.3" fill="#e8712c"/>
<circle cx="80.43" cy="678.13" r="3.3" fill="#e8712c"/>
<circle cx="81.78" cy="679.96" r="3.3" fill="#e8712c"/>
<circle cx="83.13" cy="679.36" r="3.3" fill="#e8712c"/>
<circle cx="84.49" cy="678.91" r="3.3" fill="#e8712c"/>
<circle cx="85.84" cy="678.84" r="3.3" fill="#e8712c"/>
<circle cx="87.19" cy="679.95" r="3.3" fill="#e8712c"/>
<circle cx="88.55" cy="680.47" r="3.3" fill="#e8712c"/>
<circle cx="89.9" cy="680.78" r="3.3" fill="#e8712c"/>
<circle cx="91.25" cy="679.73" r="3.3" fill="#e8712c"/>
<circle cx="92.61" cy="681.3" r="3.3" fill="#e8712c"/>
<circle cx="93.96" cy="680.91" r="3.3" fill="#e8712c"/>
<circle cx="95.32" cy="681.96" r="3.3" fill="#e8712c"/>
<circle cx="96.67" cy="681.54" r="3.3" fill="#e8712c"/>
<circle cx="98.02" cy="681.04" r="3.3" fill="#e8712c"/>
<circle cx="99.38" cy="682.76" r="3.3" fill="#e8712c"/>
<circle cx="100.73" cy="681.8" r="3.3" fill="#e8712c"/>
<circle cx="102.08" cy="682.62" r="3.3" fill="#e8712c"/>
<circle cx="103.44" cy="682.21" r="3.3" fill="#e8712c"/>
<circle cx="104.79" cy="682.8" r="3.3" fill="#e8712c"/>
<circle cx="106.14" cy="683.99" r="3.3" fill="#e8712c"/>
<circle cx="107.5" cy="683.15" r="3.3" fill="#e8712c"/>
<circle cx="108.85" cy="684.24" r="3.3" fill="#e8712c"/>
<circle cx="110.2" cy="685.41" r="3.3" fill="#e8712c"/>
<circle cx="111.56" cy="685.8" r="3.3" fill="#e8712c"/>
<circle cx="112.91" cy="685.27" r="3.3" fill="#e8712c"/>
<circle cx="114.27" cy="685.7" r="3.3" fill="#e8712c"/>
<circle cx="115.62" cy="686.31" r="3.3" fill="#e8712c"/>
<circle cx="116.97" cy="686.95" r="3.3" fill="#e8712c"/>
<circle cx="118.33" cy="686.94" r="3.3" fill="#e8712c"/>
<circle cx="119.68" cy="687.34" r="3.3" fill="#e8712c"/>
<circle cx="121.03" cy="686.69" r="3.3" fill="#e8712c"/>
<circle cx="122.39" cy="688.43" r="3.3" fill="#e8712c"/>
<circle cx="123.74" cy="687.34" r="3.3" fill="#e8712c"/>
<circle cx="125.09" cy="687.42" r="3.3" fill="#e8712c"/>
<circle cx="126.45" cy="688.95" r="3.3" fill="#e8712c"/>
<circle cx="127.8" cy="687.75" r="3.3" fill="#e8712c"/>
<circle cx="129.16" cy="688.37" r="3.3" fill="#e8712c"/>
<circle cx="130.51" cy="688.28" r="3.3" fill="#e8712c"/>
<circle cx="131.86" cy="689.61" r="3.3" fill="#e8712c"/>
<circle cx="133.22" cy="689.54" r="3.3" fill="#e8712c"/>
<circle cx="134.57" cy="689.42" r="3.3" fill="#e8712c"/>
<circle cx="135.92" cy="688.26" r="3.3" fill="#e8712c"/>
<circle cx="137.28" cy="688.9" r="3.3" fill="#e8712c"/>
<circle cx="138.63" cy="689.23" r="3.3" fill="#e8712c"/>
<circle cx="139.98" cy="689.02" r="3.3" fill="#e8712c"/>
<circle cx="141.34" cy="689.21" r="3.3" fill="#e8712c"/>
<circle cx="142.69" cy="689.53" r="3.3" fill="#e8712c"/>
<circle cx="144.04" cy="689.36" r="3.3" fill="#e8712c"/>
<circle cx="145.4" cy="687.96" r="3.3" fill="#e8712c"/>
<circle cx="146.75" cy="688.86" r="3.3" fill="#e8712c"/>
<circle cx="148.11" cy="687.51" r="3.3" fill="#e8712c"/>
<circle cx="149.46" cy="688.16" r="3.3" fill="#e8712c"/>
<circle cx="150.81" cy="687.55" r="3.3" fill="#e8712c"/>
<circle cx="152.17" cy="686.52" r="3.3" fill="#e8712c"/>
<circle cx="153.52" cy="686.52" r="3.3" fill="#e8712c"/>
<circle cx="154.87" cy="685.6" r="3.3" fill="#e8712c"/>
<circle cx="156.23" cy="683.98" r="3.3" fill="#e8712c"/>
<circle cx="157.58" cy="683.53" r="3.3" fill="#e8712c"/>
<circle cx="158.93" cy="683.07" r="3.3" fill="#e8712c"/>
<circle cx="160.29" cy="682.93" r="3.3" fill="#e8712c"/>
<circle cx="161.64" cy="682.43" r="3.3" fill="#e8712c"/>
<circle cx="163" cy="682.38" r="3.3" fill="#e8712c"/>
<circle cx="164.35" cy="683.08" r="3.3" fill="#e8712c"/>
<circle cx="165.7" cy="682.77" r="3.3" fill="#e8712c"/>
<circle cx="167.06" cy="683.97" r="3.3" fill="#e8712c"/>
<circle cx="168.41" cy="682.75" r="3.3" fill="#e8712c"/>
<circle cx="169.76" cy="683.25" r="3.3" fill="#e8712c"/>
<circle cx="171.12" cy="682.71" r="3.3" fill="#e8712c"/>
<circle cx="172.47" cy="682.91" r="3.3" fill="#e8712c"/>
<circle cx="173.82" cy="683.55" r="3.3" fill="#e8712c"/>
<circle cx="175.18" cy="683.97" r="3.3" fill="#e8712c"/>
<circle cx="176.53" cy="682.4" r="3.3" fill="#e8712c"/>
<circle cx="177.88" cy="683.83" r="3.3" fill="#e8712c"/>
<circle cx="179.24" cy="683.35" r="3.3" fill="#e8712c"/>
<circle cx="180.59" cy="683.81" r="3.3" fill="#e8712c"/>
<circle cx="181.95" cy="684.13" r="3.3" fill="#e8712c"/>
<circle cx="183.3" cy="683.57" r="3.3" fill="#e8712c"/>
<circle cx="184.65" cy="683.38" r="3.3" fill="#e8712c"/>
<circle cx="186.01" cy="684.89" r="3.3" fill="#e8712c"/>
<circle cx="187.36" cy="684.41" r="3.3" fill="#e8712c"/>
<circle cx="188.71" cy="685.28" r="3.3" fill="#e8712c"/>
<circle cx="190.07" cy="685.05" r="3.3" fill="#e8712c"/>
<circle cx="191.42" cy="685.57" r="3.3" fill="#e8712c"/>
<circle cx="192.77" cy="686.21" r="3.3" fill="#e8712c"/>
<circle cx="194.13" cy="686.45" r="3.3" fill="#e8712c"/>
<circle cx="195.48" cy="686.6" r="3.3" fill="#e8712c"/>
<circle cx="196.84" cy="685.53" r="3.3" fill="#e8712c"/>
<circle cx="198.19" cy="685.97" r="3.3" fill="#e8712c"/>
<circle cx="199.54" cy="686.17" r="3.3" fill="#e8712c"/>
<circle cx="200.9" cy="684.65" r="3.3" fill="#e8712c"/>
<circle cx="202.25" cy="684.19" r="3.3" fill="#e8712c"/>
<circle cx="203.6" cy="684.87" r="3.3" fill="#e8712c"/>
<circle cx="204.96" cy="685.13" r="3.3" fill="#e8712c"/>
<circle cx="206.31" cy="684.74" r="3.3" fill="#e8712c"/>
<circle cx="207.66" cy="684.63" r="3.3" fill="#e8712c"/>
<circle cx="209.02" cy="683.88" r="3.3" fill="#e8712c"/>
<circle cx="210.37" cy="684.04" r="3.3" fill="#e8712c"/>
<circle cx="211.72" cy="683.48" r="3.3" fill="#e8712c"/>
<circle cx="213.08" cy="683.15" r="3.3" fill="#e8712c"/>
<circle cx="214.43" cy="682.29" r="3.3" fill="#e8712c"/>
<circle cx="215.79" cy="681.51" r="3.3" fill="#e8712c"/>
<circle cx="217.14" cy="681.63" r="3.3" fill="#e8712c"/>
<circle cx="218.49" cy="682.1" r="3.3" fill="#e8712c"/>
<circle cx="219.85" cy="681.97" r="3.3" fill="#e8712c"/>
<circle cx="221.2" cy="681.64" r="3.3" fill="#e8712c"/>
<circle cx="222.55" cy="681.77" r="3.3" fill="#e8712c"/>
<circle cx="223.91" cy="681.71" r="3.3" fill="#e8712c"/>
<circle cx="225.26" cy="682.07" r="3.3" fill="#e8712c"/>
<circle cx="226.61" cy="681.56" r="3.3" fill="#e8712c"/>
<circle cx="227.97" cy="680.19" r="3.3" fill="#e8712c"/>
<circle cx="229.32" cy="681.57" r="3.3" fill="#e8712c"/>
<circle cx="230.68" cy="680.76" r="3.3" fill="#e8712c"/>
<circle cx="232.03" cy="680.41" r="3.3" fill="#e8712c"/>
<circle cx="233.38" cy="679.86" r="3.3" fill="#e8712c"/>
<circle cx="234.74" cy="680.88" r="3.3" fill="#e8712c"/>
<circle cx="236.09" cy="680.65" r="3.3" fill="#e8712c"/>
<circle cx="237.44" cy="680.78" r="3.3" fill="#e8712c"/>
<circle cx="238.8" cy="680.7" r="3.3" fill="#e8712c"/>
<circle cx="240.15" cy="680.8" r="3.3" fill="#e8712c"/>
<circle cx="241.5" cy="680.07" r="3.3" fill="#e8712c"/>
<circle cx="242.86" cy="680.44" r="3.3" fill="#e8712c"/>
<circle cx="244.21" cy="680.58" r="3.3" fill="#e8712c"/>
<circle cx="245.56" cy="682.28" r="3.3" fill="#e8712c"/>
<circle cx="246.92" cy="682.45" r="3.3" fill="#e8712c"/>
<circle cx="248.27" cy="681.42" r="3.3" fill="#e8712c"/>
<circle cx="249.63" cy="681.27" r="3.3" fill="#e8712c"/>
<circle cx="250.98" cy="682.21" r="3.3" fill="#e8712c"/>
<circle cx="252.33" cy="682.1" r="3.3" fill="#e8712c"/>
<circle cx="253.69" cy="683.12" r="3.3" fill="#e8712c"/>
<circle cx="255.04" cy="682.39" r="3.3" fill="#e8712c"/>
<circle cx="256.39" cy="681.4" r="3.3" fill="#e8712c"/>
<circle cx="257.75" cy="681.55" r="3.3" fill="#e8712c"/>
<circle cx="259.1" cy="681.47" r="3.3" fill="#e8712c"/>
<circle cx="260.45" cy="681.23" r="3.3" fill="#e8712c"/>
<circle cx="261.81" cy="682.49" r="3.3" fill="#e8712c"/>
<circle cx="263.16" cy="682.71" r="3.3" fill="#e8712c"/>
<circle cx="264.52" cy="682.6" r="3.3" fill="#e8712c"/>
<circle cx="265.87" cy="681.91" r="3.3" fill="#e8712c"/>
<circle cx="267.22" cy="681.59" r="3.3" fill="#e8712c"/>
<circle cx="268.58" cy="681.1" r="3.3" fill="#e8712c"/>
<circle cx="269.93" cy="681.46" r="3.3" fill="#e8712c"/>
<circle cx="271.28" cy="681.56" r="3.3" fill="#e8712c"/>
<circle cx="272.64" cy="681.32" r="3.3" fill="#e8712c"/>
<circle cx="273.99" cy="681.84" r="3.3" fill="#e8712c"/>
<circle cx="275.34" cy="681.64" r="3.3" fill="#e8712c"/>
<circle cx="276.7" cy="682.42" r="3.3" fill="#e8712c"/>
<circle cx="278.05" cy="680.8" r="3.3" fill="#e8712c"/>
<circle cx="279.4" cy="681.48" r="3.3" fill="#e8712c"/>
<circle cx="280.76" cy="679.96" r="3.3" fill="#e8712c"/>
<circle cx="282.11" cy="680.15" r="3.3" fill="#e8712c"/>
<circle cx="283.47" cy="680.47" r="3.3" fill="#e8712c"/>
<circle cx="284.82" cy="680.49" r="3.3" fill="#e8712c"/>
<circle cx="286.17" cy="679.97" r="3.3" fill="#e8712c"/>
<circle cx="287.53" cy="678.99" r="3.3" fill="#e8712c"/>
<circle cx="288.88" cy="678.58" r="3.3" fill="#e8712c"/>
<circle cx="290.23" cy="679.41" r="3.3" fill="#e8712c"/>
<circle cx="291.59" cy="679.6" r="3.3" fill="#e8712c"/>
<circle cx="292.94" cy="678.9" r="3.3" fill="#e8712c"/>
<circle cx="294.29" cy="678.91" r="3.3" fill="#e8712c"/>
<circle cx="295.65" cy="679.37" r="3.3" fill="#e8712c"/>
<circle cx="297" cy="679.77" r="3.3" fill="#e8712c"/>
<circle cx="298.36" cy="679.21" r="3.3" fill="#e8712c"/>
<circle cx="299.71" cy="680.37" r="3.3" fill="#e8712c"/>
<circle cx="301.06" cy="679.96" r="3.3" fill="#e8712c"/>
<circle cx="302.42" cy="679.79" r="3.3" fill="#e8712c"/>
<circle cx="303.77" cy="679.01" r="3.3" fill="#e8712c"/>
<circle cx="305.12" cy="679.68" r="3.3" fill="#e8712c"/>
<circle cx="306.48" cy="679.37" r="3.3" fill="#e8712c"/>
<circle cx="307.83" cy="680.21" r="3.3" fill="#e8712c"/>
<circle cx="309.18" cy="680.59" r="3.3" fill="#e8712c"/>
<circle cx="310.54" cy="680.41" r="3.3" fill="#e8712c"/>
<circle cx="311.89" cy="678.98" r="3.3" fill="#e8712c"/>
<circle cx="313.24" cy="679.29" r="3.3" fill="#e8712c"/>
<circle cx="314.6" cy="679.84" r="3.3" fill="#e8712c"/>
<circle cx="315.95" cy="680.2" r="3.3" fill="#e8712c"/>
<circle cx="317.31" cy="679.19" r="3.3" fill="#e8712c"/>
<circle cx="318.66" cy="678.73" r="3.3" fill="#e8712c"/>
<circle cx="320.01" cy="679.03" r="3.3" fill="#e8712c"/>
<circle cx="321.37" cy="679.16" r="3.3" fill="#e8712c"/>
<circle cx="322.72" cy="678.28" r="3.3" fill="#e8712c"/>
<circle cx="324.07" cy="677.66" r="3.3" fill="#e8712c"/>
<circle cx="325.43" cy="678.75" r="3.3" fill="#e8712c"/>
<circle cx="326.78" cy="678.95" r="3.3" fill="#e8712c"/>
<circle cx="328.13" cy="678.25" r="3.3" fill="#e8712c"/>
<circle cx="329.49" cy="677.95" r="3.3" fill="#e8712c"/>
<circle cx="330.84" cy="677.33" r="3.3" fill="#e8712c"/>
<circle cx="332.2" cy="678.04" r="3.3" fill="#e8712c"/>
<circle cx="333.55" cy="676.81" r="3.3" fill="#e8712c"/>
<circle cx="334.9" cy="676.76" r="3.3" fill="#e8712c"/>
<circle cx="336.26" cy="677.1" r="3.3" fill="#e8712c"/>
<circle cx="337.61" cy="677.71" r="3.3" fill="#e8712c"/>
<circle cx="338.96" cy="676.42" r="3.3" fill="#e8712c"/>
<circle cx="340.32" cy="677.68" r="3.3" fill="#e8712c"/>
<circle cx="341.67" cy="676.85" r="3.3" fill="#e8712c"/>
<circle cx="343.02" cy="677.98" r="3.3" fill="#e8712c"/>
<circle cx="344.38" cy="678.08" r="3.3" fill="#e8712c"/>
<circle cx="345.73" cy="677.19" r="3.3" fill="#e8712c"/>
<circle cx="347.08" cy="678.1" r="3.3" fill="#e8712c"/>
<circle cx="348.44" cy="677.01" r="3.3" fill="#e8712c"/>
<circle cx="349.79" cy="677.9" r="3.3" fill="#e8712c"/>
<circle cx="351.15" cy="678.53" r="3.3" fill="#e8712c"/>
<circle cx="352.5" cy="678.22" r="3.3" fill="#e8712c"/>
<circle cx="353.85" cy="677.63" r="3.3" fill="#e8712c"/>
<circle cx="355.21" cy="676.94" r="3.3" fill="#e8712c"/>
<circle cx="356.56" cy="676.18" r="3.3" fill="#e8712c"/>
<circle cx="357.91" cy="677.37" r="3.3" fill="#e8712c"/>
<circle cx="359.27" cy="676.68" r="3.3" fill="#e8712c"/>
<circle cx="360.62" cy="676.76" r="3.3" fill="#e8712c"/>
<circle cx="361.97" cy="675.15" r="3.3" fill="#e8712c"/>
<circle cx="363.33" cy="676.39" r="3.3" fill="#e8712c"/>
<circle cx="364.68" cy="676.3" r="3.3" fill="#e8712c"/>
<circle cx="366.04" cy="676.04" r="3.3" fill="#e8712c"/>
<circle cx="367.39" cy="675.2" r="3.3" fill="#e8712c"/>
<circle cx="368.74" cy="674.05" r="3.3" fill="#e8712c"/>
<circle cx="370.1" cy="673.83" r="3.3" fill="#e8712c"/>
<circle cx="371.45" cy="673.85" r="3.3" fill="#e8712c"/>
<circle cx="372.8" cy="673.16" r="3.3" fill="#e8712c"/>
<circle cx="374.16" cy="673.15" r="3.3" fill="#e8712c"/>
<circle cx="375.51" cy="674.11" r="3.3" fill="#e8712c"/>
<circle cx="376.86" cy="674.25" r="3.3" fill="#e8712c"/>
<circle cx="378.22" cy="672.79" r="3.3" fill="#e8712c"/>
<circle cx="379.57" cy="673" r="3.3" fill="#e8712c"/>
<circle cx="380.92" cy="674.16" r="3.3" fill="#e8712c"/>
<circle cx="382.28" cy="672.91" r="3.3" fill="#e8712c"/>
<circle cx="383.63" cy="673.3" r="3.3" fill="#e8712c"/>
<circle cx="384.99" cy="673.19" r="3.3" fill="#e8712c"/>
<circle cx="386.34" cy="673.14" r="3.3" fill="#e8712c"/>
<circle cx="387.69" cy="673.31" r="3.3" fill="#e8712c"/>
<circle cx="389.05" cy="673.49" r="3.3" fill="#e8712c"/>
<circle cx="390.4" cy="672.87" r="3.3" fill="#e8712c"/>
<circle cx="391.75" cy="672.63" r="3.3" fill="#e8712c"/>
<circle cx="393.11" cy="671.43" r="3.3" fill="#e8712c"/>
<circle cx="394.46" cy="672.79" r="3.3" fill="#e8712c"/>
<circle cx="395.81" cy="671.17" r="3.3" fill="#e8712c"/>
<circle cx="397.17" cy="672.43" r="3.3" fill="#e8712c"/>
<circle cx="398.52" cy="672.36" r="3.3" fill="#e8712c"/>
<circle cx="399.88" cy="671.72" r="3.3" fill="#e8712c"/>
<circle cx="401.23" cy="671.91" r="3.3" fill="#e8712c"/>
<circle cx="402.58" cy="672.8" r="3.3" fill="#e8712c"/>
<circle cx="403.94" cy="673.68" r="3.3" fill="#e8712c"/>
<circle cx="405.29" cy="673.11" r="3.3" fill="#e8712c"/>
<circle cx="406.64" cy="673.49" r="3.3" fill="#e8712c"/>
<circle cx="408" cy="672.7" r="3.3" fill="#e8712c"/>
<circle cx="409.35" cy="674.19" r="3.3" fill="#e8712c"/>
<circle cx="410.7" cy="674.08" r="3.3" fill="#e8712c"/>
<circle cx="412.06" cy="673.32" r="3.3" fill="#e8712c"/>
<circle cx="413.41" cy="675.27" r="3.3" fill="#e8712c"/>
<circle cx="414.76" cy="675.05" r="3.3" fill="#e8712c"/>
<circle cx="416.12" cy="674.78" r="3.3" fill="#e8712c"/>
<circle cx="417.47" cy="675.32" r="3.3" fill="#e8712c"/>
<circle cx="418.83" cy="677.07" r="3.3" fill="#e8712c"/>
<circle cx="420.18" cy="677.54" r="3.3" fill="#e8712c"/>
<circle cx="421.53" cy="677.94" r="3.3" fill="#e8712c"/>
<circle cx="422.89" cy="676.86" r="3.3" fill="#e8712c"/>
<circle cx="424.24" cy="678.5" r="3.3" fill="#e8712c"/>
<circle cx="425.59" cy="678.08" r="3.3" fill="#e8712c"/>
<circle cx="426.95" cy="678.27" r="3.3" fill="#e8712c"/>
<circle cx="428.3" cy="679.72" r="3.3" fill="#e8712c"/>
<circle cx="429.65" cy="680.29" r="3.3" fill="#e8712c"/>
<circle cx="431.01" cy="679.11" r="3.3" fill="#e8712c"/>
<circle cx="432.36" cy="678.8" r="3.3" fill="#e8712c"/>
<circle cx="433.72" cy="678.52" r="3.3" fill="#e8712c"/>
<circle cx="435.07" cy="676.79" r="3.3" fill="#e8712c"/>
<circle cx="436.42" cy="678.64" r="3.3" fill="#e8712c"/>
<circle cx="437.78" cy="680.07" r="3.3" fill="#e8712c"/>
<circle cx="439.13" cy="681.92" r="3.3" fill="#e8712c"/>
<circle cx="440.48" cy="681.46" r="3.3" fill="#e8712c"/>
<circle cx="441.84" cy="681.58" r="3.3" fill="#e8712c"/>
<circle cx="443.19" cy="682.5" r="3.3" fill="#e8712c"/>
<circle cx="444.54" cy="682.35" r="3.3" fill="#e8712c"/>
<circle cx="445.9" cy="684.4" r="3.3" fill="#e8712c"/>
<circle cx="447.25" cy="684.44" r="3.3" fill="#e8712c"/>
<circle cx="448.6" cy="684.42" r="3.3" fill="#e8712c"/>
<circle cx="449.96" cy="683.97" r="3.3" fill="#e8712c"/>
<circle cx="451.31" cy="684.38" r="3.3" fill="#e8712c"/>
<circle cx="452.67" cy="685.23" r="3.3" fill="#e8712c"/>
<circle cx="454.02" cy="684.74" r="3.3" fill="#e8712c"/>
<circle cx="455.37" cy="683.68" r="3.3" fill="#e8712c"/>
<circle cx="456.73" cy="682.83" r="3.3" fill="#e8712c"/>
<circle cx="458.08" cy="681.32" r="3.3" fill="#e8712c"/>
<circle cx="459.43" cy="681.92" r="3.3" fill="#e8712c"/>
<circle cx="460.79" cy="680.07" r="3.3" fill="#e8712c"/>
<circle cx="462.14" cy="679.45" r="3.3" fill="#e8712c"/>
<circle cx="463.49" cy="678.57" r="3.3" fill="#e8712c"/>
<circle cx="464.85" cy="677.97" r="3.3" fill="#e8712c"/>
<circle cx="466.2" cy="677.66" r="3.3" fill="#e8712c"/>
<circle cx="467.56" cy="677.55" r="3.3" fill="#e8712c"/>
<circle cx="468.91" cy="676.96" r="3.3" fill="#e8712c"/>
<circle cx="470.26" cy="676.27" r="3.3" fill="#e8712c"/>
<circle cx="471.62" cy="674.91" r="3.3" fill="#e8712c"/>
<circle cx="472.97" cy="675.56" r="3.3" fill="#e8712c"/>
<circle cx="474.32" cy="674.74" r="3.3" fill="#e8712c"/>
<circle cx="475.68" cy="673.14" r="3.3" fill="#e8712c"/>
<circle cx="477.03" cy="673.44" r="3.3" fill="#e8712c"/>
<circle cx="478.38" cy="673.16" r="3.3" fill="#e8712c"/>
<circle cx="479.74" cy="672.82" r="3.3" fill="#e8712c"/>
<circle cx="481.09" cy="672.4" r="3.3" fill="#e8712c"/>
<circle cx="482.44" cy="673.3" r="3.3" fill="#e8712c"/>
<circle cx="483.8" cy="672.64" r="3.3" fill="#e8712c"/>
<circle cx="485.15" cy="673.31" r="3.3" fill="#e8712c"/>
<circle cx="486.51" cy="673.62" r="3.3" fill="#e8712c"/>
<circle cx="487.86" cy="675.42" r="3.3" fill="#e8712c"/>
<circle cx="489.21" cy="676.24" r="3.3" fill="#e8712c"/>
<circle cx="490.57" cy="676.72" r="3.3" fill="#e8712c"/>
<circle cx="491.92" cy="676.5" r="3.3" fill="#e8712c"/>
<circle cx="493.27" cy="676.62" r="3.3" fill="#e8712c"/>
<circle cx="494.63" cy="677.59" r="3.3" fill="#e8712c"/>
<circle cx="495.98" cy="678.47" r="3.3" fill="#e8712c"/>
<circle cx="497.33" cy="678.65" r="3.3" fill="#e8712c"/>
<circle cx="498.69" cy="677.88" r="3.3" fill="#e8712c"/>
<circle cx="500.04" cy="676.78" r="3.3" fill="#e8712c"/>
<circle cx="501.4" cy="675.64" r="3.3" fill="#e8712c"/>
<circle cx="502.75" cy="674.46" r="3.3" fill="#e8712c"/>
<circle cx="504.1" cy="673.78" r="3.3" fill="#e8712c"/>
<circle cx="505.46" cy="674.55" r="3.3" fill="#e8712c"/>
<circle cx="506.81" cy="673.06" r="3.3" fill="#e8712c"/>
<circle cx="508.16" cy="673.84" r="3.3" fill="#e8712c"/>
<circle cx="509.52" cy="673.15" r="3.3" fill="#e8712c"/>
<circle cx="510.87" cy="673.3" r="3.3" fill="#e8712c"/>
<circle cx="512.22" cy="672.45" r="3.3" fill="#e8712c"/>
<circle cx="513.58" cy="673.21" r="3.3" fill="#e8712c"/>
<circle cx="514.93" cy="672.93" r="3.3" fill="#e8712c"/>
<circle cx="516.28" cy="672.73" r="3.3" fill="#e8712c"/>
<circle cx="517.64" cy="672.69" r="3.3" fill="#e8712c"/>
<circle cx="518.99" cy="671.19" r="3.3" fill="#e8712c"/>
<circle cx="520.35" cy="671.54" r="3.3" fill="#e8712c"/>
<circle cx="521.7" cy="671.79" r="3.3" fill="#e8712c"/>
<circle cx="523.05" cy="671.46" r="3.3" fill="#e8712c"/>
<circle cx="524.41" cy="670.2" r="3.3" fill="#e8712c"/>
<circle cx="525.76" cy="670.87" r="3.3" fill="#e8712c"/>
<circle cx="527.11" cy="671.16" r="3.3" fill="#e8712c"/>
<circle cx="528.47" cy="669.93" r="3.3" fill="#e8712c"/>
<circle cx="529.82" cy="670.01" r="3.3" fill="#e8712c"/>
<circle cx="531.17" cy="669.22" r="3.3" fill="#e8712c"/>
<circle cx="532.53" cy="670.65" r="3.3" fill="#e8712c"/>
<circle cx="533.88" cy="669.82" r="3.3" fill="#e8712c"/>
<circle cx="535.24" cy="669.04" r="3.3" fill="#e8712c"/>
<circle cx="536.59" cy="668.85" r="3.3" fill="#e8712c"/>
<circle cx="537.94" cy="668.55" r="3.3" fill="#e8712c"/>
<circle cx="539.3" cy="669.95" r="3.3" fill="#e8712c"/>
<circle cx="540.65" cy="669.34" r="3.3" fill="#e8712c"/>
<circle cx="542" cy="669.49" r="3.3" fill="#e8712c"/>
<circle cx="543.36" cy="669.2" r="3.3" fill="#e8712c"/>
<circle cx="544.71" cy="667.64" r="3.3" fill="#e8712c"/>
<circle cx="546.06" cy="668.18" r="3.3" fill="#e8712c"/>
<circle cx="547.42" cy="667.4" r="3.3" fill="#e8712c"/>
<circle cx="548.77" cy="668.23" r="3.3" fill="#e8712c"/>
<circle cx="550.12" cy="667.54" r="3.3" fill="#e8712c"/>
<circle cx="551.48" cy="668.52" r="3.3" fill="#e8712c"/>
<circle cx="552.83" cy="669.09" r="3.3" fill="#e8712c"/>
<circle cx="554.19" cy="668.4" r="3.3" fill="#e8712c"/>
<circle cx="555.54" cy="668.33" r="3.3" fill="#e8712c"/>
<circle cx="556.89" cy="670.07" r="3.3" fill="#e8712c"/>
<circle cx="558.25" cy="669.42" r="3.3" fill="#e8712c"/>
<circle cx="559.6" cy="669.61" r="3.3" fill="#e8712c"/>
<circle cx="560.95" cy="670.57" r="3.3" fill="#e8712c"/>
<circle cx="562.31" cy="670.53" r="3.3" fill="#e8712c"/>
<circle cx="563.66" cy="671.17" r="3.3" fill="#e8712c"/>
<circle cx="565.01" cy="671.29" r="3.3" fill="#e8712c"/>
<circle cx="566.37" cy="671.43" r="3.3" fill="#e8712c"/>
<circle cx="567.72" cy="671.05" r="3.3" fill="#e8712c"/>
<circle cx="569.08" cy="671.19" r="3.3" fill="#e8712c"/>
<circle cx="570.43" cy="672.14" r="3.3" fill="#e8712c"/>
<circle cx="571.78" cy="671.95" r="3.3" fill="#e8712c"/>
<circle cx="573.14" cy="670.85" r="3.3" fill="#e8712c"/>
<circle cx="574.49" cy="669.68" r="3.3" fill="#e8712c"/>
<circle cx="575.84" cy="670.02" r="3.3" fill="#e8712c"/>
<circle cx="577.2" cy="669.26" r="3.3" fill="#e8712c"/>
<circle cx="578.55" cy="668.92" r="3.3" fill="#e8712c"/>
<circle cx="579.9" cy="667.32" r="3.3" fill="#e8712c"/>
<circle cx="581.26" cy="667.22" r="3.3" fill="#e8712c"/>
<circle cx="582.61" cy="667.55" r="3.3" fill="#e8712c"/>
<circle cx="583.96" cy="666.94" r="3.3" fill="#e8712c"/>
<circle cx="585.32" cy="665.88" r="3.3" fill="#e8712c"/>
<circle cx="586.67" cy="665.38" r="3.3" fill="#e8712c"/>
<circle cx="588.03" cy="665.08" r="3.3" fill="#e8712c"/>
<circle cx="589.38" cy="665.91" r="3.3" fill="#e8712c"/>
<circle cx="590.73" cy="665.64" r="3.3" fill="#e8712c"/>
<circle cx="592.09" cy="664.54" r="3.3" fill="#e8712c"/>
<circle cx="593.44" cy="664.91" r="3.3" fill="#e8712c"/>
<circle cx="594.79" cy="664.99" r="3.3" fill="#e8712c"/>
<circle cx="596.15" cy="664.8" r="3.3" fill="#e8712c"/>
<circle cx="597.5" cy="663.5" r="3.3" fill="#e8712c"/>
<circle cx="598.85" cy="664.5" r="3.3" fill="#e8712c"/>
<circle cx="600.21" cy="663.9" r="3.3" fill="#e8712c"/>
<circle cx="601.56" cy="664.13" r="3.3" fill="#e8712c"/>
<circle cx="602.92" cy="663.88" r="3.3" fill="#e8712c"/>
<circle cx="604.27" cy="662.94" r="3.3" fill="#e8712c"/>
<circle cx="605.62" cy="662.56" r="3.3" fill="#e8712c"/>
<circle cx="606.98" cy="663.54" r="3.3" fill="#e8712c"/>
<circle cx="608.33" cy="663.7" r="3.3" fill="#e8712c"/>
<circle cx="609.68" cy="662.6" r="3.3" fill="#e8712c"/>
<circle cx="611.04" cy="663.39" r="3.3" fill="#e8712c"/>
<circle cx="612.39" cy="663.6" r="3.3" fill="#e8712c"/>
<circle cx="613.74" cy="661.86" r="3.3" fill="#e8712c"/>
<circle cx="615.1" cy="662.57" r="3.3" fill="#e8712c"/>
<circle cx="616.45" cy="661.71" r="3.3" fill="#e8712c"/>
<circle cx="617.8" cy="662.31" r="3.3" fill="#e8712c"/>
<circle cx="619.16" cy="661.31" r="3.3" fill="#e8712c"/>
<circle cx="620.51" cy="661.92" r="3.3" fill="#e8712c"/>
<circle cx="621.87" cy="662.31" r="3.3" fill="#e8712c"/>
<circle cx="623.22" cy="662.43" r="3.3" fill="#e8712c"/>
<circle cx="624.57" cy="661.32" r="3.3" fill="#e8712c"/>
<circle cx="625.93" cy="661.02" r="3.3" fill="#e8712c"/>
<circle cx="627.28" cy="660.4" r="3.3" fill="#e8712c"/>
<circle cx="628.63" cy="661.69" r="3.3" fill="#e8712c"/>
<circle cx="629.99" cy="660.45" r="3.3" fill="#e8712c"/>
<circle cx="631.34" cy="660.61" r="3.3" fill="#e8712c"/>
<circle cx="632.69" cy="660.09" r="3.3" fill="#e8712c"/>
<circle cx="634.05" cy="660.44" r="3.3" fill="#e8712c"/>
<circle cx="635.4" cy="659.91" r="3.3" fill="#e8712c"/>
<circle cx="636.76" cy="659.2" r="3.3" fill="#e8712c"/>
<circle cx="638.11" cy="658.19" r="3.3" fill="#e8712c"/>
<circle cx="639.46" cy="659.36" r="3.3" fill="#e8712c"/>
<circle cx="640.82" cy="658.39" r="3.3" fill="#e8712c"/>
<circle cx="642.17" cy="657.54" r="3.3" fill="#e8712c"/>
<circle cx="643.52" cy="656.97" r="3.3" fill="#e8712c"/>
<circle cx="644.88" cy="658.05" r="3.3" fill="#e8712c"/>
<circle cx="646.23" cy="657.89" r="3.3" fill="#e8712c"/>
<circle cx="647.58" cy="656.15" r="3.3" fill="#e8712c"/>
<circle cx="648.94" cy="655.8" r="3.3" fill="#e8712c"/>
<circle cx="650.29" cy="656.4" r="3.3" fill="#e8712c"/>
<circle cx="651.64" cy="656.88" r="3.3" fill="#e8712c"/>
<circle cx="653" cy="655.05" r="3.3" fill="#e8712c"/>
<circle cx="654.35" cy="655.89" r="3.3" fill="#e8712c"/>
<circle cx="655.71" cy="654.85" r="3.3" fill="#e8712c"/>
<circle cx="657.06" cy="655.23" r="3.3" fill="#e8712c"/>
<circle cx="658.41" cy="654.75" r="3.3" fill="#e8712c"/>
<circle cx="659.77" cy="655.81" r="3.3" fill="#e8712c"/>
<circle cx="661.12" cy="654.58" r="3.3" fill="#e8712c"/>
<circle cx="662.47" cy="655.46" r="3.3" fill="#e8712c"/>
<circle cx="663.83" cy="655.02" r="3.3" fill="#e8712c"/>
<circle cx="665.18" cy="654.11" r="3.3" fill="#e8712c"/>
<circle cx="666.53" cy="654.02" r="3.3" fill="#e8712c"/>
<circle cx="667.89" cy="655.05" r="3.3" fill="#e8712c"/>
<circle cx="669.24" cy="654.87" r="3.3" fill="#e8712c"/>
<circle cx="670.6" cy="654.42" r="3.3" fill="#e8712c"/>
<circle cx="671.95" cy="654.09" r="3.3" fill="#e8712c"/>
<circle cx="673.3" cy="654.21" r="3.3" fill="#e8712c"/>
<circle cx="674.66" cy="654.56" r="3.3" fill="#e8712c"/>
<circle cx="676.01" cy="654.22" r="3.3" fill="#e8712c"/>
<circle cx="677.36" cy="653.24" r="3.3" fill="#e8712c"/>
<circle cx="678.72" cy="652.81" r="3.3" fill="#e8712c"/>
<circle cx="680.07" cy="654.22" r="3.3" fill="#e8712c"/>
<circle cx="681.42" cy="652.91" r="3.3" fill="#e8712c"/>
<circle cx="682.78" cy="652.08" r="3.3" fill="#e8712c"/>
<circle cx="684.13" cy="652.87" r="3.3" fill="#e8712c"/>
<circle cx="685.48" cy="650.96" r="3.3" fill="#e8712c"/>
<circle cx="686.84" cy="651.75" r="3.3" fill="#e8712c"/>
<circle cx="688.19" cy="650.41" r="3.3" fill="#e8712c"/>
<circle cx="689.55" cy="650.01" r="3.3" fill="#e8712c"/>
<circle cx="690.9" cy="649.38" r="3.3" fill="#e8712c"/>
<circle cx="692.25" cy="649.47" r="3.3" fill="#e8712c"/>
<circle cx="693.61" cy="648.77" r="3.3" fill="#e8712c"/>
<circle cx="694.96" cy="647.99" r="3.3" fill="#e8712c"/>
<circle cx="696.31" cy="648.07" r="3.3" fill="#e8712c"/>
<circle cx="697.67" cy="647.73" r="3.3" fill="#e8712c"/>
<circle cx="699.02" cy="648.19" r="3.3" fill="#e8712c"/>
<circle cx="700.37" cy="648.28" r="3.3" fill="#e8712c"/>
<circle cx="701.73" cy="649.1" r="3.3" fill="#e8712c"/>
<circle cx="703.08" cy="648.12" r="3.3" fill="#e8712c"/>
<circle cx="704.44" cy="648.43" r="3.3" fill="#e8712c"/>
<circle cx="705.79" cy="648.96" r="3.3" fill="#e8712c"/>
<circle cx="707.14" cy="648.09" r="3.3" fill="#e8712c"/>
<circle cx="708.5" cy="648.14" r="3.3" fill="#e8712c"/>
<circle cx="709.85" cy="648.8" r="3.3" fill="#e8712c"/>
<circle cx="711.2" cy="649.47" r="3.3" fill="#e8712c"/>
<circle cx="712.56" cy="650.03" r="3.3" fill="#e8712c"/>
<circle cx="713.91" cy="651.77" r="3.3" fill="#e8712c"/>
<circle cx="715.26" cy="652.82" r="3.3" fill="#e8712c"/>
<circle cx="716.62" cy="653.37" r="3.3" fill="#e8712c"/>
<circle cx="717.97" cy="655.06" r="3.3" fill="#e8712c"/>
<circle cx="719.32" cy="655.21" r="3.3" fill="#e8712c"/>
<circle cx="720.68" cy="655.54" r="3.3" fill="#e8712c"/>
<circle cx="722.03" cy="656.84" r="3.3" fill="#e8712c"/>
<circle cx="723.39" cy="656.24" r="3.3" fill="#e8712c"/>
<circle cx="724.74" cy="657.69" r="3.3" fill="#e8712c"/>
<circle cx="726.09" cy="656.98" r="3.3" fill="#e8712c"/>
<circle cx="727.45" cy="657.36" r="3.3" fill="#e8712c"/>
<circle cx="728.8" cy="658.03" r="3.3" fill="#e8712c"/>
<path d="M53.35 631.49L54.71 653.4L56.06 657.12L57.41 660.41L58.77 661.73L60.12 661.79L61.48 663.73L62.83 664.87L64.18 665.72L65.54 665.97L66.89 666.9L68.24 667.9L69.6 669.04L70.95 669.1L72.3 669.65L73.66 670.65L75.01 672.64L76.36 672.62L77.72 675.22L79.07 675.08L80.43 675.34L81.78 677.17L83.13 676.57L84.49 676.12L85.84 676.05L87.19 677.16L88.55 677.68L89.9 677.99L91.25 676.94L92.61 678.51L93.96 678.12L95.32 679.17L96.67 678.75L98.02 678.25L99.38 679.97L100.73 679.01L102.08 679.83L103.44 679.42L104.79 680.01L106.14 681.2L107.5 680.36L108.85 681.45L110.2 682.62L111.56 683.01L112.91 682.48L114.27 682.91L115.62 683.52L116.97 684.16L118.33 684.15L119.68 684.55L121.03 683.9L122.39 685.64L123.74 684.55L125.09 684.63L126.45 686.16L127.8 684.96L129.16 685.58L130.51 685.49L131.86 686.82L133.22 686.75L134.57 686.63L135.92 685.47L137.28 686.11L138.63 686.44L139.98 686.23L141.34 686.42L142.69 686.74L144.04 686.57L145.4 685.17L146.75 686.07L148.11 684.72L149.46 685.37L150.81 684.76L152.17 683.73L153.52 683.73L154.87 682.81L156.23 681.19L157.58 680.74L158.93 680.28L160.29 680.14L161.64 679.64L163 679.59L164.35 680.29L165.7 679.98L167.06 681.18L168.41 679.96L169.76 680.46L171.12 679.92L172.47 680.12L173.82 680.76L175.18 681.18L176.53 679.61L177.88 681.04L179.24 680.56L180.59 681.02L181.95 681.34L183.3 680.78L184.65 680.59L186.01 682.1L187.36 681.62L188.71 682.49L190.07 682.26L191.42 682.78L192.77 683.42L194.13 683.66L195.48 683.81L196.84 682.74L198.19 683.18L199.54 683.38L200.9 681.86L202.25 681.4L203.6 682.08L204.96 682.34L206.31 681.95L207.66 681.84L209.02 681.09L210.37 681.25L211.72 680.69L213.08 680.36L214.43 679.5L215.79 678.72L217.14 678.84L218.49 679.31L219.85 679.18L221.2 678.85L222.55 678.98L223.91 678.92L225.26 679.28L226.61 678.77L227.97 677.4L229.32 678.78L230.68 677.97L232.03 677.62L233.38 677.07L234.74 678.09L236.09 677.86L237.44 677.99L238.8 677.91L240.15 678.01L241.5 677.28L242.86 677.65L244.21 677.79L245.56 679.49L246.92 679.66L248.27 678.63L249.63 678.48L250.98 679.42L252.33 679.31L253.69 680.33L255.04 679.6L256.39 678.61L257.75 678.76L259.1 678.68L260.45 678.44L261.81 679.7L263.16 679.92L264.52 679.81L265.87 679.12L267.22 678.8L268.58 678.31L269.93 678.67L271.28 678.77L272.64 678.53L273.99 679.05L275.34 678.85L276.7 679.63L278.05 678.01L279.4 678.69L280.76 677.17L282.11 677.36L283.47 677.68L284.82 677.7L286.17 677.18L287.53 676.2L288.88 675.79L290.23 676.62L291.59 676.81L292.94 676.11L294.29 676.12L295.65 676.58L297 676.98L298.36 676.42L299.71 677.58L301.06 677.17L302.42 677L303.77 676.22L305.12 676.89L306.48 676.58L307.83 677.42L309.18 677.8L310.54 677.62L311.89 676.19L313.24 676.5L314.6 677.05L315.95 677.41L317.31 676.4L318.66 675.94L320.01 676.24L321.37 676.37L322.72 675.49L324.07 674.87L325.43 675.96L326.78 676.16L328.13 675.46L329.49 675.16L330.84 674.54L332.2 675.25L333.55 674.02L334.9 673.97L336.26 674.31L337.61 674.92L338.96 673.63L340.32 674.89L341.67 674.06L343.02 675.19L344.38 675.29L345.73 674.4L347.08 675.31L348.44 674.22L349.79 675.11L351.15 675.74L352.5 675.43L353.85 674.84L355.21 674.15L356.56 673.39L357.91 674.58L359.27 673.89L360.62 673.97L361.97 672.36L363.33 673.6L364.68 673.51L366.04 673.25L367.39 672.41L368.74 671.26L370.1 671.04L371.45 671.06L372.8 670.37L374.16 670.36L375.51 671.32L376.86 671.46L378.22 670L379.57 670.21L380.92 671.37L382.28 670.12L383.63 670.51L384.99 670.4L386.34 670.35L387.69 670.52L389.05 670.7L390.4 670.08L391.75 669.84L393.11 668.64L394.46 670L395.81 668.38L397.17 669.64L398.52 669.57L399.88 668.93L401.23 669.12L402.58 670.01L403.94 670.89L405.29 670.32L406.64 670.7L408 669.91L409.35 671.4L410.7 671.29L412.06 670.53L413.41 672.48L414.76 672.26L416.12 671.99L417.47 672.53L418.83 674.28L420.18 674.75L421.53 675.15L422.89 674.07L424.24 675.71L425.59 675.29L426.95 675.48L428.3 676.93L429.65 677.5L431.01 676.32L432.36 676.01L433.72 675.73L435.07 674L436.42 675.85L437.78 677.28L439.13 679.13L440.48 678.67L441.84 678.79L443.19 679.71L444.54 679.56L445.9 681.61L447.25 681.65L448.6 681.63L449.96 681.18L451.31 681.59L452.67 682.44L454.02 681.95L455.37 680.89L456.73 680.04L458.08 678.53L459.43 679.13L460.79 677.28L462.14 676.66L463.49 675.78L464.85 675.18L466.2 674.87L467.56 674.76L468.91 674.17L470.26 673.48L471.62 672.12L472.97 672.77L474.32 671.95L475.68 670.35L477.03 670.65L478.38 670.37L479.74 670.03L481.09 669.61L482.44 670.51L483.8 669.85L485.15 670.52L486.51 670.83L487.86 672.63L489.21 673.45L490.57 673.93L491.92 673.71L493.27 673.83L494.63 674.8L495.98 675.68L497.33 675.86L498.69 675.09L500.04 673.99L501.4 672.85L502.75 671.67L504.1 670.99L505.46 671.76L506.81 670.27L508.16 671.05L509.52 670.36L510.87 670.51L512.22 669.66L513.58 670.42L514.93 670.14L516.28 669.94L517.64 669.9L518.99 668.4L520.35 668.75L521.7 669L523.05 668.67L524.41 667.41L525.76 668.08L527.11 668.37L528.47 667.14L529.82 667.22L531.17 666.43L532.53 667.86L533.88 667.03L535.24 666.25L536.59 666.06L537.94 665.76L539.3 667.16L540.65 666.55L542 666.7L543.36 666.41L544.71 664.85L546.06 665.39L547.42 664.61L548.77 665.44L550.12 664.75L551.48 665.73L552.83 666.3L554.19 665.61L555.54 665.54L556.89 667.28L558.25 666.63L559.6 666.82L560.95 667.78L562.31 667.74L563.66 668.38L565.01 668.5L566.37 668.64L567.72 668.26L569.08 668.4L570.43 669.35L571.78 669.16L573.14 668.06L574.49 666.89L575.84 667.23L577.2 666.47L578.55 666.13L579.9 664.53L581.26 664.43L582.61 664.76L583.96 664.15L585.32 663.09L586.67 662.59L588.03 662.29L589.38 663.12L590.73 662.85L592.09 661.75L593.44 662.12L594.79 662.2L596.15 662.01L597.5 660.71L598.85 661.71L600.21 661.11L601.56 661.34L602.92 661.09L604.27 660.15L605.62 659.77L606.98 660.75L608.33 660.91L609.68 659.81L611.04 660.6L612.39 660.81L613.74 659.07L615.1 659.78L616.45 658.92L617.8 659.52L619.16 658.52L620.51 659.13L621.87 659.52L623.22 659.64L624.57 658.53L625.93 658.23L627.28 657.61L628.63 658.9L629.99 657.66L631.34 657.82L632.69 657.3L634.05 657.65L635.4 657.12L636.76 656.41L638.11 655.4L639.46 656.57L640.82 655.6L642.17 654.75L643.52 654.18L644.88 655.26L646.23 655.1L647.58 653.36L648.94 653.01L650.29 653.61L651.64 654.09L653 652.26L654.35 653.1L655.71 652.06L657.06 652.44L658.41 651.96L659.77 653.02L661.12 651.79L662.47 652.67L663.83 652.23L665.18 651.32L666.53 651.23L667.89 652.26L669.24 652.08L670.6 651.63L671.95 651.3L673.3 651.42L674.66 651.77L676.01 651.43L677.36 650.45L678.72 650.02L680.07 651.43L681.42 650.12L682.78 649.29L684.13 650.08L685.48 648.17L686.84 648.96L688.19 647.62L689.55 647.22L690.9 646.59L692.25 646.68L693.61 645.98L694.96 645.2L696.31 645.28L697.67 644.94L699.02 645.4L700.37 645.49L701.73 646.31L703.08 645.33L704.44 645.64L705.79 646.17L707.14 645.3L708.5 645.35L709.85 646.01L711.2 646.68L712.56 647.24L713.91 648.98L715.26 650.03L716.62 650.58L717.97 652.27L719.32 652.42L720.68 652.75L722.03 654.05L723.39 653.45L724.74 654.9L726.09 654.19L727.45 654.57L728.8 655.24" fill="none" stroke="#5b3a9c" stroke-width="1.2" stroke-linejoin="round" stroke-linecap="round" />
<circle cx="53.35" cy="631.49" r="3.7" fill="#5b3a9c"/>
<circle cx="54.71" cy="653.4" r="3.7" fill="#5b3a9c"/>
<circle cx="56.06" cy="657.12" r="3.7" fill="#5b3a9c"/>
<circle cx="57.41" cy="660.41" r="3.7" fill="#5b3a9c"/>
<circle cx="58.77" cy="661.73" r="3.7" fill="#5b3a9c"/>
<circle cx="60.12" cy="661.79" r="3.7" fill="#5b3a9c"/>
<circle cx="61.48" cy="663.73" r="3.7" fill="#5b3a9c"/>
<circle cx="62.83" cy="664.87" r="3.7" fill="#5b3a9c"/>
<circle cx="64.18" cy="665.72" r="3.7" fill="#5b3a9c"/>
<circle cx="65.54" cy="665.97" r="3.7" fill="#5b3a9c"/>
<circle cx="66.89" cy="666.9" r="3.7" fill="#5b3a9c"/>
<circle cx="68.24" cy="667.9" r="3.7" fill="#5b3a9c"/>
<circle cx="69.6" cy="669.04" r="3.7" fill="#5b3a9c"/>
<circle cx="70.95" cy="669.1" r="3.7" fill="#5b3a9c"/>
<circle cx="72.3" cy="669.65" r="3.7" fill="#5b3a9c"/>
<circle cx="73.66" cy="670.65" r="3.7" fill="#5b3a9c"/>
<circle cx="75.01" cy="672.64" r="3.7" fill="#5b3a9c"/>
<circle cx="76.36" cy="672.62" r="3.7" fill="#5b3a9c"/>
<circle cx="77.72" cy="675.22" r="3.7" fill="#5b3a9c"/>
<circle cx="79.07" cy="675.08" r="3.7" fill="#5b3a9c"/>
<circle cx="80.43" cy="675.34" r="3.7" fill="#5b3a9c"/>
<circle cx="81.78" cy="677.17" r="3.7" fill="#5b3a9c"/>
<circle cx="83.13" cy="676.57" r="3.7" fill="#5b3a9c"/>
<circle cx="84.49" cy="676.12" r="3.7" fill="#5b3a9c"/>
<circle cx="85.84" cy="676.05" r="3.7" fill="#5b3a9c"/>
<circle cx="87.19" cy="677.16" r="3.7" fill="#5b3a9c"/>
<circle cx="88.55" cy="677.68" r="3.7" fill="#5b3a9c"/>
<circle cx="89.9" cy="677.99" r="3.7" fill="#5b3a9c"/>
<circle cx="91.25" cy="676.94" r="3.7" fill="#5b3a9c"/>
<circle cx="92.61" cy="678.51" r="3.7" fill="#5b3a9c"/>
<circle cx="93.96" cy="678.12" r="3.7" fill="#5b3a9c"/>
<circle cx="95.32" cy="679.17" r="3.7" fill="#5b3a9c"/>
<circle cx="96.67" cy="678.75" r="3.7" fill="#5b3a9c"/>
<circle cx="98.02" cy="678.25" r="3.7" fill="#5b3a9c"/>
<circle cx="99.38" cy="679.97" r="3.7" fill="#5b3a9c"/>
<circle cx="100.73" cy="679.01" r="3.7" fill="#5b3a9c"/>
<circle cx="102.08" cy="679.83" r="3.7" fill="#5b3a9c"/>
<circle cx="103.44" cy="679.42" r="3.7" fill="#5b3a9c"/>
<circle cx="104.79" cy="680.01" r="3.7" fill="#5b3a9c"/>
<circle cx="106.14" cy="681.2" r="3.7" fill="#5b3a9c"/>
<circle cx="107.5" cy="680.36" r="3.7" fill="#5b3a9c"/>
<circle cx="108.85" cy="681.45" r="3.7" fill="#5b3a9c"/>
<circle cx="110.2" cy="682.62" r="3.7" fill="#5b3a9c"/>
<circle cx="111.56" cy="683.01" r="3.7" fill="#5b3a9c"/>
<circle cx="112.91" cy="682.48" r="3.7" fill="#5b3a9c"/>
<circle cx="114.27" cy="682.91" r="3.7" fill="#5b3a9c"/>
<circle cx="115.62" cy="683.52" r="3.7" fill="#5b3a9c"/>
<circle cx="116.97" cy="684.16" r="3.7" fill="#5b3a9c"/>
<circle cx="118.33" cy="684.15" r="3.7" fill="#5b3a9c"/>
<circle cx="119.68" cy="684.55" r="3.7" fill="#5b3a9c"/>
<circle cx="121.03" cy="683.9" r="3.7" fill="#5b3a9c"/>
<circle cx="122.39" cy="685.64" r="3.7" fill="#5b3a9c"/>
<circle cx="123.74" cy="684.55" r="3.7" fill="#5b3a9c"/>
<circle cx="125.09" cy="684.63" r="3.7" fill="#5b3a9c"/>
<circle cx="126.45" cy="686.16" r="3.7" fill="#5b3a9c"/>
<circle cx="127.8" cy="684.96" r="3.7" fill="#5b3a9c"/>
<circle cx="129.16" cy="685.58" r="3.7" fill="#5b3a9c"/>
<circle cx="130.51" cy="685.49" r="3.7" fill="#5b3a9c"/>
<circle cx="131.86" cy="686.82" r="3.7" fill="#5b3a9c"/>
<circle cx="133.22" cy="686.75" r="3.7" fill="#5b3a9c"/>
<circle cx="134.57" cy="686.63" r="3.7" fill="#5b3a9c"/>
<circle cx="135.92" cy="685.47" r="3.7" fill="#5b3a9c"/>
<circle cx="137.28" cy="686.11" r="3.7" fill="#5b3a9c"/>
<circle cx="138.63" cy="686.44" r="3.7" fill="#5b3a9c"/>
<circle cx="139.98" cy="686.23" r="3.7" fill="#5b3a9c"/>
<circle cx="141.34" cy="686.42" r="3.7" fill="#5b3a9c"/>
<circle cx="142.69" cy="686.74" r="3.7" fill="#5b3a9c"/>
<circle cx="144.04" cy="686.57" r="3.7" fill="#5b3a9c"/>
<circle cx="145.4" cy="685.17" r="3.7" fill="#5b3a9c"/>
<circle cx="146.75" cy="686.07" r="3.7" fill="#5b3a9c"/>
<circle cx="148.11" cy="684.72" r="3.7" fill="#5b3a9c"/>
<circle cx="149.46" cy="685.37" r="3.7" fill="#5b3a9c"/>
<circle cx="150.81" cy="684.76" r="3.7" fill="#5b3a9c"/>
<circle cx="152.17" cy="683.73" r="3.7" fill="#5b3a9c"/>
<circle cx="153.52" cy="683.73" r="3.7" fill="#5b3a9c"/>
<circle cx="154.87" cy="682.81" r="3.7" fill="#5b3a9c"/>
<circle cx="156.23" cy="681.19" r="3.7" fill="#5b3a9c"/>
<circle cx="157.58" cy="680.74" r="3.7" fill="#5b3a9c"/>
<circle cx="158.93" cy="680.28" r="3.7" fill="#5b3a9c"/>
<circle cx="160.29" cy="680.14" r="3.7" fill="#5b3a9c"/>
<circle cx="161.64" cy="679.64" r="3.7" fill="#5b3a9c"/>
<circle cx="163" cy="679.59" r="3.7" fill="#5b3a9c"/>
<circle cx="164.35" cy="680.29" r="3.7" fill="#5b3a9c"/>
<circle cx="165.7" cy="679.98" r="3.7" fill="#5b3a9c"/>
<circle cx="167.06" cy="681.18" r="3.7" fill="#5b3a9c"/>
<circle cx="168.41" cy="679.96" r="3.7" fill="#5b3a9c"/>
<circle cx="169.76" cy="680.46" r="3.7" fill="#5b3a9c"/>
<circle cx="171.12" cy="679.92" r="3.7" fill="#5b3a9c"/>
<circle cx="172.47" cy="680.12" r="3.7" fill="#5b3a9c"/>
<circle cx="173.82" cy="680.76" r="3.7" fill="#5b3a9c"/>
<circle cx="175.18" cy="681.18" r="3.7" fill="#5b3a9c"/>
<circle cx="176.53" cy="679.61" r="3.7" fill="#5b3a9c"/>
<circle cx="177.88" cy="681.04" r="3.7" fill="#5b3a9c"/>
<circle cx="179.24" cy="680.56" r="3.7" fill="#5b3a9c"/>
<circle cx="180.59" cy="681.02" r="3.7" fill="#5b3a9c"/>
<circle cx="181.95" cy="681.34" r="3.7" fill="#5b3a9c"/>
<circle cx="183.3" cy="680.78" r="3.7" fill="#5b3a9c"/>
<circle cx="184.65" cy="680.59" r="3.7" fill="#5b3a9c"/>
<circle cx="186.01" cy="682.1" r="3.7" fill="#5b3a9c"/>
<circle cx="187.36" cy="681.62" r="3.7" fill="#5b3a9c"/>
<circle cx="188.71" cy="682.49" r="3.7" fill="#5b3a9c"/>
<circle cx="190.07" cy="682.26" r="3.7" fill="#5b3a9c"/>
<circle cx="191.42" cy="682.78" r="3.7" fill="#5b3a9c"/>
<circle cx="192.77" cy="683.42" r="3.7" fill="#5b3a9c"/>
<circle cx="194.13" cy="683.66" r="3.7" fill="#5b3a9c"/>
<circle cx="195.48" cy="683.81" r="3.7" fill="#5b3a9c"/>
<circle cx="196.84" cy="682.74" r="3.7" fill="#5b3a9c"/>
<circle cx="198.19" cy="683.18" r="3.7" fill="#5b3a9c"/>
<circle cx="199.54" cy="683.38" r="3.7" fill="#5b3a9c"/>
<circle cx="200.9" cy="681.86" r="3.7" fill="#5b3a9c"/>
<circle cx="202.25" cy="681.4" r="3.7" fill="#5b3a9c"/>
<circle cx="203.6" cy="682.08" r="3.7" fill="#5b3a9c"/>
<circle cx="204.96" cy="682.34" r="3.7" fill="#5b3a9c"/>
<circle cx="206.31" cy="681.95" r="3.7" fill="#5b3a9c"/>
<circle cx="207.66" cy="681.84" r="3.7" fill="#5b3a9c"/>
<circle cx="209.02" cy="681.09" r="3.7" fill="#5b3a9c"/>
<circle cx="210.37" cy="681.25" r="3.7" fill="#5b3a9c"/>
<circle cx="211.72" cy="680.69" r="3.7" fill="#5b3a9c"/>
<circle cx="213.08" cy="680.36" r="3.7" fill="#5b3a9c"/>
<circle cx="214.43" cy="679.5" r="3.7" fill="#5b3a9c"/>
<circle cx="215.79" cy="678.72" r="3.7" fill="#5b3a9c"/>
<circle cx="217.14" cy="678.84" r="3.7" fill="#5b3a9c"/>
<circle cx="218.49" cy="679.31" r="3.7" fill="#5b3a9c"/>
<circle cx="219.85" cy="679.18" r="3.7" fill="#5b3a9c"/>
<circle cx="221.2" cy="678.85" r="3.7" fill="#5b3a9c"/>
<circle cx="222.55" cy="678.98" r="3.7" fill="#5b3a9c"/>
<circle cx="223.91" cy="678.92" r="3.7" fill="#5b3a9c"/>
<circle cx="225.26" cy="679.28" r="3.7" fill="#5b3a9c"/>
<circle cx="226.61" cy="678.77" r="3.7" fill="#5b3a9c"/>
<circle cx="227.97" cy="677.4" r="3.7" fill="#5b3a9c"/>
<circle cx="229.32" cy="678.78" r="3.7" fill="#5b3a9c"/>
<circle cx="230.68" cy="677.97" r="3.7" fill="#5b3a9c"/>
<circle cx="232.03" cy="677.62" r="3.7" fill="#5b3a9c"/>
<circle cx="233.38" cy="677.07" r="3.7" fill="#5b3a9c"/>
<circle cx="234.74" cy="678.09" r="3.7" fill="#5b3a9c"/>
<circle cx="236.09" cy="677.86" r="3.7" fill="#5b3a9c"/>
<circle cx="237.44" cy="677.99" r="3.7" fill="#5b3a9c"/>
<circle cx="238.8" cy="677.91" r="3.7" fill="#5b3a9c"/>
<circle cx="240.15" cy="678.01" r="3.7" fill="#5b3a9c"/>
<circle cx="241.5" cy="677.28" r="3.7" fill="#5b3a9c"/>
<circle cx="242.86" cy="677.65" r="3.7" fill="#5b3a9c"/>
<circle cx="244.21" cy="677.79" r="3.7" fill="#5b3a9c"/>
<circle cx="245.56" cy="679.49" r="3.7" fill="#5b3a9c"/>
<circle cx="246.92" cy="679.66" r="3.7" fill="#5b3a9c"/>
<circle cx="248.27" cy="678.63" r="3.7" fill="#5b3a9c"/>
<circle cx="249.63" cy="678.48" r="3.7" fill="#5b3a9c"/>
<circle cx="250.98" cy="679.42" r="3.7" fill="#5b3a9c"/>
<circle cx="252.33" cy="679.31" r="3.7" fill="#5b3a9c"/>
<circle cx="253.69" cy="680.33" r="3.7" fill="#5b3a9c"/>
<circle cx="255.04" cy="679.6" r="3.7" fill="#5b3a9c"/>
<circle cx="256.39" cy="678.61" r="3.7" fill="#5b3a9c"/>
<circle cx="257.75" cy="678.76" r="3.7" fill="#5b3a9c"/>
<circle cx="259.1" cy="678.68" r="3.7" fill="#5b3a9c"/>
<circle cx="260.45" cy="678.44" r="3.7" fill="#5b3a9c"/>
<circle cx="261.81" cy="679.7" r="3.7" fill="#5b3a9c"/>
<circle cx="263.16" cy="679.92" r="3.7" fill="#5b3a9c"/>
<circle cx="264.52" cy="679.81" r="3.7" fill="#5b3a9c"/>
<circle cx="265.87" cy="679.12" r="3.7" fill="#5b3a9c"/>
<circle cx="267.22" cy="678.8" r="3.7" fill="#5b3a9c"/>
<circle cx="268.58" cy="678.31" r="3.7" fill="#5b3a9c"/>
<circle cx="269.93" cy="678.67" r="3.7" fill="#5b3a9c"/>
<circle cx="271.28" cy="678.77" r="3.7" fill="#5b3a9c"/>
<circle cx="272.64" cy="678.53" r="3.7" fill="#5b3a9c"/>
<circle cx="273.99" cy="679.05" r="3.7" fill="#5b3a9c"/>
<circle cx="275.34" cy="678.85" r="3.7" fill="#5b3a9c"/>
<circle cx="276.7" cy="679.63" r="3.7" fill="#5b3a9c"/>
<circle cx="278.05" cy="678.01" r="3.7" fill="#5b3a9c"/>
<circle cx="279.4" cy="678.69" r="3.7" fill="#5b3a9c"/>
<circle cx="280.76" cy="677.17" r="3.7" fill="#5b3a9c"/>
<circle cx="282.11" cy="677.36" r="3.7" fill="#5b3a9c"/>
<circle cx="283.47" cy="677.68" r="3.7" fill="#5b3a9c"/>
<circle cx="284.82" cy="677.7" r="3.7" fill="#5b3a9c"/>
<circle cx="286.17" cy="677.18" r="3.7" fill="#5b3a9c"/>
<circle cx="287.53" cy="676.2" r="3.7" fill="#5b3a9c"/>
<circle cx="288.88" cy="675.79" r="3.7" fill="#5b3a9c"/>
<circle cx="290.23" cy="676.62" r="3.7" fill="#5b3a9c"/>
<circle cx="291.59" cy="676.81" r="3.7" fill="#5b3a9c"/>
<circle cx="292.94" cy="676.11" r="3.7" fill="#5b3a9c"/>
<circle cx="294.29" cy="676.12" r="3.7" fill="#5b3a9c"/>
<circle cx="295.65" cy="676.58" r="3.7" fill="#5b3a9c"/>
<circle cx="297" cy="676.98" r="3.7" fill="#5b3a9c"/>
<circle cx="298.36" cy="676.42" r="3.7" fill="#5b3a9c"/>
<circle cx="299.71" cy="677.58" r="3.7" fill="#5b3a9c"/>
<circle cx="301.06" cy="677.17" r="3.7" fill="#5b3a9c"/>
<circle cx="302.42" cy="677" r="3.7" fill="#5b3a9c"/>
<circle cx="303.77" cy="676.22" r="3.7" fill="#5b3a9c"/>
<circle cx="305.12" cy="676.89" r="3.7" fill="#5b3a9c"/>
<circle cx="306.48" cy="676.58" r="3.7" fill="#5b3a9c"/>
<circle cx="307.83" cy="677.42" r="3.7" fill="#5b3a9c"/>
<circle cx="309.18" cy="677.8" r="3.7" fill="#5b3a9c"/>
<circle cx="310.54" cy="677.62" r="3.7" fill="#5b3a9c"/>
<circle cx="311.89" cy="676.19" r="3.7" fill="#5b3a9c"/>
<circle cx="313.24" cy="676.5" r="3.7" fill="#5b3a9c"/>
<circle cx="314.6" cy="677.05" r="3.7" fill="#5b3a9c"/>
<circle cx="315.95" cy="677.41" r="3.7" fill="#5b3a9c"/>
<circle cx="317.31" cy="676.4" r="3.7" fill="#5b3a9c"/>
<circle cx="318.66" cy="675.94" r="3.7" fill="#5b3a9c"/>
<circle cx="320.01" cy="676.24" r="3.7" fill="#5b3a9c"/>
<circle cx="321.37" cy="676.37" r="3.7" fill="#5b3a9c"/>
<circle cx="322.72" cy="675.49" r="3.7" fill="#5b3a9c"/>
<circle cx="324.07" cy="674.87" r="3.7" fill="#5b3a9c"/>
<circle cx="325.43" cy="675.96" r="3.7" fill="#5b3a9c"/>
<circle cx="326.78" cy="676.16" r="3.7" fill="#5b3a9c"/>
<circle cx="328.13" cy="675.46" r="3.7" fill="#5b3a9c"/>
<circle cx="329.49" cy="675.16" r="3.7" fill="#5b3a9c"/>
<circle cx="330.84" cy="674.54" r="3.7" fill="#5b3a9c"/>
<circle cx="332.2" cy="675.25" r="3.7" fill="#5b3a9c"/>
<circle cx="333.55" cy="674.02" r="3.7" fill="#5b3a9c"/>
<circle cx="334.9" cy="673.97" r="3.7" fill="#5b3a9c"/>
<circle cx="336.26" cy="674.31" r="3.7" fill="#5b3a9c"/>
<circle cx="337.61" cy="674.92" r="3.7" fill="#5b3a9c"/>
<circle cx="338.96" cy="673.63" r="3.7" fill="#5b3a9c"/>
<circle cx="340.32" cy="674.89" r="3.7" fill="#5b3a9c"/>
<circle cx="341.67" cy="674.06" r="3.7" fill="#5b3a9c"/>
<circle cx="343.02" cy="675.19" r="3.7" fill="#5b3a9c"/>
<circle cx="344.38" cy="675.29" r="3.7" fill="#5b3a9c"/>
<circle cx="345.73" cy="674.4" r="3.7" fill="#5b3a9c"/>
<circle cx="347.08" cy="675.31" r="3.7" fill="#5b3a9c"/>
<circle cx="348.44" cy="674.22" r="3.7" fill="#5b3a9c"/>
<circle cx="349.79" cy="675.11" r="3.7" fill="#5b3a9c"/>
<circle cx="351.15" cy="675.74" r="3.7" fill="#5b3a9c"/>
<circle cx="352.5" cy="675.43" r="3.7" fill="#5b3a9c"/>
<circle cx="353.85" cy="674.84" r="3.7" fill="#5b3a9c"/>
<circle cx="355.21" cy="674.15" r="3.7" fill="#5b3a9c"/>
<circle cx="356.56" cy="673.39" r="3.7" fill="#5b3a9c"/>
<circle cx="357.91" cy="674.58" r="3.7" fill="#5b3a9c"/>
<circle cx="359.27" cy="673.89" r="3.7" fill="#5b3a9c"/>
<circle cx="360.62" cy="673.97" r="3.7" fill="#5b3a9c"/>
<circle cx="361.97" cy="672.36" r="3.7" fill="#5b3a9c"/>
<circle cx="363.33" cy="673.6" r="3.7" fill="#5b3a9c"/>
<circle cx="364.68" cy="673.51" r="3.7" fill="#5b3a9c"/>
<circle cx="366.04" cy="673.25" r="3.7" fill="#5b3a9c"/>
<circle cx="367.39" cy="672.41" r="3.7" fill="#5b3a9c"/>
<circle cx="368.74" cy="671.26" r="3.7" fill="#5b3a9c"/>
<circle cx="370.1" cy="671.04" r="3.7" fill="#5b3a9c"/>
<circle cx="371.45" cy="671.06" r="3.7" fill="#5b3a9c"/>
<circle cx="372.8" cy="670.37" r="3.7" fill="#5b3a9c"/>
<circle cx="374.16" cy="670.36" r="3.7" fill="#5b3a9c"/>
<circle cx="375.51" cy="671.32" r="3.7" fill="#5b3a9c"/>
<circle cx="376.86" cy="671.46" r="3.7" fill="#5b3a9c"/>
<circle cx="378.22" cy="670" r="3.7" fill="#5b3a9c"/>
<circle cx="379.57" cy="670.21" r="3.7" fill="#5b3a9c"/>
<circle cx="380.92" cy="671.37" r="3.7" fill="#5b3a9c"/>
<circle cx="382.28" cy="670.12" r="3.7" fill="#5b3a9c"/>
<circle cx="383.63" cy="670.51" r="3.7" fill="#5b3a9c"/>
<circle cx="384.99" cy="670.4" r="3.7" fill="#5b3a9c"/>
<circle cx="386.34" cy="670.35" r="3.7" fill="#5b3a9c"/>
<circle cx="387.69" cy="670.52" r="3.7" fill="#5b3a9c"/>
<circle cx="389.05" cy="670.7" r="3.7" fill="#5b3a9c"/>
<circle cx="390.4" cy="670.08" r="3.7" fill="#5b3a9c"/>
<circle cx="391.75" cy="669.84" r="3.7" fill="#5b3a9c"/>
<circle cx="393.11" cy="668.64" r="3.7" fill="#5b3a9c"/>
<circle cx="394.46" cy="670" r="3.7" fill="#5b3a9c"/>
<circle cx="395.81" cy="668.38" r="3.7" fill="#5b3a9c"/>
<circle cx="397.17" cy="669.64" r="3.7" fill="#5b3a9c"/>
<circle cx="398.52" cy="669.57" r="3.7" fill="#5b3a9c"/>
<circle cx="399.88" cy="668.93" r="3.7" fill="#5b3a9c"/>
<circle cx="401.23" cy="669.12" r="3.7" fill="#5b3a9c"/>
<circle cx="402.58" cy="670.01" r="3.7" fill="#5b3a9c"/>
<circle cx="403.94" cy="670.89" r="3.7" fill="#5b3a9c"/>
<circle cx="405.29" cy="670.32" r="3.7" fill="#5b3a9c"/>
<circle cx="406.64" cy="670.7" r="3.7" fill="#5b3a9c"/>
<circle cx="408" cy="669.91" r="3.7" fill="#5b3a9c"/>
<circle cx="409.35" cy="671.4" r="3.7" fill="#5b3a9c"/>
<circle cx="410.7" cy="671.29" r="3.7" fill="#5b3a9c"/>
<circle cx="412.06" cy="670.53" r="3.7" fill="#5b3a9c"/>
<circle cx="413.41" cy="672.48" r="3.7" fill="#5b3a9c"/>
<circle cx="414.76" cy="672.26" r="3.7" fill="#5b3a9c"/>
<circle cx="416.12" cy="671.99" r="3.7" fill="#5b3a9c"/>
<circle cx="417.47" cy="672.53" r="3.7" fill="#5b3a9c"/>
<circle cx="418.83" cy="674.28" r="3.7" fill="#5b3a9c"/>
<circle cx="420.18" cy="674.75" r="3.7" fill="#5b3a9c"/>
<circle cx="421.53" cy="675.15" r="3.7" fill="#5b3a9c"/>
<circle cx="422.89" cy="674.07" r="3.7" fill="#5b3a9c"/>
<circle cx="424.24" cy="675.71" r="3.7" fill="#5b3a9c"/>
<circle cx="425.59" cy="675.29" r="3.7" fill="#5b3a9c"/>
<circle cx="426.95" cy="675.48" r="3.7" fill="#5b3a9c"/>
<circle cx="428.3" cy="676.93" r="3.7" fill="#5b3a9c"/>
<circle cx="429.65" cy="677.5" r="3.7" fill="#5b3a9c"/>
<circle cx="431.01" cy="676.32" r="3.7" fill="#5b3a9c"/>
<circle cx="432.36" cy="676.01" r="3.7" fill="#5b3a9c"/>
<circle cx="433.72" cy="675.73" r="3.7" fill="#5b3a9c"/>
<circle cx="435.07" cy="674" r="3.7" fill="#5b3a9c"/>
<circle cx="436.42" cy="675.85" r="3.7" fill="#5b3a9c"/>
<circle cx="437.78" cy="677.28" r="3.7" fill="#5b3a9c"/>
<circle cx="439.13" cy="679.13" r="3.7" fill="#5b3a9c"/>
<circle cx="440.48" cy="678.67" r="3.7" fill="#5b3a9c"/>
<circle cx="441.84" cy="678.79" r="3.7" fill="#5b3a9c"/>
<circle cx="443.19" cy="679.71" r="3.7" fill="#5b3a9c"/>
<circle cx="444.54" cy="679.56" r="3.7" fill="#5b3a9c"/>
<circle cx="445.9" cy="681.61" r="3.7" fill="#5b3a9c"/>
<circle cx="447.25" cy="681.65" r="3.7" fill="#5b3a9c"/>
<circle cx="448.6" cy="681.63" r="3.7" fill="#5b3a9c"/>
<circle cx="449.96" cy="681.18" r="3.7" fill="#5b3a9c"/>
<circle cx="451.31" cy="681.59" r="3.7" fill="#5b3a9c"/>
<circle cx="452.67" cy="682.44" r="3.7" fill="#5b3a9c"/>
<circle cx="454.02" cy="681.95" r="3.7" fill="#5b3a9c"/>
<circle cx="455.37" cy="680.89" r="3.7" fill="#5b3a9c"/>
<circle cx="456.73" cy="680.04" r="3.7" fill="#5b3a9c"/>
<circle cx="458.08" cy="678.53" r="3.7" fill="#5b3a9c"/>
<circle cx="459.43" cy="679.13" r="3.7" fill="#5b3a9c"/>
<circle cx="460.79" cy="677.28" r="3.7" fill="#5b3a9c"/>
<circle cx="462.14" cy="676.66" r="3.7" fill="#5b3a9c"/>
<circle cx="463.49" cy="675.78" r="3.7" fill="#5b3a9c"/>
<circle cx="464.85" cy="675.18" r="3.7" fill="#5b3a9c"/>
<circle cx="466.2" cy="674.87" r="3.7" fill="#5b3a9c"/>
<circle cx="467.56" cy="674.76" r="3.7" fill="#5b3a9c"/>
<circle cx="468.91" cy="674.17" r="3.7" fill="#5b3a9c"/>
<circle cx="470.26" cy="673.48" r="3.7" fill="#5b3a9c"/>
<circle cx="471.62" cy="672.12" r="3.7" fill="#5b3a9c"/>
<circle cx="472.97" cy="672.77" r="3.7" fill="#5b3a9c"/>
<circle cx="474.32" cy="671.95" r="3.7" fill="#5b3a9c"/>
<circle cx="475.68" cy="670.35" r="3.7" fill="#5b3a9c"/>
<circle cx="477.03" cy="670.65" r="3.7" fill="#5b3a9c"/>
<circle cx="478.38" cy="670.37" r="3.7" fill="#5b3a9c"/>
<circle cx="479.74" cy="670.03" r="3.7" fill="#5b3a9c"/>
<circle cx="481.09" cy="669.61" r="3.7" fill="#5b3a9c"/>
<circle cx="482.44" cy="670.51" r="3.7" fill="#5b3a9c"/>
<circle cx="483.8" cy="669.85" r="3.7" fill="#5b3a9c"/>
<circle cx="485.15" cy="670.52" r="3.7" fill="#5b3a9c"/>
<circle cx="486.51" cy="670.83" r="3.7" fill="#5b3a9c"/>
<circle cx="487.86" cy="672.63" r="3.7" fill="#5b3a9c"/>
<circle cx="489.21" cy="673.45" r="3.7" fill="#5b3a9c"/>
<circle cx="490.57" cy="673.93" r="3.7" fill="#5b3a9c"/>
<circle cx="491.92" cy="673.71" r="3.7" fill="#5b3a9c"/>
<circle cx="493.27" cy="673.83" r="3.7" fill="#5b3a9c"/>
<circle cx="494.63" cy="674.8" r="3.7" fill="#5b3a9c"/>
<circle cx="495.98" cy="675.68" r="3.7" fill="#5b3a9c"/>
<circle cx="497.33" cy="675.86" r="3.7" fill="#5b3a9c"/>
<circle cx="498.69" cy="675.09" r="3.7" fill="#5b3a9c"/>
<circle cx="500.04" cy="673.99" r="3.7" fill="#5b3a9c"/>
<circle cx="501.4" cy="672.85" r="3.7" fill="#5b3a9c"/>
<circle cx="502.75" cy="671.67" r="3.7" fill="#5b3a9c"/>
<circle cx="504.1" cy="670.99" r="3.7" fill="#5b3a9c"/>
<circle cx="505.46" cy="671.76" r="3.7" fill="#5b3a9c"/>
<circle cx="506.81" cy="670.27" r="3.7" fill="#5b3a9c"/>
<circle cx="508.16" cy="671.05" r="3.7" fill="#5b3a9c"/>
<circle cx="509.52" cy="670.36" r="3.7" fill="#5b3a9c"/>
<circle cx="510.87" cy="670.51" r="3.7" fill="#5b3a9c"/>
<circle cx="512.22" cy="669.66" r="3.7" fill="#5b3a9c"/>
<circle cx="513.58" cy="670.42" r="3.7" fill="#5b3a9c"/>
<circle cx="514.93" cy="670.14" r="3.7" fill="#5b3a9c"/>
<circle cx="516.28" cy="669.94" r="3.7" fill="#5b3a9c"/>
<circle cx="517.64" cy="669.9" r="3.7" fill="#5b3a9c"/>
<circle cx="518.99" cy="668.4" r="3.7" fill="#5b3a9c"/>
<circle cx="520.35" cy="668.75" r="3.7" fill="#5b3a9c"/>
<circle cx="521.7" cy="669" r="3.7" fill="#5b3a9c"/>
<circle cx="523.05" cy="668.67" r="3.7" fill="#5b3a9c"/>
<circle cx="524.41" cy="667.41" r="3.7" fill="#5b3a9c"/>
<circle cx="525.76" cy="668.08" r="3.7" fill="#5b3a9c"/>
<circle cx="527.11" cy="668.37" r="3.7" fill="#5b3a9c"/>
<circle cx="528.47" cy="667.14" r="3.7" fill="#5b3a9c"/>
<circle cx="529.82" cy="667.22" r="3.7" fill="#5b3a9c"/>
<circle cx="531.17" cy="666.43" r="3.7" fill="#5b3a9c"/>
<circle cx="532.53" cy="667.86" r="3.7" fill="#5b3a9c"/>
<circle cx="533.88" cy="667.03" r="3.7" fill="#5b3a9c"/>
<circle cx="535.24" cy="666.25" r="3.7" fill="#5b3a9c"/>
<circle cx="536.59" cy="666.06" r="3.7" fill="#5b3a9c"/>
<circle cx="537.94" cy="665.76" r="3.7" fill="#5b3a9c"/>
<circle cx="539.3" cy="667.16" r="3.7" fill="#5b3a9c"/>
<circle cx="540.65" cy="666.55" r="3.7" fill="#5b3a9c"/>
<circle cx="542" cy="666.7" r="3.7" fill="#5b3a9c"/>
<circle cx="543.36" cy="666.41" r="3.7" fill="#5b3a9c"/>
<circle cx="544.71" cy="664.85" r="3.7" fill="#5b3a9c"/>
<circle cx="546.06" cy="665.39" r="3.7" fill="#5b3a9c"/>
<circle cx="547.42" cy="664.61" r="3.7" fill="#5b3a9c"/>
<circle cx="548.77" cy="665.44" r="3.7" fill="#5b3a9c"/>
<circle cx="550.12" cy="664.75" r="3.7" fill="#5b3a9c"/>
<circle cx="551.48" cy="665.73" r="3.7" fill="#5b3a9c"/>
<circle cx="552.83" cy="666.3" r="3.7" fill="#5b3a9c"/>
<circle cx="554.19" cy="665.61" r="3.7" fill="#5b3a9c"/>
<circle cx="555.54" cy="665.54" r="3.7" fill="#5b3a9c"/>
<circle cx="556.89" cy="667.28" r="3.7" fill="#5b3a9c"/>
<circle cx="558.25" cy="666.63" r="3.7" fill="#5b3a9c"/>
<circle cx="559.6" cy="666.82" r="3.7" fill="#5b3a9c"/>
<circle cx="560.95" cy="667.78" r="3.7" fill="#5b3a9c"/>
<circle cx="562.31" cy="667.74" r="3.7" fill="#5b3a9c"/>
<circle cx="563.66" cy="668.38" r="3.7" fill="#5b3a9c"/>
<circle cx="565.01" cy="668.5" r="3.7" fill="#5b3a9c"/>
<circle cx="566.37" cy="668.64" r="3.7" fill="#5b3a9c"/>
<circle cx="567.72" cy="668.26" r="3.7" fill="#5b3a9c"/>
<circle cx="569.08" cy="668.4" r="3.7" fill="#5b3a9c"/>
<circle cx="570.43" cy="669.35" r="3.7" fill="#5b3a9c"/>
<circle cx="571.78" cy="669.16" r="3.7" fill="#5b3a9c"/>
<circle cx="573.14" cy="668.06" r="3.7" fill="#5b3a9c"/>
<circle cx="574.49" cy="666.89" r="3.7" fill="#5b3a9c"/>
<circle cx="575.84" cy="667.23" r="3.7" fill="#5b3a9c"/>
<circle cx="577.2" cy="666.47" r="3.7" fill="#5b3a9c"/>
<circle cx="578.55" cy="666.13" r="3.7" fill="#5b3a9c"/>
<circle cx="579.9" cy="664.53" r="3.7" fill="#5b3a9c"/>
<circle cx="581.26" cy="664.43" r="3.7" fill="#5b3a9c"/>
<circle cx="582.61" cy="664.76" r="3.7" fill="#5b3a9c"/>
<circle cx="583.96" cy="664.15" r="3.7" fill="#5b3a9c"/>
<circle cx="585.32" cy="663.09" r="3.7" fill="#5b3a9c"/>
<circle cx="586.67" cy="662.59" r="3.7" fill="#5b3a9c"/>
<circle cx="588.03" cy="662.29" r="3.7" fill="#5b3a9c"/>
<circle cx="589.38" cy="663.12" r="3.7" fill="#5b3a9c"/>
<circle cx="590.73" cy="662.85" r="3.7" fill="#5b3a9c"/>
<circle cx="592.09" cy="661.75" r="3.7" fill="#5b3a9c"/>
<circle cx="593.44" cy="662.12" r="3.7" fill="#5b3a9c"/>
<circle cx="594.79" cy="662.2" r="3.7" fill="#5b3a9c"/>
<circle cx="596.15" cy="662.01" r="3.7" fill="#5b3a9c"/>
<circle cx="597.5" cy="660.71" r="3.7" fill="#5b3a9c"/>
<circle cx="598.85" cy="661.71" r="3.7" fill="#5b3a9c"/>
<circle cx="600.21" cy="661.11" r="3.7" fill="#5b3a9c"/>
<circle cx="601.56" cy="661.34" r="3.7" fill="#5b3a9c"/>
<circle cx="602.92" cy="661.09" r="3.7" fill="#5b3a9c"/>
<circle cx="604.27" cy="660.15" r="3.7" fill="#5b3a9c"/>
<circle cx="605.62" cy="659.77" r="3.7" fill="#5b3a9c"/>
<circle cx="606.98" cy="660.75" r="3.7" fill="#5b3a9c"/>
<circle cx="608.33" cy="660.91" r="3.7" fill="#5b3a9c"/>
<circle cx="609.68" cy="659.81" r="3.7" fill="#5b3a9c"/>
<circle cx="611.04" cy="660.6" r="3.7" fill="#5b3a9c"/>
<circle cx="612.39" cy="660.81" r="3.7" fill="#5b3a9c"/>
<circle cx="613.74" cy="659.07" r="3.7" fill="#5b3a9c"/>
<circle cx="615.1" cy="659.78" r="3.7" fill="#5b3a9c"/>
<circle cx="616.45" cy="658.92" r="3.7" fill="#5b3a9c"/>
<circle cx="617.8" cy="659.52" r="3.7" fill="#5b3a9c"/>
<circle cx="619.16" cy="658.52" r="3.7" fill="#5b3a9c"/>
<circle cx="620.51" cy="659.13" r="3.7" fill="#5b3a9c"/>
<circle cx="621.87" cy="659.52" r="3.7" fill="#5b3a9c"/>
<circle cx="623.22" cy="659.64" r="3.7" fill="#5b3a9c"/>
<circle cx="624.57" cy="658.53" r="3.7" fill="#5b3a9c"/>
<circle cx="625.93" cy="658.23" r="3.7" fill="#5b3a9c"/>
<circle cx="627.28" cy="657.61" r="3.7" fill="#5b3a9c"/>
<circle cx="628.63" cy="658.9" r="3.7" fill="#5b3a9c"/>
<circle cx="629.99" cy="657.66" r="3.7" fill="#5b3a9c"/>
<circle cx="631.34" cy="657.82" r="3.7" fill="#5b3a9c"/>
<circle cx="632.69" cy="657.3" r="3.7" fill="#5b3a9c"/>
<circle cx="634.05" cy="657.65" r="3.7" fill="#5b3a9c"/>
<circle cx="635.4" cy="657.12" r="3.7" fill="#5b3a9c"/>
<circle cx="636.76" cy="656.41" r="3.7" fill="#5b3a9c"/>
<circle cx="638.11" cy="655.4" r="3.7" fill="#5b3a9c"/>
<circle cx="639.46" cy="656.57" r="3.7" fill="#5b3a9c"/>
<circle cx="640.82" cy="655.6" r="3.7" fill="#5b3a9c"/>
<circle cx="642.17" cy="654.75" r="3.7" fill="#5b3a9c"/>
<circle cx="643.52" cy="654.18" r="3.7" fill="#5b3a9c"/>
<circle cx="644.88" cy="655.26" r="3.7" fill="#5b3a9c"/>
<circle cx="646.23" cy="655.1" r="3.7" fill="#5b3a9c"/>
<circle cx="647.58" cy="653.36" r="3.7" fill="#5b3a9c"/>
<circle cx="648.94" cy="653.01" r="3.7" fill="#5b3a9c"/>
<circle cx="650.29" cy="653.61" r="3.7" fill="#5b3a9c"/>
<circle cx="651.64" cy="654.09" r="3.7" fill="#5b3a9c"/>
<circle cx="653" cy="652.26" r="3.7" fill="#5b3a9c"/>
<circle cx="654.35" cy="653.1" r="3.7" fill="#5b3a9c"/>
<circle cx="655.71" cy="652.06" r="3.7" fill="#5b3a9c"/>
<circle cx="657.06" cy="652.44" r="3.7" fill="#5b3a9c"/>
<circle cx="658.41" cy="651.96" r="3.7" fill="#5b3a9c"/>
<circle cx="659.77" cy="653.02" r="3.7" fill="#5b3a9c"/>
<circle cx="661.12" cy="651.79" r="3.7" fill="#5b3a9c"/>
<circle cx="662.47" cy="652.67" r="3.7" fill="#5b3a9c"/>
<circle cx="663.83" cy="652.23" r="3.7" fill="#5b3a9c"/>
<circle cx="665.18" cy="651.32" r="3.7" fill="#5b3a9c"/>
<circle cx="666.53" cy="651.23" r="3.7" fill="#5b3a9c"/>
<circle cx="667.89" cy="652.26" r="3.7" fill="#5b3a9c"/>
<circle cx="669.24" cy="652.08" r="3.7" fill="#5b3a9c"/>
<circle cx="670.6" cy="651.63" r="3.7" fill="#5b3a9c"/>
<circle cx="671.95" cy="651.3" r="3.7" fill="#5b3a9c"/>
<circle cx="673.3" cy="651.42" r="3.7" fill="#5b3a9c"/>
<circle cx="674.66" cy="651.77" r="3.7" fill="#5b3a9c"/>
<circle cx="676.01" cy="651.43" r="3.7" fill="#5b3a9c"/>
<circle cx="677.36" cy="650.45" r="3.7" fill="#5b3a9c"/>
<circle cx="678.72" cy="650.02" r="3.7" fill="#5b3a9c"/>
<circle cx="680.07" cy="651.43" r="3.7" fill="#5b3a9c"/>
<circle cx="681.42" cy="650.12" r="3.7" fill="#5b3a9c"/>
<circle cx="682.78" cy="649.29" r="3.7" fill="#5b3a9c"/>
<circle cx="684.13" cy="650.08" r="3.7" fill="#5b3a9c"/>
<circle cx="685.48" cy="648.17" r="3.7" fill="#5b3a9c"/>
<circle cx="686.84" cy="648.96" r="3.7" fill="#5b3a9c"/>
<circle cx="688.19" cy="647.62" r="3.7" fill="#5b3a9c"/>
<circle cx="689.55" cy="647.22" r="3.7" fill="#5b3a9c"/>
<circle cx="690.9" cy="646.59" r="3.7" fill="#5b3a9c"/>
<circle cx="692.25" cy="646.68" r="3.7" fill="#5b3a9c"/>
<circle cx="693.61" cy="645.98" r="3.7" fill="#5b3a9c"/>
<circle cx="694.96" cy="645.2" r="3.7" fill="#5b3a9c"/>
<circle cx="696.31" cy="645.28" r="3.7" fill="#5b3a9c"/>
<circle cx="697.67" cy="644.94" r="3.7" fill="#5b3a9c"/>
<circle cx="699.02" cy="645.4" r="3.7" fill="#5b3a9c"/>
<circle cx="700.37" cy="645.49" r="3.7" fill="#5b3a9c"/>
<circle cx="701.73" cy="646.31" r="3.7" fill="#5b3a9c"/>
<circle cx="703.08" cy="645.33" r="3.7" fill="#5b3a9c"/>
<circle cx="704.44" cy="645.64" r="3.7" fill="#5b3a9c"/>
<circle cx="705.79" cy="646.17" r="3.7" fill="#5b3a9c"/>
<circle cx="707.14" cy="645.3" r="3.7" fill="#5b3a9c"/>
<circle cx="708.5" cy="645.35" r="3.7" fill="#5b3a9c"/>
<circle cx="709.85" cy="646.01" r="3.7" fill="#5b3a9c"/>
<circle cx="711.2" cy="646.68" r="3.7" fill="#5b3a9c"/>
<circle cx="712.56" cy="647.24" r="3.7" fill="#5b3a9c"/>
<circle cx="713.91" cy="648.98" r="3.7" fill="#5b3a9c"/>
<circle cx="715.26" cy="650.03" r="3.7" fill="#5b3a9c"/>
<circle cx="716.62" cy="650.58" r="3.7" fill="#5b3a9c"/>
<circle cx="717.97" cy="652.27" r="3.7" fill="#5b3a9c"/>
<circle cx="719.32" cy="652.42" r="3.7" fill="#5b3a9c"/>
<circle cx="720.68" cy="652.75" r="3.7" fill="#5b3a9c"/>
<circle cx="722.03" cy="654.05" r="3.7" fill="#5b3a9c"/>
<circle cx="723.39" cy="653.45" r="3.7" fill="#5b3a9c"/>
<circle cx="724.74" cy="654.9" r="3.7" fill="#5b3a9c"/>
<circle cx="726.09" cy="654.19" r="3.7" fill="#5b3a9c"/>
<circle cx="727.45" cy="654.57" r="3.7" fill="#5b3a9c"/>
<circle cx="728.8" cy="655.24" r="3.7" fill="#5b3a9c"/>
<circle cx="53.15" cy="630.69" r="0.9" fill="#e6defa"/>
<circle cx="55.86" cy="656.32" r="0.9" fill="#e6defa"/>
<circle cx="58.57" cy="660.93" r="0.9" fill="#e6defa"/>
<circle cx="61.28" cy="662.93" r="0.9" fill="#e6defa"/>
<circle cx="63.98" cy="664.92" r="0.9" fill="#e6defa"/>
<circle cx="66.69" cy="666.1" r="0.9" fill="#e6defa"/>
<circle cx="69.4" cy="668.24" r="0.9" fill="#e6defa"/>
<circle cx="72.1" cy="668.85" r="0.9" fill="#e6defa"/>
<circle cx="74.81" cy="671.84" r="0.9" fill="#e6defa"/>
<circle cx="77.52" cy="674.42" r="0.9" fill="#e6defa"/>
<circle cx="80.23" cy="674.54" r="0.9" fill="#e6defa"/>
<circle cx="82.93" cy="675.77" r="0.9" fill="#e6defa"/>
<circle cx="85.64" cy="675.25" r="0.9" fill="#e6defa"/>
<circle cx="88.35" cy="676.88" r="0.9" fill="#e6defa"/>
<circle cx="91.05" cy="676.14" r="0.9" fill="#e6defa"/>
<circle cx="93.76" cy="677.32" r="0.9" fill="#e6defa"/>
<circle cx="96.47" cy="677.95" r="0.9" fill="#e6defa"/>
<circle cx="99.18" cy="679.17" r="0.9" fill="#e6defa"/>
<circle cx="101.88" cy="679.03" r="0.9" fill="#e6defa"/>
<circle cx="104.59" cy="679.21" r="0.9" fill="#e6defa"/>
<circle cx="107.3" cy="679.56" r="0.9" fill="#e6defa"/>
<circle cx="110" cy="681.82" r="0.9" fill="#e6defa"/>
<circle cx="112.71" cy="681.68" r="0.9" fill="#e6defa"/>
<circle cx="115.42" cy="682.72" r="0.9" fill="#e6defa"/>
<circle cx="118.13" cy="683.35" r="0.9" fill="#e6defa"/>
<circle cx="120.83" cy="683.1" r="0.9" fill="#e6defa"/>
<circle cx="123.54" cy="683.75" r="0.9" fill="#e6defa"/>
<circle cx="126.25" cy="685.36" r="0.9" fill="#e6defa"/>
<circle cx="128.96" cy="684.78" r="0.9" fill="#e6defa"/>
<circle cx="131.66" cy="686.02" r="0.9" fill="#e6defa"/>
<circle cx="134.37" cy="685.83" r="0.9" fill="#e6defa"/>
<circle cx="137.08" cy="685.31" r="0.9" fill="#e6defa"/>
<circle cx="139.78" cy="685.43" r="0.9" fill="#e6defa"/>
<circle cx="142.49" cy="685.94" r="0.9" fill="#e6defa"/>
<circle cx="145.2" cy="684.37" r="0.9" fill="#e6defa"/>
<circle cx="147.91" cy="683.92" r="0.9" fill="#e6defa"/>
<circle cx="150.61" cy="683.96" r="0.9" fill="#e6defa"/>
<circle cx="153.32" cy="682.93" r="0.9" fill="#e6defa"/>
<circle cx="156.03" cy="680.39" r="0.9" fill="#e6defa"/>
<circle cx="158.73" cy="679.48" r="0.9" fill="#e6defa"/>
<circle cx="161.44" cy="678.84" r="0.9" fill="#e6defa"/>
<circle cx="164.15" cy="679.49" r="0.9" fill="#e6defa"/>
<circle cx="166.86" cy="680.38" r="0.9" fill="#e6defa"/>
<circle cx="169.56" cy="679.66" r="0.9" fill="#e6defa"/>
<circle cx="172.27" cy="679.32" r="0.9" fill="#e6defa"/>
<circle cx="174.98" cy="680.38" r="0.9" fill="#e6defa"/>
<circle cx="177.68" cy="680.24" r="0.9" fill="#e6defa"/>
<circle cx="180.39" cy="680.22" r="0.9" fill="#e6defa"/>
<circle cx="183.1" cy="679.98" r="0.9" fill="#e6defa"/>
<circle cx="185.81" cy="681.3" r="0.9" fill="#e6defa"/>
<circle cx="188.51" cy="681.69" r="0.9" fill="#e6defa"/>
<circle cx="191.22" cy="681.98" r="0.9" fill="#e6defa"/>
<circle cx="193.93" cy="682.86" r="0.9" fill="#e6defa"/>
<circle cx="196.64" cy="681.94" r="0.9" fill="#e6defa"/>
<circle cx="199.34" cy="682.58" r="0.9" fill="#e6defa"/>
<circle cx="202.05" cy="680.6" r="0.9" fill="#e6defa"/>
<circle cx="204.76" cy="681.54" r="0.9" fill="#e6defa"/>
<circle cx="207.46" cy="681.04" r="0.9" fill="#e6defa"/>
<circle cx="210.17" cy="680.45" r="0.9" fill="#e6defa"/>
<circle cx="212.88" cy="679.56" r="0.9" fill="#e6defa"/>
<circle cx="215.59" cy="677.92" r="0.9" fill="#e6defa"/>
<circle cx="218.29" cy="678.51" r="0.9" fill="#e6defa"/>
<circle cx="221" cy="678.05" r="0.9" fill="#e6defa"/>
<circle cx="223.71" cy="678.12" r="0.9" fill="#e6defa"/>
<circle cx="226.41" cy="677.97" r="0.9" fill="#e6defa"/>
<circle cx="229.12" cy="677.98" r="0.9" fill="#e6defa"/>
<circle cx="231.83" cy="676.82" r="0.9" fill="#e6defa"/>
<circle cx="234.54" cy="677.29" r="0.9" fill="#e6defa"/>
<circle cx="237.24" cy="677.19" r="0.9" fill="#e6defa"/>
<circle cx="239.95" cy="677.21" r="0.9" fill="#e6defa"/>
<circle cx="242.66" cy="676.85" r="0.9" fill="#e6defa"/>
<circle cx="245.36" cy="678.69" r="0.9" fill="#e6defa"/>
<circle cx="248.07" cy="677.83" r="0.9" fill="#e6defa"/>
<circle cx="250.78" cy="678.62" r="0.9" fill="#e6defa"/>
<circle cx="253.49" cy="679.53" r="0.9" fill="#e6defa"/>
<circle cx="256.19" cy="677.81" r="0.9" fill="#e6defa"/>
<circle cx="258.9" cy="677.88" r="0.9" fill="#e6defa"/>
<circle cx="261.61" cy="678.9" r="0.9" fill="#e6defa"/>
<circle cx="264.32" cy="679.01" r="0.9" fill="#e6defa"/>
<circle cx="267.02" cy="678" r="0.9" fill="#e6defa"/>
<circle cx="269.73" cy="677.87" r="0.9" fill="#e6defa"/>
<circle cx="272.44" cy="677.73" r="0.9" fill="#e6defa"/>
<circle cx="275.14" cy="678.05" r="0.9" fill="#e6defa"/>
<circle cx="277.85" cy="677.21" r="0.9" fill="#e6defa"/>
<circle cx="280.56" cy="676.37" r="0.9" fill="#e6defa"/>
<circle cx="283.27" cy="676.88" r="0.9" fill="#e6defa"/>
<circle cx="285.97" cy="676.38" r="0.9" fill="#e6defa"/>
<circle cx="288.68" cy="674.99" r="0.9" fill="#e6defa"/>
<circle cx="291.39" cy="676.01" r="0.9" fill="#e6defa"/>
<circle cx="294.09" cy="675.32" r="0.9" fill="#e6defa"/>
<circle cx="296.8" cy="676.18" r="0.9" fill="#e6defa"/>
<circle cx="299.51" cy="676.78" r="0.9" fill="#e6defa"/>
<circle cx="302.22" cy="676.2" r="0.9" fill="#e6defa"/>
<circle cx="304.92" cy="676.09" r="0.9" fill="#e6defa"/>
<circle cx="307.63" cy="676.62" r="0.9" fill="#e6defa"/>
<circle cx="310.34" cy="676.82" r="0.9" fill="#e6defa"/>
<circle cx="313.04" cy="675.7" r="0.9" fill="#e6defa"/>
<circle cx="315.75" cy="676.61" r="0.9" fill="#e6defa"/>
<circle cx="318.46" cy="675.14" r="0.9" fill="#e6defa"/>
<circle cx="321.17" cy="675.57" r="0.9" fill="#e6defa"/>
<circle cx="323.87" cy="674.07" r="0.9" fill="#e6defa"/>
<circle cx="326.58" cy="675.36" r="0.9" fill="#e6defa"/>
<circle cx="329.29" cy="674.36" r="0.9" fill="#e6defa"/>
<circle cx="332" cy="674.45" r="0.9" fill="#e6defa"/>
<circle cx="334.7" cy="673.17" r="0.9" fill="#e6defa"/>
<circle cx="337.41" cy="674.12" r="0.9" fill="#e6defa"/>
<circle cx="340.12" cy="674.09" r="0.9" fill="#e6defa"/>
<circle cx="342.82" cy="674.39" r="0.9" fill="#e6defa"/>
<circle cx="345.53" cy="673.6" r="0.9" fill="#e6defa"/>
<circle cx="348.24" cy="673.42" r="0.9" fill="#e6defa"/>
<circle cx="350.95" cy="674.94" r="0.9" fill="#e6defa"/>
<circle cx="353.65" cy="674.04" r="0.9" fill="#e6defa"/>
<circle cx="356.36" cy="672.59" r="0.9" fill="#e6defa"/>
<circle cx="359.07" cy="673.09" r="0.9" fill="#e6defa"/>
<circle cx="361.77" cy="671.56" r="0.9" fill="#e6defa"/>
<circle cx="364.48" cy="672.71" r="0.9" fill="#e6defa"/>
<circle cx="367.19" cy="671.61" r="0.9" fill="#e6defa"/>
<circle cx="369.9" cy="670.24" r="0.9" fill="#e6defa"/>
<circle cx="372.6" cy="669.57" r="0.9" fill="#e6defa"/>
<circle cx="375.31" cy="670.52" r="0.9" fill="#e6defa"/>
<circle cx="378.02" cy="669.2" r="0.9" fill="#e6defa"/>
<circle cx="380.72" cy="670.57" r="0.9" fill="#e6defa"/>
<circle cx="383.43" cy="669.71" r="0.9" fill="#e6defa"/>
<circle cx="386.14" cy="669.55" r="0.9" fill="#e6defa"/>
<circle cx="388.85" cy="669.9" r="0.9" fill="#e6defa"/>
<circle cx="391.55" cy="669.04" r="0.9" fill="#e6defa"/>
<circle cx="394.26" cy="669.2" r="0.9" fill="#e6defa"/>
<circle cx="396.97" cy="668.84" r="0.9" fill="#e6defa"/>
<circle cx="399.68" cy="668.13" r="0.9" fill="#e6defa"/>
<circle cx="402.38" cy="669.21" r="0.9" fill="#e6defa"/>
<circle cx="405.09" cy="669.52" r="0.9" fill="#e6defa"/>
<circle cx="407.8" cy="669.11" r="0.9" fill="#e6defa"/>
<circle cx="410.5" cy="670.49" r="0.9" fill="#e6defa"/>
<circle cx="413.21" cy="671.68" r="0.9" fill="#e6defa"/>
<circle cx="415.92" cy="671.19" r="0.9" fill="#e6defa"/>
<circle cx="418.63" cy="673.48" r="0.9" fill="#e6defa"/>
<circle cx="421.33" cy="674.35" r="0.9" fill="#e6defa"/>
<circle cx="424.04" cy="674.91" r="0.9" fill="#e6defa"/>
<circle cx="426.75" cy="674.68" r="0.9" fill="#e6defa"/>
<circle cx="429.45" cy="676.7" r="0.9" fill="#e6defa"/>
<circle cx="432.16" cy="675.21" r="0.9" fill="#e6defa"/>
<circle cx="434.87" cy="673.2" r="0.9" fill="#e6defa"/>
<circle cx="437.58" cy="676.48" r="0.9" fill="#e6defa"/>
<circle cx="440.28" cy="677.87" r="0.9" fill="#e6defa"/>
<circle cx="442.99" cy="678.91" r="0.9" fill="#e6defa"/>
<circle cx="445.7" cy="680.81" r="0.9" fill="#e6defa"/>
<circle cx="448.4" cy="680.83" r="0.9" fill="#e6defa"/>
<circle cx="451.11" cy="680.79" r="0.9" fill="#e6defa"/>
<circle cx="453.82" cy="681.15" r="0.9" fill="#e6defa"/>
<circle cx="456.53" cy="679.24" r="0.9" fill="#e6defa"/>
<circle cx="459.23" cy="678.33" r="0.9" fill="#e6defa"/>
<circle cx="461.94" cy="675.86" r="0.9" fill="#e6defa"/>
<circle cx="464.65" cy="674.38" r="0.9" fill="#e6defa"/>
<circle cx="467.36" cy="673.96" r="0.9" fill="#e6defa"/>
<circle cx="470.06" cy="672.68" r="0.9" fill="#e6defa"/>
<circle cx="472.77" cy="671.97" r="0.9" fill="#e6defa"/>
<circle cx="475.48" cy="669.55" r="0.9" fill="#e6defa"/>
<circle cx="478.18" cy="669.57" r="0.9" fill="#e6defa"/>
<circle cx="480.89" cy="668.81" r="0.9" fill="#e6defa"/>
<circle cx="483.6" cy="669.05" r="0.9" fill="#e6defa"/>
<circle cx="486.31" cy="670.03" r="0.9" fill="#e6defa"/>
<circle cx="489.01" cy="672.65" r="0.9" fill="#e6defa"/>
<circle cx="491.72" cy="672.91" r="0.9" fill="#e6defa"/>
<circle cx="494.43" cy="674" r="0.9" fill="#e6defa"/>
<circle cx="497.13" cy="675.06" r="0.9" fill="#e6defa"/>
<circle cx="499.84" cy="673.19" r="0.9" fill="#e6defa"/>
<circle cx="502.55" cy="670.87" r="0.9" fill="#e6defa"/>
<circle cx="505.26" cy="670.96" r="0.9" fill="#e6defa"/>
<circle cx="507.96" cy="670.25" r="0.9" fill="#e6defa"/>
<circle cx="510.67" cy="669.71" r="0.9" fill="#e6defa"/>
<circle cx="513.38" cy="669.62" r="0.9" fill="#e6defa"/>
<circle cx="516.08" cy="669.14" r="0.9" fill="#e6defa"/>
<circle cx="518.79" cy="667.6" r="0.9" fill="#e6defa"/>
<circle cx="521.5" cy="668.2" r="0.9" fill="#e6defa"/>
<circle cx="524.21" cy="666.61" r="0.9" fill="#e6defa"/>
<circle cx="526.91" cy="667.57" r="0.9" fill="#e6defa"/>
<circle cx="529.62" cy="666.42" r="0.9" fill="#e6defa"/>
<circle cx="532.33" cy="667.06" r="0.9" fill="#e6defa"/>
<circle cx="535.04" cy="665.45" r="0.9" fill="#e6defa"/>
<circle cx="537.74" cy="664.96" r="0.9" fill="#e6defa"/>
<circle cx="540.45" cy="665.75" r="0.9" fill="#e6defa"/>
<circle cx="543.16" cy="665.61" r="0.9" fill="#e6defa"/>
<circle cx="545.86" cy="664.59" r="0.9" fill="#e6defa"/>
<circle cx="548.57" cy="664.64" r="0.9" fill="#e6defa"/>
<circle cx="551.28" cy="664.93" r="0.9" fill="#e6defa"/>
<circle cx="553.99" cy="664.81" r="0.9" fill="#e6defa"/>
<circle cx="556.69" cy="666.48" r="0.9" fill="#e6defa"/>
<circle cx="559.4" cy="666.02" r="0.9" fill="#e6defa"/>
<circle cx="562.11" cy="666.94" r="0.9" fill="#e6defa"/>
<circle cx="564.81" cy="667.7" r="0.9" fill="#e6defa"/>
<circle cx="567.52" cy="667.46" r="0.9" fill="#e6defa"/>
<circle cx="570.23" cy="668.55" r="0.9" fill="#e6defa"/>
<circle cx="572.94" cy="667.26" r="0.9" fill="#e6defa"/>
<circle cx="575.64" cy="666.43" r="0.9" fill="#e6defa"/>
<circle cx="578.35" cy="665.33" r="0.9" fill="#e6defa"/>
<circle cx="581.06" cy="663.63" r="0.9" fill="#e6defa"/>
<circle cx="583.76" cy="663.35" r="0.9" fill="#e6defa"/>
<circle cx="586.47" cy="661.79" r="0.9" fill="#e6defa"/>
<circle cx="589.18" cy="662.32" r="0.9" fill="#e6defa"/>
<circle cx="591.89" cy="660.95" r="0.9" fill="#e6defa"/>
<circle cx="594.59" cy="661.4" r="0.9" fill="#e6defa"/>
<circle cx="597.3" cy="659.91" r="0.9" fill="#e6defa"/>
<circle cx="600.01" cy="660.31" r="0.9" fill="#e6defa"/>
<circle cx="602.72" cy="660.29" r="0.9" fill="#e6defa"/>
<circle cx="605.42" cy="658.97" r="0.9" fill="#e6defa"/>
<circle cx="608.13" cy="660.11" r="0.9" fill="#e6defa"/>
<circle cx="610.84" cy="659.8" r="0.9" fill="#e6defa"/>
<circle cx="613.54" cy="658.27" r="0.9" fill="#e6defa"/>
<circle cx="616.25" cy="658.12" r="0.9" fill="#e6defa"/>
<circle cx="618.96" cy="657.72" r="0.9" fill="#e6defa"/>
<circle cx="621.67" cy="658.72" r="0.9" fill="#e6defa"/>
<circle cx="624.37" cy="657.73" r="0.9" fill="#e6defa"/>
<circle cx="627.08" cy="656.81" r="0.9" fill="#e6defa"/>
<circle cx="629.79" cy="656.86" r="0.9" fill="#e6defa"/>
<circle cx="632.49" cy="656.5" r="0.9" fill="#e6defa"/>
<circle cx="635.2" cy="656.32" r="0.9" fill="#e6defa"/>
<circle cx="637.91" cy="654.6" r="0.9" fill="#e6defa"/>
<circle cx="640.62" cy="654.8" r="0.9" fill="#e6defa"/>
<circle cx="643.32" cy="653.38" r="0.9" fill="#e6defa"/>
<circle cx="646.03" cy="654.3" r="0.9" fill="#e6defa"/>
<circle cx="648.74" cy="652.21" r="0.9" fill="#e6defa"/>
<circle cx="651.44" cy="653.29" r="0.9" fill="#e6defa"/>
<circle cx="654.15" cy="652.3" r="0.9" fill="#e6defa"/>
<circle cx="656.86" cy="651.64" r="0.9" fill="#e6defa"/>
<circle cx="659.57" cy="652.22" r="0.9" fill="#e6defa"/>
<circle cx="662.27" cy="651.87" r="0.9" fill="#e6defa"/>
<circle cx="664.98" cy="650.52" r="0.9" fill="#e6defa"/>
<circle cx="667.69" cy="651.46" r="0.9" fill="#e6defa"/>
<circle cx="670.4" cy="650.83" r="0.9" fill="#e6defa"/>
<circle cx="673.1" cy="650.62" r="0.9" fill="#e6defa"/>
<circle cx="675.81" cy="650.63" r="0.9" fill="#e6defa"/>
<circle cx="678.52" cy="649.22" r="0.9" fill="#e6defa"/>
<circle cx="681.22" cy="649.32" r="0.9" fill="#e6defa"/>
<circle cx="683.93" cy="649.28" r="0.9" fill="#e6defa"/>
<circle cx="686.64" cy="648.16" r="0.9" fill="#e6defa"/>
<circle cx="689.35" cy="646.42" r="0.9" fill="#e6defa"/>
<circle cx="692.05" cy="645.88" r="0.9" fill="#e6defa"/>
<circle cx="694.76" cy="644.4" r="0.9" fill="#e6defa"/>
<circle cx="697.47" cy="644.14" r="0.9" fill="#e6defa"/>
<circle cx="700.17" cy="644.69" r="0.9" fill="#e6defa"/>
<circle cx="702.88" cy="644.53" r="0.9" fill="#e6defa"/>
<circle cx="705.59" cy="645.37" r="0.9" fill="#e6defa"/>
<circle cx="708.3" cy="644.55" r="0.9" fill="#e6defa"/>
<circle cx="711" cy="645.88" r="0.9" fill="#e6defa"/>
<circle cx="713.71" cy="648.18" r="0.9" fill="#e6defa"/>
<circle cx="716.42" cy="649.78" r="0.9" fill="#e6defa"/>
<circle cx="719.12" cy="651.62" r="0.9" fill="#e6defa"/>
<circle cx="721.83" cy="653.25" r="0.9" fill="#e6defa"/>
<circle cx="724.54" cy="654.1" r="0.9" fill="#e6defa"/>
<circle cx="727.25" cy="653.77" r="0.9" fill="#e6defa"/>
</g>
<rect x="51.5" y="1" width="306.5" height="232" fill="none" stroke="#4a4a4a" stroke-width="1.15"/>
<rect x="458.5" y="1" width="310.1" height="232" fill="none" stroke="#4a4a4a" stroke-width="1.15"/>
<rect x="51.7" y="285.3" width="306.8" height="227.7" fill="none" stroke="#4a4a4a" stroke-width="1.15"/>
<rect x="456.7" y="285.2" width="311.3" height="230.3" fill="none" stroke="#4a4a4a" stroke-width="1.15"/>
<rect x="52.2" y="567.2" width="676.6" height="223.2" fill="none" stroke="#4a4a4a" stroke-width="1.15"/>
<rect x="449.7" y="340.5" width="14" height="5" fill="#fff" transform="rotate(-20 456.7 343)"/>
<line x1="450.7" y1="343" x2="462.7" y2="338.6" stroke="#4a4a4a" stroke-width="1.2"/>
<line x1="450.7" y1="347.4" x2="462.7" y2="343" stroke="#4a4a4a" stroke-width="1.2"/>
<rect x="761" y="340.5" width="14" height="5" fill="#fff" transform="rotate(-20 768 343)"/>
<line x1="762" y1="343" x2="774" y2="338.6" stroke="#4a4a4a" stroke-width="1.2"/>
<line x1="762" y1="347.4" x2="774" y2="343" stroke="#4a4a4a" stroke-width="1.2"/>
<path d="M147.3 705.3V724.9H70" fill="none" stroke="#222" stroke-width="1.2"/>
<path d="M64.5 724.9L73.5 720.6L71.5 724.9L73.5 729.2Z" fill="#222"/>
<path d="M590.7 599V618.6H675" fill="none" stroke="#222" stroke-width="1.2"/>
<path d="M680.5 618.6L671.5 614.3L673.5 618.6L671.5 622.9Z" fill="#222"/>
<line x1="341" y1="726.2" x2="368.5" y2="726.2" stroke="#e8712c" stroke-width="1.6"/>
<circle cx="354.8" cy="726.2" r="3.9" fill="#e8712c"/><circle cx="354.8" cy="726" r="0.97" fill="#f8c8a0"/>
<text x="372" y="731" font-size="14" text-anchor="start" font-weight="bold" fill="#111" >Charge</text>
<line x1="341" y1="747.8" x2="368.5" y2="747.8" stroke="#5b3a9c" stroke-width="1.6"/>
<circle cx="354.8" cy="747.8" r="3.9" fill="#5b3a9c"/><circle cx="354.8" cy="747.6" r="0.97" fill="#b8a8e0"/>
<text x="372" y="752.6" font-size="14" text-anchor="start" font-weight="bold" fill="#111" >Discharge</text>
</svg></body></html>
